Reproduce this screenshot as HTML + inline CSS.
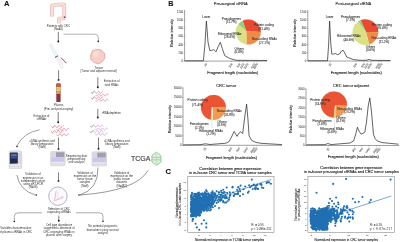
<!DOCTYPE html>
<html><head><meta charset="utf-8"><style>
html,body{margin:0;padding:0;background:#fff;width:400px;height:242px;overflow:hidden}
svg{display:block;filter:blur(0.3px)}
text{font-family:"Liberation Sans", sans-serif}
</style></head><body>
<svg width="400" height="242" viewBox="0 0 400 242">
<rect width="400" height="242" fill="#fff"/>
<text x="4.00" y="6.30" font-size="7.6" text-anchor="start" fill="#151515" stroke="#151515" stroke-width="0.1" font-weight="bold" >A</text>
<path d="M51.9,16.6 L51.9,6.2 Q51.9,5.0 53.4,5.0 L63,4.3 Q64.3,4.2 64.3,5.6 L64.3,17.2 Q64.3,18.5 62.8,18.5 L60.2,18.5 Q58.9,18.5 58.9,19.8 L58.9,23.2" fill="none" stroke="#e6b6aa" stroke-width="3.7" stroke-linejoin="round"/>
<path d="M51.9,16.6 L51.9,6.2 Q51.9,5.0 53.4,5.0 L63,4.3 Q64.3,4.2 64.3,5.6 L64.3,17.2 Q64.3,18.5 62.8,18.5 L60.2,18.5 Q58.9,18.5 58.9,19.8 L58.9,23.2" fill="none" stroke="#f8e0d9" stroke-width="2.4" stroke-linejoin="round"/>
<circle cx="64.6" cy="17.2" r="0.9" fill="#8a4858"/>
<text x="58.40" y="26.63" font-size="2.85" text-anchor="middle" fill="#3a3a3a" stroke="#3a3a3a" stroke-width="0.01" >Patients with CRC</text>
<text x="58.40" y="30.13" font-size="2.85" text-anchor="middle" fill="#3a3a3a" stroke="#3a3a3a" stroke-width="0.01" >(N=40)</text>
<line x1="58.3" y1="31.8" x2="58.3" y2="41.199999999999996" stroke="#2a2a2a" stroke-width="0.6"/>
<circle cx="58.3" cy="41.5" r="0.95" fill="#1a1a1a"/>
<path d="M63.5,34.2 L95,34.2 Q98.3,34.2 98.3,37.5 L98.3,41.2" fill="none" stroke="#555" stroke-width="0.45"/>
<circle cx="98.3" cy="41.4" r="0.8" fill="#1a1a1a"/>
<line x1="50.8" y1="45.2" x2="62.1" y2="67.0" stroke="#dfe6ee" stroke-width="3.0" stroke-linecap="round"/>
<line x1="50.8" y1="45.2" x2="62.1" y2="67.0" stroke="#f4f7fa" stroke-width="1.8" stroke-linecap="round"/>
<line x1="55.0" y1="57.4" x2="58.0" y2="55.8" stroke="#70707a" stroke-width="1.1"/>
<line x1="61.0" y1="57.6" x2="66.4" y2="63.2" stroke="#9a2c44" stroke-width="0.9"/>
<line x1="59.8" y1="59.6" x2="64.4" y2="64.6" stroke="#eec4d0" stroke-width="0.5"/>
<polygon points="104.95,57.87 102.43,61.56 98.57,63.95 94.21,62.58 90.88,59.52 90.64,54.97 92.56,50.80 96.90,49.45 101.29,50.04 104.52,53.28" fill="#f6cfc8" stroke="#d49690" stroke-width="0.7" stroke-linejoin="round"/>
<circle cx="96" cy="54" r="3" fill="#f9dcd6"/>
<text x="98.60" y="68.63" font-size="2.85" text-anchor="middle" fill="#3a3a3a" stroke="#3a3a3a" stroke-width="0.01" >Tissue</text>
<text x="98.60" y="72.03" font-size="2.85" text-anchor="middle" fill="#3a3a3a" stroke="#3a3a3a" stroke-width="0.01" >(Tumor and adjacent normal)</text>
<line x1="58.6" y1="70.2" x2="58.6" y2="79.6" stroke="#2a2a2a" stroke-width="0.6"/>
<circle cx="58.6" cy="79.89999999999999" r="0.95" fill="#1a1a1a"/>
<rect x="56.3" y="83.6" width="4.3" height="18.5" rx="0.9" fill="#8c3242"/>
<rect x="56.3" y="83.6" width="4.3" height="3.3" fill="#c25a3a"/>
<rect x="56.3" y="86.9" width="4.3" height="4.2" fill="#e2c676"/>
<rect x="56.3" y="91.1" width="4.3" height="2.8" fill="#d8a852"/>
<text x="58.60" y="106.23" font-size="2.85" text-anchor="middle" fill="#3a3a3a" stroke="#3a3a3a" stroke-width="0.01" >Plasma</text>
<text x="58.60" y="109.83" font-size="2.85" text-anchor="middle" fill="#3a3a3a" stroke="#3a3a3a" stroke-width="0.01" >(Pre- and post-surgery)</text>
<line x1="97.8" y1="77.3" x2="97.8" y2="87.0" stroke="#2a2a2a" stroke-width="0.6"/>
<circle cx="97.8" cy="87.3" r="0.95" fill="#1a1a1a"/>
<text x="111.60" y="82.23" font-size="2.85" text-anchor="middle" fill="#3a3a3a" stroke="#3a3a3a" stroke-width="0.01" >Extraction of</text>
<text x="111.60" y="85.53" font-size="2.85" text-anchor="middle" fill="#3a3a3a" stroke="#3a3a3a" stroke-width="0.01" >total RNAs</text>
<polyline points="91.20,92.30 91.37,92.57 91.53,92.83 91.70,93.05 91.87,93.22 92.03,93.34 92.20,93.40 92.37,93.38 92.53,93.30 92.70,93.16 92.87,92.96 93.03,92.73 93.20,92.46 93.37,92.19 93.53,91.92 93.70,91.68 93.87,91.48 94.03,91.32 94.20,91.23 94.37,91.20 94.53,91.24 94.70,91.35 94.87,91.51 95.03,91.73 95.20,91.98 95.37,92.25 95.53,92.52 95.70,92.78 95.87,93.01 96.03,93.19 96.20,93.32 96.37,93.39 96.53,93.39 96.70,93.32 96.87,93.19 97.03,93.01 97.20,92.78 97.37,92.52 97.53,92.25 97.70,91.98 97.87,91.73 98.03,91.51 98.20,91.35 98.37,91.24 98.53,91.20 98.70,91.23 98.87,91.32 99.03,91.48 99.20,91.68 99.37,91.92 99.53,92.19 99.70,92.46 99.87,92.73 100.03,92.96 100.20,93.16 100.37,93.30 100.53,93.38 100.70,93.40 100.87,93.34 101.03,93.22 101.20,93.05 101.37,92.83 101.53,92.57 101.70,92.30 101.87,92.03 102.03,91.77 102.20,91.55 102.37,91.38 102.53,91.26 102.70,91.20 102.87,91.22 103.03,91.30 103.20,91.44" fill="none" stroke="#d47890" stroke-width="0.65"/>
<polyline points="91.20,92.30 91.37,92.57 91.53,92.83 91.70,93.05 91.87,93.22 92.03,93.34 92.20,93.40 92.37,93.38 92.53,93.30 92.70,93.16 92.87,92.96 93.03,92.73 93.20,92.46 93.37,92.19 93.53,91.92 93.70,91.68 93.87,91.48 94.03,91.32 94.20,91.23 94.37,91.20 94.53,91.24" fill="none" stroke="#a8a0a8" stroke-width="0.65"/>
<polyline points="95.70,95.00 95.87,95.27 96.03,95.53 96.20,95.75 96.37,95.93 96.54,96.04 96.70,96.10 96.87,96.08 97.04,96.00 97.20,95.86 97.37,95.66 97.54,95.42 97.71,95.16 97.87,94.88 98.04,94.61 98.21,94.37 98.37,94.17 98.54,94.02 98.71,93.92 98.88,93.90 99.04,93.95 99.21,94.06 99.38,94.22 99.54,94.44 99.71,94.69 99.88,94.96 100.04,95.24 100.21,95.49 100.38,95.72 100.55,95.91 100.71,96.03 100.88,96.09 101.05,96.09 101.21,96.02 101.38,95.88 101.55,95.69 101.72,95.45 101.88,95.19 102.05,94.92 102.22,94.65 102.38,94.40 102.55,94.19 102.72,94.03 102.89,93.93 103.05,93.90 103.22,93.94 103.39,94.04 103.55,94.20 103.72,94.41 103.89,94.66 104.06,94.93 104.22,95.20 104.39,95.46 104.56,95.69 104.72,95.88 104.89,96.02 105.06,96.09 105.23,96.09 105.39,96.03 105.56,95.90 105.73,95.72 105.89,95.49 106.06,95.23 106.23,94.95 106.39,94.68 106.56,94.43 106.73,94.22 106.90,94.05 107.06,93.94 107.23,93.90 107.40,93.93 107.56,94.02 107.73,94.17 107.90,94.38 108.07,94.62 108.23,94.89 108.40,95.16" fill="none" stroke="#d47890" stroke-width="0.65"/>
<polyline points="91.20,97.80 91.37,98.07 91.53,98.33 91.70,98.55 91.87,98.72 92.03,98.84 92.20,98.90 92.37,98.88 92.53,98.80 92.70,98.66 92.87,98.46 93.03,98.23 93.20,97.96 93.37,97.69 93.53,97.42 93.70,97.18 93.87,96.98 94.03,96.82 94.20,96.73 94.37,96.70 94.53,96.74 94.70,96.85 94.87,97.01 95.03,97.23 95.20,97.48 95.37,97.75 95.53,98.02 95.70,98.28 95.87,98.51 96.03,98.69 96.20,98.82 96.37,98.89 96.53,98.89 96.70,98.82 96.87,98.69 97.03,98.51 97.20,98.28 97.37,98.02 97.53,97.75 97.70,97.48 97.87,97.23 98.03,97.01 98.20,96.85 98.37,96.74 98.53,96.70 98.70,96.73 98.87,96.82 99.03,96.98 99.20,97.18 99.37,97.42 99.53,97.69 99.70,97.96 99.87,98.23 100.03,98.46 100.20,98.66 100.37,98.80 100.53,98.88 100.70,98.90 100.87,98.84 101.03,98.72 101.20,98.55 101.37,98.33 101.53,98.07 101.70,97.80 101.87,97.53 102.03,97.27 102.20,97.05 102.37,96.88 102.53,96.76 102.70,96.70 102.87,96.72 103.03,96.80 103.20,96.94" fill="none" stroke="#d47890" stroke-width="0.65"/>
<polyline points="91.20,97.80 91.37,98.07 91.53,98.33 91.70,98.55 91.87,98.72 92.03,98.84 92.20,98.90 92.37,98.88 92.53,98.80 92.70,98.66 92.87,98.46 93.03,98.23 93.20,97.96 93.37,97.69 93.53,97.42 93.70,97.18 93.87,96.98 94.03,96.82 94.20,96.73 94.37,96.70 94.53,96.74" fill="none" stroke="#a8a0a8" stroke-width="0.65"/>
<polyline points="95.70,100.30 95.87,100.57 96.03,100.83 96.20,101.05 96.37,101.23 96.54,101.34 96.70,101.40 96.87,101.38 97.04,101.30 97.20,101.16 97.37,100.96 97.54,100.72 97.71,100.46 97.87,100.18 98.04,99.91 98.21,99.67 98.37,99.47 98.54,99.32 98.71,99.22 98.88,99.20 99.04,99.25 99.21,99.36 99.38,99.52 99.54,99.74 99.71,99.99 99.88,100.26 100.04,100.54 100.21,100.79 100.38,101.02 100.55,101.21 100.71,101.33 100.88,101.39 101.05,101.39 101.21,101.32 101.38,101.18 101.55,100.99 101.72,100.75 101.88,100.49 102.05,100.22 102.22,99.95 102.38,99.70 102.55,99.49 102.72,99.33 102.89,99.23 103.05,99.20 103.22,99.24 103.39,99.34 103.55,99.50 103.72,99.71 103.89,99.96 104.06,100.23 104.22,100.50 104.39,100.76 104.56,100.99 104.72,101.18 104.89,101.32 105.06,101.39 105.23,101.39 105.39,101.33 105.56,101.20 105.73,101.02 105.89,100.79 106.06,100.53 106.23,100.25 106.39,99.98 106.56,99.73 106.73,99.52 106.90,99.35 107.06,99.24 107.23,99.20 107.40,99.23 107.56,99.32 107.73,99.47 107.90,99.68 108.07,99.92 108.23,100.19 108.40,100.46" fill="none" stroke="#d47890" stroke-width="0.65"/>
<line x1="97.8" y1="108.8" x2="97.8" y2="117.2" stroke="#2a2a2a" stroke-width="0.6"/>
<circle cx="97.8" cy="117.5" r="0.95" fill="#1a1a1a"/>
<text x="111.30" y="114.43" font-size="2.85" text-anchor="middle" fill="#3a3a3a" stroke="#3a3a3a" stroke-width="0.01" >rRNA depletion</text>
<polyline points="90.50,126.00 90.67,126.27 90.83,126.53 91.00,126.75 91.17,126.93 91.34,127.04 91.50,127.10 91.67,127.08 91.84,127.00 92.00,126.86 92.17,126.66 92.34,126.42 92.51,126.16 92.67,125.88 92.84,125.61 93.01,125.37 93.17,125.17 93.34,125.02 93.51,124.92 93.67,124.90 93.84,124.95 94.01,125.06 94.18,125.22 94.34,125.44 94.51,125.69 94.68,125.96 94.84,126.24 95.01,126.49 95.18,126.72 95.35,126.91 95.51,127.03 95.68,127.09 95.85,127.09 96.01,127.02 96.18,126.88 96.35,126.69 96.52,126.45 96.68,126.19 96.85,125.92 97.02,125.65 97.18,125.40 97.35,125.19 97.52,125.03 97.69,124.93 97.85,124.90 98.02,124.94 98.19,125.04 98.35,125.20 98.52,125.41 98.69,125.66 98.86,125.93 99.02,126.20 99.19,126.46 99.36,126.69 99.52,126.88 99.69,127.02 99.86,127.09 100.03,127.09 100.19,127.03 100.36,126.90 100.53,126.72 100.69,126.49 100.86,126.23 101.03,125.95 101.19,125.68 101.36,125.43 101.53,125.22 101.70,125.05 101.86,124.94 102.03,124.90 102.20,124.93 102.36,125.02 102.53,125.17 102.70,125.38 102.87,125.62 103.03,125.89 103.20,126.16" fill="none" stroke="#c890d4" stroke-width="0.65"/>
<polyline points="90.50,126.00 90.67,126.27 90.83,126.53 91.00,126.75 91.17,126.93 91.34,127.04 91.50,127.10 91.67,127.08 91.84,127.00 92.00,126.86 92.17,126.66 92.34,126.42 92.51,126.16 92.67,125.88 92.84,125.61 93.01,125.37 93.17,125.17 93.34,125.02 93.51,124.92 93.67,124.90 93.84,124.95 94.01,125.06" fill="none" stroke="#a8a0a8" stroke-width="0.65"/>
<polyline points="95.00,129.00 95.17,129.27 95.34,129.53 95.50,129.75 95.67,129.93 95.84,130.05 96.01,130.10 96.18,130.08 96.34,130.00 96.51,129.85 96.68,129.65 96.85,129.40 97.02,129.14 97.18,128.86 97.35,128.60 97.52,128.35 97.69,128.15 97.86,128.00 98.02,127.92 98.19,127.90 98.36,127.95 98.53,128.07 98.70,128.25 98.86,128.47 99.03,128.73 99.20,129.00 99.37,129.27 99.54,129.53 99.70,129.75 99.87,129.93 100.04,130.05 100.21,130.10 100.38,130.08 100.54,130.00 100.71,129.85 100.88,129.65 101.05,129.40 101.22,129.14 101.38,128.86 101.55,128.60 101.72,128.35 101.89,128.15 102.06,128.00 102.22,127.92 102.39,127.90 102.56,127.95 102.73,128.07 102.90,128.25 103.06,128.47 103.23,128.73 103.40,129.00 103.57,129.27 103.74,129.53 103.90,129.75 104.07,129.93 104.24,130.05 104.41,130.10 104.58,130.08 104.74,130.00 104.91,129.85 105.08,129.65 105.25,129.40 105.42,129.14 105.58,128.86 105.75,128.60 105.92,128.35 106.09,128.15 106.26,128.00 106.42,127.92 106.59,127.90 106.76,127.95 106.93,128.07 107.10,128.25 107.26,128.47 107.43,128.73 107.60,129.00" fill="none" stroke="#c890d4" stroke-width="0.65"/>
<polyline points="90.00,131.60 90.17,131.87 90.33,132.13 90.50,132.35 90.67,132.53 90.84,132.64 91.00,132.70 91.17,132.68 91.34,132.60 91.50,132.46 91.67,132.26 91.84,132.02 92.01,131.76 92.17,131.48 92.34,131.21 92.51,130.97 92.67,130.77 92.84,130.62 93.01,130.52 93.17,130.50 93.34,130.54 93.51,130.65 93.68,130.82 93.84,131.04 94.01,131.29 94.18,131.56 94.34,131.84 94.51,132.09 94.68,132.32 94.85,132.50 95.01,132.63 95.18,132.69 95.35,132.69 95.51,132.62 95.68,132.48 95.85,132.29 96.02,132.05 96.18,131.79 96.35,131.52 96.52,131.25 96.68,131.00 96.85,130.79 97.02,130.63 97.18,130.53 97.35,130.50 97.52,130.53 97.69,130.64 97.85,130.80 98.02,131.01 98.19,131.26 98.35,131.53 98.52,131.80 98.69,132.06 98.86,132.29 99.02,132.48 99.19,132.62 99.36,132.69 99.52,132.69 99.69,132.63 99.86,132.50 100.03,132.32 100.19,132.09 100.36,131.83 100.53,131.56 100.69,131.29 100.86,131.03 101.03,130.82 101.19,130.65 101.36,130.54 101.53,130.50 101.70,130.53 101.86,130.62 102.03,130.77 102.20,130.98 102.36,131.22 102.53,131.49 102.70,131.76 102.87,132.03 103.03,132.26 103.20,132.46" fill="none" stroke="#c890d4" stroke-width="0.65"/>
<polyline points="90.00,131.60 90.17,131.87 90.33,132.13 90.50,132.35 90.67,132.53 90.84,132.64 91.00,132.70 91.17,132.68 91.34,132.60 91.50,132.46 91.67,132.26 91.84,132.02 92.01,131.76 92.17,131.48 92.34,131.21 92.51,130.97 92.67,130.77 92.84,130.62 93.01,130.52 93.17,130.50 93.34,130.54 93.51,130.65 93.68,130.82" fill="none" stroke="#a8a0a8" stroke-width="0.65"/>
<polyline points="95.00,134.20 95.17,134.47 95.34,134.73 95.50,134.95 95.67,135.13 95.84,135.25 96.01,135.30 96.18,135.28 96.34,135.20 96.51,135.05 96.68,134.85 96.85,134.60 97.02,134.34 97.18,134.06 97.35,133.80 97.52,133.55 97.69,133.35 97.86,133.20 98.02,133.12 98.19,133.10 98.36,133.15 98.53,133.27 98.70,133.45 98.86,133.67 99.03,133.93 99.20,134.20 99.37,134.47 99.54,134.73 99.70,134.95 99.87,135.13 100.04,135.25 100.21,135.30 100.38,135.28 100.54,135.20 100.71,135.05 100.88,134.85 101.05,134.60 101.22,134.34 101.38,134.06 101.55,133.80 101.72,133.55 101.89,133.35 102.06,133.20 102.22,133.12 102.39,133.10 102.56,133.15 102.73,133.27 102.90,133.45 103.06,133.67 103.23,133.93 103.40,134.20 103.57,134.47 103.74,134.73 103.90,134.95 104.07,135.13 104.24,135.25 104.41,135.30 104.58,135.28 104.74,135.20 104.91,135.05 105.08,134.85 105.25,134.60 105.42,134.34 105.58,134.06 105.75,133.80 105.92,133.55 106.09,133.35 106.26,133.20 106.42,133.12 106.59,133.10 106.76,133.15 106.93,133.27 107.10,133.45 107.26,133.67 107.43,133.93 107.60,134.20" fill="none" stroke="#c890d4" stroke-width="0.65"/>
<line x1="58.2" y1="112.0" x2="58.2" y2="122.0" stroke="#2a2a2a" stroke-width="0.6"/>
<circle cx="58.2" cy="122.3" r="0.95" fill="#1a1a1a"/>
<text x="41.50" y="116.63" font-size="2.85" text-anchor="middle" fill="#3a3a3a" stroke="#3a3a3a" stroke-width="0.01" >Extraction of</text>
<text x="41.50" y="119.93" font-size="2.85" text-anchor="middle" fill="#3a3a3a" stroke="#3a3a3a" stroke-width="0.01" >cfRNAs</text>
<polyline points="51.70,126.60 51.87,126.87 52.04,127.13 52.21,127.36 52.37,127.53 52.54,127.65 52.71,127.70 52.88,127.68 53.05,127.59 53.22,127.44 53.39,127.24 53.55,127.00 53.72,126.73 53.89,126.45 54.06,126.18 54.23,125.94 54.40,125.74 54.57,125.60 54.73,125.52 54.90,125.50 55.07,125.56 55.24,125.68 55.41,125.86 55.58,126.09 55.75,126.35 55.91,126.62 56.08,126.90 56.25,127.15 56.42,127.37 56.59,127.54 56.76,127.65 56.93,127.70 57.09,127.67 57.26,127.58 57.43,127.43 57.60,127.22 57.77,126.97 57.94,126.70 58.11,126.43 58.27,126.16 58.44,125.92 58.61,125.73 58.78,125.59 58.95,125.51 59.12,125.51 59.29,125.57 59.45,125.70 59.62,125.88 59.79,126.11 59.96,126.37 60.13,126.65 60.30,126.92 60.47,127.17 60.63,127.39 60.80,127.55 60.97,127.66 61.14,127.70 61.31,127.67 61.48,127.57 61.65,127.41 61.81,127.20 61.98,126.95 62.15,126.68 62.32,126.40 62.49,126.14 62.66,125.91 62.83,125.71 62.99,125.58 63.16,125.51 63.33,125.51 63.50,125.58" fill="none" stroke="#d86880" stroke-width="0.65"/>
<polyline points="51.70,126.60 51.87,126.87 52.04,127.13 52.21,127.36 52.37,127.53 52.54,127.65 52.71,127.70 52.88,127.68 53.05,127.59 53.22,127.44 53.39,127.24 53.55,127.00 53.72,126.73 53.89,126.45 54.06,126.18 54.23,125.94 54.40,125.74 54.57,125.60 54.73,125.52 54.90,125.50 55.07,125.56" fill="none" stroke="#b8a0a8" stroke-width="0.65"/>
<polyline points="56.70,129.40 56.87,129.67 57.04,129.93 57.21,130.15 57.37,130.33 57.54,130.45 57.71,130.50 57.88,130.48 58.05,130.39 58.22,130.24 58.38,130.04 58.55,129.80 58.72,129.53 58.89,129.25 59.06,128.98 59.23,128.74 59.40,128.54 59.56,128.40 59.73,128.32 59.90,128.30 60.07,128.36 60.24,128.48 60.41,128.66 60.58,128.89 60.74,129.15 60.91,129.42 61.08,129.69 61.25,129.95 61.42,130.17 61.59,130.34 61.75,130.45 61.92,130.50 62.09,130.48 62.26,130.38 62.43,130.23 62.60,130.02 62.77,129.78 62.93,129.51 63.10,129.23 63.27,128.97 63.44,128.73 63.61,128.53 63.78,128.39 63.95,128.31 64.11,128.30 64.28,128.37 64.45,128.49 64.62,128.68 64.79,128.90 64.96,129.17 65.12,129.44 65.29,129.71 65.46,129.97 65.63,130.18 65.80,130.35 65.97,130.46 66.14,130.50 66.30,130.47 66.47,130.37 66.64,130.22 66.81,130.01 66.98,129.76 67.15,129.49 67.32,129.21 67.48,128.95 67.65,128.71 67.82,128.52 67.99,128.38 68.16,128.31 68.33,128.31 68.49,128.37 68.66,128.50 68.83,128.69 69.00,128.92" fill="none" stroke="#d86880" stroke-width="0.65"/>
<polyline points="51.30,131.60 51.47,131.87 51.63,132.13 51.80,132.35 51.97,132.53 52.14,132.64 52.30,132.70 52.47,132.68 52.64,132.60 52.80,132.46 52.97,132.26 53.14,132.02 53.31,131.76 53.47,131.48 53.64,131.21 53.81,130.97 53.97,130.77 54.14,130.62 54.31,130.52 54.48,130.50 54.64,130.55 54.81,130.66 54.98,130.82 55.14,131.04 55.31,131.29 55.48,131.56 55.65,131.84 55.81,132.10 55.98,132.32 56.15,132.51 56.31,132.63 56.48,132.69 56.65,132.69 56.82,132.61 56.98,132.48 57.15,132.29 57.32,132.05 57.48,131.79 57.65,131.52 57.82,131.25 57.98,131.00 58.15,130.79 58.32,130.63 58.49,130.53 58.65,130.50 58.82,130.54 58.99,130.64 59.15,130.80 59.32,131.01 59.49,131.26 59.66,131.53 59.82,131.80 59.99,132.06 60.16,132.30 60.32,132.48 60.49,132.62 60.66,132.69 60.83,132.69 60.99,132.63 61.16,132.50 61.33,132.31 61.49,132.09 61.66,131.83 61.83,131.55 62.00,131.28 62.16,131.03 62.33,130.82 62.50,130.65 62.66,130.54 62.83,130.50 63.00,130.53 63.17,130.62 63.33,130.77 63.50,130.98" fill="none" stroke="#d86880" stroke-width="0.65"/>
<polyline points="51.30,131.60 51.47,131.87 51.63,132.13 51.80,132.35 51.97,132.53 52.14,132.64 52.30,132.70 52.47,132.68 52.64,132.60 52.80,132.46 52.97,132.26 53.14,132.02 53.31,131.76 53.47,131.48 53.64,131.21 53.81,130.97 53.97,130.77 54.14,130.62 54.31,130.52 54.48,130.50 54.64,130.55" fill="none" stroke="#b8a0a8" stroke-width="0.65"/>
<polyline points="56.70,134.80 56.87,135.07 57.04,135.33 57.21,135.55 57.37,135.73 57.54,135.85 57.71,135.90 57.88,135.88 58.05,135.79 58.22,135.64 58.38,135.44 58.55,135.20 58.72,134.93 58.89,134.65 59.06,134.38 59.23,134.14 59.40,133.94 59.56,133.80 59.73,133.72 59.90,133.70 60.07,133.76 60.24,133.88 60.41,134.06 60.58,134.29 60.74,134.55 60.91,134.82 61.08,135.09 61.25,135.35 61.42,135.57 61.59,135.74 61.75,135.85 61.92,135.90 62.09,135.88 62.26,135.78 62.43,135.63 62.60,135.42 62.77,135.18 62.93,134.91 63.10,134.63 63.27,134.37 63.44,134.13 63.61,133.93 63.78,133.79 63.95,133.71 64.11,133.70 64.28,133.77 64.45,133.89 64.62,134.08 64.79,134.30 64.96,134.57 65.12,134.84 65.29,135.11 65.46,135.37 65.63,135.58 65.80,135.75 65.97,135.86 66.14,135.90 66.30,135.87 66.47,135.77 66.64,135.62 66.81,135.41 66.98,135.16 67.15,134.89 67.32,134.61 67.48,134.35 67.65,134.11 67.82,133.92 67.99,133.78 68.16,133.71 68.33,133.71 68.49,133.77 68.66,133.90 68.83,134.09 69.00,134.32" fill="none" stroke="#d86880" stroke-width="0.65"/>
<line x1="58.5" y1="137.5" x2="58.5" y2="148.60000000000002" stroke="#2a2a2a" stroke-width="0.6"/>
<circle cx="58.5" cy="148.9" r="0.95" fill="#1a1a1a"/>
<line x1="98.5" y1="137.5" x2="98.5" y2="148.4" stroke="#2a2a2a" stroke-width="0.6"/>
<circle cx="98.5" cy="148.7" r="0.95" fill="#1a1a1a"/>
<text x="42.20" y="141.53" font-size="2.85" text-anchor="middle" fill="#3a3a3a" stroke="#3a3a3a" stroke-width="0.01" >cDNA synthesis and</text>
<text x="42.20" y="144.58" font-size="2.85" text-anchor="middle" fill="#3a3a3a" stroke="#3a3a3a" stroke-width="0.01" >library preparation</text>
<text x="42.20" y="147.63" font-size="2.85" text-anchor="middle" fill="#3a3a3a" stroke="#3a3a3a" stroke-width="0.01" >(N=8)</text>
<text x="116.90" y="141.53" font-size="2.85" text-anchor="middle" fill="#3a3a3a" stroke="#3a3a3a" stroke-width="0.01" >cDNA synthesis and</text>
<text x="116.90" y="144.58" font-size="2.85" text-anchor="middle" fill="#3a3a3a" stroke="#3a3a3a" stroke-width="0.01" >library preparation</text>
<text x="116.90" y="147.63" font-size="2.85" text-anchor="middle" fill="#3a3a3a" stroke="#3a3a3a" stroke-width="0.01" >(N=8)</text>
<path d="M39.6,129.8 Q24,132.5 17.3,145.2" fill="none" stroke="#444" stroke-width="0.5"/>
<circle cx="17" cy="146.4" r="0.8" fill="#1a1a1a"/>
<path d="M9.2,152.8 Q9.2,150.8 11.2,150.8 L20,150.9 Q21.8,151 21.8,152.8 L21.8,167.6 Q21.8,168.4 21,168.4 L10,168.4 Q9.2,168.4 9.2,167.6 Z" fill="#e6e6ec" stroke="#bcbcc6" stroke-width="0.5"/>
<path d="M9.8,153.2 Q9.8,152.6 10.6,152.6 L17.2,152.4 Q17.8,152.4 17.8,153.0 L17.8,163.4 L9.8,163.8 Z" fill="#232a48"/>
<path d="M10.6,153.6 L17.0,153.4 L17.0,158.6 L10.6,158.8 Z" fill="#34427a"/>
<path d="M11.1,154.4 L16.5,154.3 L16.5,155.7 L11.1,155.8 Z" fill="#7080c0"/>
<path d="M11.1,156.8 L16.5,156.7 L16.5,157.4 L11.1,157.5 Z" fill="#5262a6"/>
<path d="M18.2,152.4 L21.4,153.0 L21.4,163.4 L18.2,163.4 Z" fill="#d6d6de"/>
<line x1="9.4" y1="166.2" x2="21.6" y2="166.2" stroke="#d0d0d8" stroke-width="0.5"/>
<rect x="50.6" y="151.4" width="14.5" height="14.3" rx="1.2" fill="#e6e6ec" stroke="#c0c0ca" stroke-width="0.5"/>
<rect x="55.800000000000004" y="152.20000000000002" width="8.6" height="5.0" fill="#a4a4b4"/>
<path d="M57.1,152.4 L57.1,157.0 M59.1,152.4 L59.1,157.0 M61.1,152.4 L61.1,157.0 M63.1,152.4 L63.1,157.0" stroke="#8a8a9c" stroke-width="0.4"/>
<rect x="51.2" y="157.3" width="13.3" height="4.4" fill="#cbc6ea"/>
<rect x="51.2" y="152.20000000000002" width="4.4" height="5.1" fill="#d8d8e0"/>
<line x1="51.1" y1="164.0" x2="64.6" y2="164.0" stroke="#c8c8d2" stroke-width="0.5"/>
<rect x="92" y="151.8" width="14.5" height="14.3" rx="1.2" fill="#e6e6ec" stroke="#c0c0ca" stroke-width="0.5"/>
<rect x="97.2" y="152.60000000000002" width="8.6" height="5.0" fill="#a4a4b4"/>
<path d="M98.5,152.8 L98.5,157.4 M100.5,152.8 L100.5,157.4 M102.5,152.8 L102.5,157.4 M104.5,152.8 L104.5,157.4" stroke="#8a8a9c" stroke-width="0.4"/>
<rect x="92.6" y="157.70000000000002" width="13.3" height="4.4" fill="#cbc6ea"/>
<rect x="92.6" y="152.60000000000002" width="4.4" height="5.1" fill="#d8d8e0"/>
<line x1="92.5" y1="164.4" x2="106" y2="164.4" stroke="#c8c8d2" stroke-width="0.5"/>
<text x="76.50" y="156.53" font-size="2.85" text-anchor="middle" fill="#3a3a3a" stroke="#3a3a3a" stroke-width="0.01" >Sequencing data</text>
<text x="76.50" y="159.58" font-size="2.85" text-anchor="middle" fill="#3a3a3a" stroke="#3a3a3a" stroke-width="0.01" >preprocessing</text>
<text x="76.50" y="162.63" font-size="2.85" text-anchor="middle" fill="#3a3a3a" stroke="#3a3a3a" stroke-width="0.01" >and analysis</text>
<text x="131.00" y="161.00" font-size="7.6" text-anchor="start" fill="#404040" stroke="#404040" stroke-width="0.15" textLength="19.5" lengthAdjust="spacingAndGlyphs">TCGA</text>
<path d="M156.4,152.1 L160.8,155.4 L161.0,162.0 L156.4,165.4 L151.9,162.0 L152.0,155.4 Z" fill="#dcf0dc" stroke="#92c898" stroke-width="0.9" stroke-linejoin="round"/>
<path d="M151.2,157.4 L161.6,157.4 M151.2,159.8 L161.6,159.8" stroke="#8cc492" stroke-width="0.6"/>
<path d="M154.6,152.8 Q157.8,156 156.6,158.6 Q155.2,161.6 158.2,164.8" fill="none" stroke="#a6d4aa" stroke-width="0.6"/>
<line x1="58.5" y1="172.4" x2="58.5" y2="180.60000000000002" stroke="#2a2a2a" stroke-width="0.6"/>
<circle cx="58.5" cy="180.9" r="0.95" fill="#1a1a1a"/>
<text x="33.10" y="175.33" font-size="2.85" text-anchor="middle" fill="#3a3a3a" stroke="#3a3a3a" stroke-width="0.01" >Validation of</text>
<text x="33.10" y="178.58" font-size="2.85" text-anchor="middle" fill="#3a3a3a" stroke="#3a3a3a" stroke-width="0.01" >expression in an</text>
<text x="33.10" y="181.83" font-size="2.85" text-anchor="middle" fill="#3a3a3a" stroke="#3a3a3a" stroke-width="0.01" >independent cohort</text>
<text x="33.10" y="185.08" font-size="2.85" text-anchor="middle" fill="#3a3a3a" stroke="#3a3a3a" stroke-width="0.01" >using qRT-PCR</text>
<text x="33.10" y="188.33" font-size="2.85" text-anchor="middle" fill="#3a3a3a" stroke="#3a3a3a" stroke-width="0.01" >(N=36)</text>
<text x="84.90" y="173.73" font-size="2.85" text-anchor="middle" fill="#3a3a3a" stroke="#3a3a3a" stroke-width="0.01" >Validation of</text>
<text x="84.90" y="176.93" font-size="2.85" text-anchor="middle" fill="#3a3a3a" stroke="#3a3a3a" stroke-width="0.01" >expression on the</text>
<text x="84.90" y="180.13" font-size="2.85" text-anchor="middle" fill="#3a3a3a" stroke="#3a3a3a" stroke-width="0.01" >tumor tissue</text>
<text x="84.90" y="183.33" font-size="2.85" text-anchor="middle" fill="#3a3a3a" stroke="#3a3a3a" stroke-width="0.01" >samples</text>
<text x="84.90" y="186.53" font-size="2.85" text-anchor="middle" fill="#3a3a3a" stroke="#3a3a3a" stroke-width="0.01" >(N=8)</text>
<text x="121.70" y="173.73" font-size="2.85" text-anchor="middle" fill="#3a3a3a" stroke="#3a3a3a" stroke-width="0.01" >Validation of</text>
<text x="121.70" y="176.93" font-size="2.85" text-anchor="middle" fill="#3a3a3a" stroke="#3a3a3a" stroke-width="0.01" >expression on the</text>
<text x="121.70" y="180.13" font-size="2.85" text-anchor="middle" fill="#3a3a3a" stroke="#3a3a3a" stroke-width="0.01" >public tissue</text>
<text x="121.70" y="183.33" font-size="2.85" text-anchor="middle" fill="#3a3a3a" stroke="#3a3a3a" stroke-width="0.01" >datasets</text>
<text x="121.70" y="186.53" font-size="2.85" text-anchor="middle" fill="#3a3a3a" stroke="#3a3a3a" stroke-width="0.01" >(N=482)</text>
<path d="M16.9,175 Q19.5,190 35,195" fill="none" stroke="#333" stroke-width="0.5"/>
<circle cx="36.2" cy="195" r="0.8" fill="#111"/>
<path d="M98,167.5 Q98.5,189 80,195" fill="none" stroke="#333" stroke-width="0.5"/>
<path d="M148,170.5 Q136,191 80,195" fill="none" stroke="#333" stroke-width="0.5"/>
<circle cx="79" cy="195" r="0.8" fill="#111"/>
<circle cx="57.9" cy="196.2" r="9.2" fill="#fbfbfd" stroke="#aaacbc" stroke-width="0.9"/>
<path d="M56.2,190.8 Q55.2,196 54.6,200.6 Q59,199.5 63.6,197" fill="none" stroke="#dca2c0" stroke-width="0.75"/>
<path d="M58.4,191.6 Q57.6,195.5 57,198.6 Q60,197.8 63.2,195.6" fill="none" stroke="#ecc6d8" stroke-width="0.5"/>
<text x="58.90" y="209.83" font-size="2.85" text-anchor="middle" fill="#3a3a3a" stroke="#3a3a3a" stroke-width="0.01" >Selection of CRC</text>
<text x="58.90" y="213.43" font-size="2.85" text-anchor="middle" fill="#3a3a3a" stroke="#3a3a3a" stroke-width="0.01" >originating cfRNAs</text>
<path d="M42,212.8 L18,212.8 Q14.3,212.8 14.3,216.5 L14.3,221" fill="none" stroke="#555" stroke-width="0.5"/>
<circle cx="14.3" cy="221.5" r="0.8" fill="#111"/>
<line x1="58.8" y1="215.5" x2="58.8" y2="220.4" stroke="#2a2a2a" stroke-width="0.6"/>
<circle cx="58.8" cy="220.7" r="0.95" fill="#1a1a1a"/>
<path d="M76,212.8 L99.5,212.8 Q103,212.8 103,216.5 L103,220.6" fill="none" stroke="#555" stroke-width="0.5"/>
<circle cx="103" cy="221.2" r="0.8" fill="#111"/>
<text x="15.80" y="229.23" font-size="2.85" text-anchor="middle" fill="#3a3a3a" stroke="#3a3a3a" stroke-width="0.01" >Variable characterization</text>
<text x="15.80" y="232.83" font-size="2.85" text-anchor="middle" fill="#3a3a3a" stroke="#3a3a3a" stroke-width="0.01" >of plasma cfRNAs in CRC</text>
<text x="59.00" y="225.63" font-size="2.85" text-anchor="middle" fill="#3a3a3a" stroke="#3a3a3a" stroke-width="0.01" >Cell type abundance</text>
<text x="59.00" y="229.23" font-size="2.85" text-anchor="middle" fill="#3a3a3a" stroke="#3a3a3a" stroke-width="0.01" >suggested a decrease of</text>
<text x="59.00" y="232.83" font-size="2.85" text-anchor="middle" fill="#3a3a3a" stroke="#3a3a3a" stroke-width="0.01" >CRC originating RNAs in</text>
<text x="59.00" y="236.43" font-size="2.85" text-anchor="middle" fill="#3a3a3a" stroke="#3a3a3a" stroke-width="0.01" >plasma after surgery</text>
<text x="102.80" y="227.43" font-size="2.85" text-anchor="middle" fill="#3a3a3a" stroke="#3a3a3a" stroke-width="0.01" >No potential prognostic</text>
<text x="102.80" y="230.93" font-size="2.85" text-anchor="middle" fill="#3a3a3a" stroke="#3a3a3a" stroke-width="0.01" >biomarkers using survival</text>
<text x="102.80" y="234.43" font-size="2.85" text-anchor="middle" fill="#3a3a3a" stroke="#3a3a3a" stroke-width="0.01" >analysis</text>
<text x="168.20" y="6.40" font-size="7.2" text-anchor="start" fill="#151515" stroke="#151515" stroke-width="0.1" font-weight="bold" >B</text>
<line x1="184.6" y1="9.9" x2="184.6" y2="61.1" stroke="#444" stroke-width="0.5"/>
<line x1="184.6" y1="61.1" x2="267.3" y2="61.1" stroke="#444" stroke-width="0.5"/>
<line x1="183.6" y1="11.90" x2="184.6" y2="11.90" stroke="#555" stroke-width="0.4"/>
<text x="183.10" y="12.85" font-size="2.8" text-anchor="end" fill="#505050" stroke="#505050" stroke-width="0.04" >1200</text>
<line x1="183.6" y1="20.10" x2="184.6" y2="20.10" stroke="#555" stroke-width="0.4"/>
<text x="183.10" y="21.05" font-size="2.8" text-anchor="end" fill="#505050" stroke="#505050" stroke-width="0.04" >1000</text>
<line x1="183.6" y1="28.30" x2="184.6" y2="28.30" stroke="#555" stroke-width="0.4"/>
<text x="183.10" y="29.25" font-size="2.8" text-anchor="end" fill="#505050" stroke="#505050" stroke-width="0.04" >800</text>
<line x1="183.6" y1="36.50" x2="184.6" y2="36.50" stroke="#555" stroke-width="0.4"/>
<text x="183.10" y="37.45" font-size="2.8" text-anchor="end" fill="#505050" stroke="#505050" stroke-width="0.04" >600</text>
<line x1="183.6" y1="44.70" x2="184.6" y2="44.70" stroke="#555" stroke-width="0.4"/>
<text x="183.10" y="45.65" font-size="2.8" text-anchor="end" fill="#505050" stroke="#505050" stroke-width="0.04" >400</text>
<line x1="183.6" y1="52.90" x2="184.6" y2="52.90" stroke="#555" stroke-width="0.4"/>
<text x="183.10" y="53.85" font-size="2.8" text-anchor="end" fill="#505050" stroke="#505050" stroke-width="0.04" >200</text>
<line x1="183.6" y1="61.10" x2="184.6" y2="61.10" stroke="#555" stroke-width="0.4"/>
<text x="183.10" y="62.05" font-size="2.8" text-anchor="end" fill="#505050" stroke="#505050" stroke-width="0.04" >0</text>
<path d="M184.70,60.80 L203.40,60.80 L204.90,45.00 L206.40,21.00 L208.00,42.00 L209.80,50.60 L211.50,50.40 L213.50,49.60 L214.80,50.60 L216.00,51.90 L218.20,46.50 L220.30,42.30 L222.30,48.50 L224.70,55.60 L229.60,58.40 L236.00,60.30 L267.00,60.50" fill="none" stroke="#222" stroke-width="0.7" stroke-linejoin="round"/>
<text x="230.75" y="5.00" font-size="4.0" text-anchor="middle" fill="#222" stroke="#222" stroke-width="0.1" >Pre-surgical cfRNA</text>
<text x="172.80" y="33.00" font-size="3.7" text-anchor="middle" fill="#303030" stroke="#303030" stroke-width="0.1" transform="rotate(-90 172.8 33)">Relative intensity</text>
<line x1="206.1" y1="61.1" x2="206.1" y2="62.0" stroke="#555" stroke-width="0.35"/>
<text x="207.30" y="64.10" font-size="2.7" text-anchor="end" fill="#555" stroke="#555" stroke-width="0.06" transform="rotate(-55 207.29999999999998 64.1)">25</text>
<line x1="231.5" y1="61.1" x2="231.5" y2="62.0" stroke="#555" stroke-width="0.35"/>
<text x="232.70" y="64.10" font-size="2.7" text-anchor="end" fill="#555" stroke="#555" stroke-width="0.06" transform="rotate(-55 232.7 64.1)">200</text>
<line x1="239.4" y1="61.1" x2="239.4" y2="62.0" stroke="#555" stroke-width="0.35"/>
<text x="240.60" y="64.10" font-size="2.7" text-anchor="end" fill="#555" stroke="#555" stroke-width="0.06" transform="rotate(-55 240.6 64.1)">500</text>
<line x1="243.4" y1="61.1" x2="243.4" y2="62.0" stroke="#555" stroke-width="0.35"/>
<text x="244.60" y="64.10" font-size="2.7" text-anchor="end" fill="#555" stroke="#555" stroke-width="0.06" transform="rotate(-55 244.6 64.1)">1000</text>
<line x1="247.3" y1="61.1" x2="247.3" y2="62.0" stroke="#555" stroke-width="0.35"/>
<text x="248.50" y="64.10" font-size="2.7" text-anchor="end" fill="#555" stroke="#555" stroke-width="0.06" transform="rotate(-55 248.5 64.1)">2000</text>
<line x1="254.3" y1="61.1" x2="254.3" y2="62.0" stroke="#555" stroke-width="0.35"/>
<text x="255.50" y="64.10" font-size="2.7" text-anchor="end" fill="#555" stroke="#555" stroke-width="0.06" transform="rotate(-55 255.5 64.1)">4000</text>
<line x1="256.9" y1="61.1" x2="256.9" y2="62.0" stroke="#555" stroke-width="0.35"/>
<text x="258.10" y="64.10" font-size="2.7" text-anchor="end" fill="#555" stroke="#555" stroke-width="0.06" transform="rotate(-55 258.09999999999997 64.1)">6000</text>
<text x="232.80" y="74.15" font-size="3.85" text-anchor="middle" fill="#262626" stroke="#262626" stroke-width="0.12" >Fragment length (nucleotides)</text>
<text x="206.30" y="17.90" font-size="2.9" text-anchor="middle" fill="#333" stroke="#333" stroke-width="0.07" >Lower</text>
<path d="M246.3,31.0 L242.63,20.86 A12.5,12.5 0 0 1 260.80,32.00 Z" fill="#e84a32" stroke="#e84a32" stroke-width="0.15"/>
<path d="M246.3,31.0 L260.80,32.00 A12.5,12.5 0 0 1 246.56,44.38 Z" fill="#f08a48" stroke="#f08a48" stroke-width="0.15"/>
<path d="M246.3,31.0 L246.56,44.38 A12.5,12.5 0 0 1 238.45,24.30 Z" fill="#dce084" stroke="#dce084" stroke-width="0.15"/>
<path d="M246.3,31.0 L238.45,24.30 A12.5,12.5 0 0 1 242.63,20.86 Z" fill="#92d07e" stroke="#92d07e" stroke-width="0.15"/>
<text x="231.30" y="19.82" font-size="3.1" text-anchor="middle" fill="#333333" stroke="#333333" stroke-width="0.07" >Pseudogenes</text>
<text x="231.30" y="22.72" font-size="3.1" text-anchor="middle" fill="#333333" stroke="#333333" stroke-width="0.07" >(11.7%)</text>
<text x="229.50" y="35.02" font-size="3.1" text-anchor="middle" fill="#333333" stroke="#333333" stroke-width="0.07" >Ribosomal RNAs</text>
<text x="229.50" y="38.02" font-size="3.1" text-anchor="middle" fill="#333333" stroke="#333333" stroke-width="0.07" >(28.6%)</text>
<text x="239.10" y="49.92" font-size="3.1" text-anchor="middle" fill="#333333" stroke="#333333" stroke-width="0.07" >Others</text>
<text x="239.10" y="52.62" font-size="3.1" text-anchor="middle" fill="#333333" stroke="#333333" stroke-width="0.07" >(0.0%)</text>
<text x="264.00" y="26.22" font-size="3.1" text-anchor="middle" fill="#333333" stroke="#333333" stroke-width="0.07" >Protein coding</text>
<text x="264.00" y="29.62" font-size="3.1" text-anchor="middle" fill="#333333" stroke="#333333" stroke-width="0.07" >(31.4%)</text>
<text x="264.50" y="40.22" font-size="3.1" text-anchor="middle" fill="#333333" stroke="#333333" stroke-width="0.07" >Non-coding RNAs</text>
<text x="264.50" y="43.72" font-size="3.1" text-anchor="middle" fill="#333333" stroke="#333333" stroke-width="0.07" >(27.2%)</text>
<line x1="307.8" y1="9.9" x2="307.8" y2="61.0" stroke="#444" stroke-width="0.5"/>
<line x1="307.8" y1="61.0" x2="390.5" y2="61.0" stroke="#444" stroke-width="0.5"/>
<line x1="306.8" y1="12.00" x2="307.8" y2="12.00" stroke="#555" stroke-width="0.4"/>
<text x="306.30" y="12.95" font-size="2.8" text-anchor="end" fill="#505050" stroke="#505050" stroke-width="0.04" >1200</text>
<line x1="306.8" y1="20.17" x2="307.8" y2="20.17" stroke="#555" stroke-width="0.4"/>
<text x="306.30" y="21.12" font-size="2.8" text-anchor="end" fill="#505050" stroke="#505050" stroke-width="0.04" >1000</text>
<line x1="306.8" y1="28.34" x2="307.8" y2="28.34" stroke="#555" stroke-width="0.4"/>
<text x="306.30" y="29.29" font-size="2.8" text-anchor="end" fill="#505050" stroke="#505050" stroke-width="0.04" >800</text>
<line x1="306.8" y1="36.51" x2="307.8" y2="36.51" stroke="#555" stroke-width="0.4"/>
<text x="306.30" y="37.46" font-size="2.8" text-anchor="end" fill="#505050" stroke="#505050" stroke-width="0.04" >600</text>
<line x1="306.8" y1="44.68" x2="307.8" y2="44.68" stroke="#555" stroke-width="0.4"/>
<text x="306.30" y="45.63" font-size="2.8" text-anchor="end" fill="#505050" stroke="#505050" stroke-width="0.04" >400</text>
<line x1="306.8" y1="52.85" x2="307.8" y2="52.85" stroke="#555" stroke-width="0.4"/>
<text x="306.30" y="53.80" font-size="2.8" text-anchor="end" fill="#505050" stroke="#505050" stroke-width="0.04" >200</text>
<line x1="306.8" y1="61.02" x2="307.8" y2="61.02" stroke="#555" stroke-width="0.4"/>
<text x="306.30" y="61.97" font-size="2.8" text-anchor="end" fill="#505050" stroke="#505050" stroke-width="0.04" >0</text>
<path d="M307.80,60.80 L327.50,60.80 L328.60,45.00 L329.60,21.00 L330.80,44.00 L331.80,54.00 L333.50,54.20 L335.20,53.40 L337.50,54.60 L339.50,54.00 L341.50,51.00 L343.20,50.20 L345.00,53.50 L346.70,57.00 L353.60,59.60 L360.00,60.30 L366.00,60.30 L369.00,59.50 L372.00,60.30 L390.50,60.50" fill="none" stroke="#222" stroke-width="0.7" stroke-linejoin="round"/>
<text x="353.40" y="5.40" font-size="4.0" text-anchor="middle" fill="#222" stroke="#222" stroke-width="0.1" >Post-surgical cfRNA</text>
<text x="295.50" y="33.00" font-size="3.7" text-anchor="middle" fill="#303030" stroke="#303030" stroke-width="0.1" transform="rotate(-90 295.5 33)">Relative intensity</text>
<line x1="330.5" y1="61.0" x2="330.5" y2="61.9" stroke="#555" stroke-width="0.35"/>
<text x="331.70" y="64.00" font-size="2.7" text-anchor="end" fill="#555" stroke="#555" stroke-width="0.06" transform="rotate(-55 331.7 64.0)">25</text>
<line x1="355.9" y1="61.0" x2="355.9" y2="61.9" stroke="#555" stroke-width="0.35"/>
<text x="357.10" y="64.00" font-size="2.7" text-anchor="end" fill="#555" stroke="#555" stroke-width="0.06" transform="rotate(-55 357.09999999999997 64.0)">200</text>
<line x1="363.8" y1="61.0" x2="363.8" y2="61.9" stroke="#555" stroke-width="0.35"/>
<text x="365.00" y="64.00" font-size="2.7" text-anchor="end" fill="#555" stroke="#555" stroke-width="0.06" transform="rotate(-55 365.0 64.0)">500</text>
<line x1="367.3" y1="61.0" x2="367.3" y2="61.9" stroke="#555" stroke-width="0.35"/>
<text x="368.50" y="64.00" font-size="2.7" text-anchor="end" fill="#555" stroke="#555" stroke-width="0.06" transform="rotate(-55 368.5 64.0)">1000</text>
<line x1="370.8" y1="61.0" x2="370.8" y2="61.9" stroke="#555" stroke-width="0.35"/>
<text x="372.00" y="64.00" font-size="2.7" text-anchor="end" fill="#555" stroke="#555" stroke-width="0.06" transform="rotate(-55 372.0 64.0)">2000</text>
<line x1="378.7" y1="61.0" x2="378.7" y2="61.9" stroke="#555" stroke-width="0.35"/>
<text x="379.90" y="64.00" font-size="2.7" text-anchor="end" fill="#555" stroke="#555" stroke-width="0.06" transform="rotate(-55 379.9 64.0)">4000</text>
<line x1="381.3" y1="61.0" x2="381.3" y2="61.9" stroke="#555" stroke-width="0.35"/>
<text x="382.50" y="64.00" font-size="2.7" text-anchor="end" fill="#555" stroke="#555" stroke-width="0.06" transform="rotate(-55 382.5 64.0)">6000</text>
<text x="356.30" y="74.15" font-size="3.85" text-anchor="middle" fill="#262626" stroke="#262626" stroke-width="0.12" >Fragment length (nucleotides)</text>
<text x="329.60" y="18.00" font-size="2.9" text-anchor="middle" fill="#333" stroke="#333" stroke-width="0.07" >Lower</text>
<path d="M366.0,32.0 L360.67,20.20 A12.9,12.9 0 0 1 378.30,32.20 Z" fill="#e84a32" stroke="#e84a32" stroke-width="0.15"/>
<path d="M366.0,32.0 L378.30,32.20 A12.9,12.9 0 0 1 369.24,44.52 Z" fill="#f08a48" stroke="#f08a48" stroke-width="0.15"/>
<path d="M366.0,32.0 L369.24,44.52 A12.9,12.9 0 0 1 358.09,21.57 Z" fill="#dce084" stroke="#dce084" stroke-width="0.15"/>
<path d="M366.0,32.0 L358.09,21.57 A12.9,12.9 0 0 1 360.67,20.20 Z" fill="#92d07e" stroke="#92d07e" stroke-width="0.15"/>
<text x="350.50" y="17.62" font-size="3.1" text-anchor="middle" fill="#333333" stroke="#333333" stroke-width="0.07" >Pseudogenes</text>
<text x="350.50" y="20.62" font-size="3.1" text-anchor="middle" fill="#333333" stroke="#333333" stroke-width="0.07" >(7.1%)</text>
<text x="348.80" y="37.02" font-size="3.1" text-anchor="middle" fill="#333333" stroke="#333333" stroke-width="0.07" >Ribosomal RNAs</text>
<text x="348.80" y="40.62" font-size="3.1" text-anchor="middle" fill="#333333" stroke="#333333" stroke-width="0.07" >(46.6%)</text>
<text x="370.50" y="48.32" font-size="3.1" text-anchor="middle" fill="#333333" stroke="#333333" stroke-width="0.07" >Others</text>
<text x="370.50" y="51.22" font-size="3.1" text-anchor="middle" fill="#333333" stroke="#333333" stroke-width="0.07" >(0.6%)</text>
<text x="382.10" y="26.02" font-size="3.1" text-anchor="middle" fill="#333333" stroke="#333333" stroke-width="0.07" >Protein coding</text>
<text x="382.10" y="29.32" font-size="3.1" text-anchor="middle" fill="#333333" stroke="#333333" stroke-width="0.07" >(35.0%)</text>
<text x="384.00" y="39.02" font-size="3.1" text-anchor="middle" fill="#333333" stroke="#333333" stroke-width="0.07" >Non-coding RNAs</text>
<text x="384.00" y="42.62" font-size="3.1" text-anchor="middle" fill="#333333" stroke="#333333" stroke-width="0.07" >(11.2%)</text>
<line x1="183.0" y1="87.4" x2="183.0" y2="145.3" stroke="#444" stroke-width="0.5"/>
<line x1="183.0" y1="145.3" x2="282.2" y2="145.3" stroke="#444" stroke-width="0.5"/>
<line x1="182.0" y1="87.90" x2="183.0" y2="87.90" stroke="#555" stroke-width="0.4"/>
<text x="181.50" y="88.85" font-size="2.8" text-anchor="end" fill="#505050" stroke="#505050" stroke-width="0.04" >30000</text>
<line x1="182.0" y1="97.47" x2="183.0" y2="97.47" stroke="#555" stroke-width="0.4"/>
<text x="181.50" y="98.42" font-size="2.8" text-anchor="end" fill="#505050" stroke="#505050" stroke-width="0.04" >25000</text>
<line x1="182.0" y1="107.04" x2="183.0" y2="107.04" stroke="#555" stroke-width="0.4"/>
<text x="181.50" y="107.99" font-size="2.8" text-anchor="end" fill="#505050" stroke="#505050" stroke-width="0.04" >20000</text>
<line x1="182.0" y1="116.61" x2="183.0" y2="116.61" stroke="#555" stroke-width="0.4"/>
<text x="181.50" y="117.56" font-size="2.8" text-anchor="end" fill="#505050" stroke="#505050" stroke-width="0.04" >15000</text>
<line x1="182.0" y1="126.18" x2="183.0" y2="126.18" stroke="#555" stroke-width="0.4"/>
<text x="181.50" y="127.13" font-size="2.8" text-anchor="end" fill="#505050" stroke="#505050" stroke-width="0.04" >10000</text>
<line x1="182.0" y1="135.75" x2="183.0" y2="135.75" stroke="#555" stroke-width="0.4"/>
<text x="181.50" y="136.70" font-size="2.8" text-anchor="end" fill="#505050" stroke="#505050" stroke-width="0.04" >5000</text>
<line x1="182.0" y1="145.32" x2="183.0" y2="145.32" stroke="#555" stroke-width="0.4"/>
<text x="181.50" y="146.27" font-size="2.8" text-anchor="end" fill="#505050" stroke="#505050" stroke-width="0.04" >0</text>
<path d="M183.20,144.90 L200.00,144.70 L205.50,143.80 L210.00,144.50 L226.00,143.20 L229.10,141.60 L231.50,137.00 L234.10,131.40 L237.00,136.40 L239.00,133.00 L240.90,131.80 L242.70,133.60 L244.60,118.00 L246.60,104.10 L248.00,120.00 L249.10,135.90 L251.80,140.50 L256.00,142.40 L260.90,143.30 L282.00,144.60" fill="none" stroke="#222" stroke-width="0.7" stroke-linejoin="round"/>
<text x="226.25" y="86.75" font-size="4.0" text-anchor="middle" fill="#222" stroke="#222" stroke-width="0.1" >CRC tumor</text>
<text x="170.80" y="119.20" font-size="3.7" text-anchor="middle" fill="#303030" stroke="#303030" stroke-width="0.1" transform="rotate(-90 170.8 119.2)">Relative intensity</text>
<line x1="205.3" y1="145.3" x2="205.3" y2="146.20000000000002" stroke="#555" stroke-width="0.35"/>
<text x="206.50" y="148.30" font-size="2.7" text-anchor="end" fill="#555" stroke="#555" stroke-width="0.06" transform="rotate(-55 206.5 148.3)">25</text>
<line x1="231.0" y1="145.3" x2="231.0" y2="146.20000000000002" stroke="#555" stroke-width="0.35"/>
<text x="232.20" y="148.30" font-size="2.7" text-anchor="end" fill="#555" stroke="#555" stroke-width="0.06" transform="rotate(-55 232.2 148.3)">200</text>
<line x1="238.9" y1="145.3" x2="238.9" y2="146.20000000000002" stroke="#555" stroke-width="0.35"/>
<text x="240.10" y="148.30" font-size="2.7" text-anchor="end" fill="#555" stroke="#555" stroke-width="0.06" transform="rotate(-55 240.1 148.3)">500</text>
<line x1="246.8" y1="145.3" x2="246.8" y2="146.20000000000002" stroke="#555" stroke-width="0.35"/>
<text x="248.00" y="148.30" font-size="2.7" text-anchor="end" fill="#555" stroke="#555" stroke-width="0.06" transform="rotate(-55 248.0 148.3)">1000</text>
<line x1="253.8" y1="145.3" x2="253.8" y2="146.20000000000002" stroke="#555" stroke-width="0.35"/>
<text x="255.00" y="148.30" font-size="2.7" text-anchor="end" fill="#555" stroke="#555" stroke-width="0.06" transform="rotate(-55 255.0 148.3)">2000</text>
<line x1="256.4" y1="145.3" x2="256.4" y2="146.20000000000002" stroke="#555" stroke-width="0.35"/>
<text x="257.60" y="148.30" font-size="2.7" text-anchor="end" fill="#555" stroke="#555" stroke-width="0.06" transform="rotate(-55 257.59999999999997 148.3)">4000</text>
<text x="231.50" y="158.50" font-size="3.85" text-anchor="middle" fill="#262626" stroke="#262626" stroke-width="0.12" >Fragment length (nucleotides)</text>
<path d="M212.0,107.0 L210.80,119.73 A12.5,12.5 0 1 1 225.83,108.81 Z" fill="#ea5434" stroke="#ea5434" stroke-width="0.15"/>
<path d="M212.9,107.0 L225.89,107.06 A12.5,12.5 0 0 1 212.96,119.99 Z" fill="#f29a52" stroke="#f29a52" stroke-width="0.15"/>
<path d="M211.5,107.0 L212.96,119.99 A12.5,12.5 0 0 1 210.80,119.73 Z" fill="#dce084" stroke="#dce084" stroke-width="0.15"/>
<line x1="212" y1="120" x2="212" y2="128" stroke="#aaa" stroke-width="0.3"/>
<text x="197.50" y="101.42" font-size="3.1" text-anchor="middle" fill="#333333" stroke="#333333" stroke-width="0.07" >Protein coding</text>
<text x="197.50" y="105.82" font-size="3.1" text-anchor="middle" fill="#333333" stroke="#333333" stroke-width="0.07" >(71.4%)</text>
<text x="229.20" y="112.42" font-size="3.1" text-anchor="middle" fill="#333333" stroke="#333333" stroke-width="0.07" >Non-coding RNAs</text>
<text x="229.20" y="116.22" font-size="3.1" text-anchor="middle" fill="#333333" stroke="#333333" stroke-width="0.07" >(26.9%)</text>
<text x="221.80" y="122.52" font-size="3.1" text-anchor="middle" fill="#333333" stroke="#333333" stroke-width="0.07" >Others</text>
<text x="221.80" y="126.22" font-size="3.1" text-anchor="middle" fill="#333333" stroke="#333333" stroke-width="0.07" >(0.5%)</text>
<text x="199.20" y="124.82" font-size="3.1" text-anchor="middle" fill="#333333" stroke="#333333" stroke-width="0.07" >Pseudogenes</text>
<text x="199.20" y="128.72" font-size="3.1" text-anchor="middle" fill="#333333" stroke="#333333" stroke-width="0.07" >(2.1%)</text>
<text x="211.00" y="131.82" font-size="3.1" text-anchor="middle" fill="#333333" stroke="#333333" stroke-width="0.07" >Ribosomal RNAs</text>
<text x="211.00" y="135.22" font-size="3.1" text-anchor="middle" fill="#333333" stroke="#333333" stroke-width="0.07" >(1.2%)</text>
<line x1="306.0" y1="88.6" x2="306.0" y2="145.5" stroke="#444" stroke-width="0.5"/>
<line x1="306.0" y1="145.5" x2="399.2" y2="145.5" stroke="#444" stroke-width="0.5"/>
<line x1="305.0" y1="89.00" x2="306.0" y2="89.00" stroke="#555" stroke-width="0.4"/>
<text x="304.50" y="89.95" font-size="2.8" text-anchor="end" fill="#505050" stroke="#505050" stroke-width="0.04" >3000</text>
<line x1="305.0" y1="98.42" x2="306.0" y2="98.42" stroke="#555" stroke-width="0.4"/>
<text x="304.50" y="99.37" font-size="2.8" text-anchor="end" fill="#505050" stroke="#505050" stroke-width="0.04" >2500</text>
<line x1="305.0" y1="107.84" x2="306.0" y2="107.84" stroke="#555" stroke-width="0.4"/>
<text x="304.50" y="108.79" font-size="2.8" text-anchor="end" fill="#505050" stroke="#505050" stroke-width="0.04" >2000</text>
<line x1="305.0" y1="117.26" x2="306.0" y2="117.26" stroke="#555" stroke-width="0.4"/>
<text x="304.50" y="118.21" font-size="2.8" text-anchor="end" fill="#505050" stroke="#505050" stroke-width="0.04" >1500</text>
<line x1="305.0" y1="126.68" x2="306.0" y2="126.68" stroke="#555" stroke-width="0.4"/>
<text x="304.50" y="127.63" font-size="2.8" text-anchor="end" fill="#505050" stroke="#505050" stroke-width="0.04" >1000</text>
<line x1="305.0" y1="136.10" x2="306.0" y2="136.10" stroke="#555" stroke-width="0.4"/>
<text x="304.50" y="137.05" font-size="2.8" text-anchor="end" fill="#505050" stroke="#505050" stroke-width="0.04" >500</text>
<line x1="305.0" y1="145.52" x2="306.0" y2="145.52" stroke="#555" stroke-width="0.4"/>
<text x="304.50" y="146.47" font-size="2.8" text-anchor="end" fill="#505050" stroke="#505050" stroke-width="0.04" >0</text>
<path d="M306.20,144.80 L325.00,144.60 L328.00,143.50 L331.00,144.60 L350.00,143.00 L353.60,140.90 L355.50,135.00 L357.40,127.20 L359.00,131.00 L361.10,134.20 L363.00,133.20 L364.80,132.20 L366.50,122.00 L368.20,106.00 L369.80,97.90 L371.50,112.00 L373.50,134.70 L375.30,138.80 L377.20,140.90 L382.00,142.60 L389.60,143.30 L398.50,144.20" fill="none" stroke="#222" stroke-width="0.7" stroke-linejoin="round"/>
<text x="351.10" y="86.75" font-size="4.0" text-anchor="middle" fill="#222" stroke="#222" stroke-width="0.1" >CRC tumor adjacent</text>
<text x="292.40" y="119.00" font-size="3.7" text-anchor="middle" fill="#303030" stroke="#303030" stroke-width="0.1" transform="rotate(-90 292.4 119)">Relative intensity</text>
<line x1="328.5" y1="145.5" x2="328.5" y2="146.4" stroke="#555" stroke-width="0.35"/>
<text x="329.70" y="148.50" font-size="2.7" text-anchor="end" fill="#555" stroke="#555" stroke-width="0.06" transform="rotate(-55 329.7 148.5)">25</text>
<line x1="354.6" y1="145.5" x2="354.6" y2="146.4" stroke="#555" stroke-width="0.35"/>
<text x="355.80" y="148.50" font-size="2.7" text-anchor="end" fill="#555" stroke="#555" stroke-width="0.06" transform="rotate(-55 355.8 148.5)">200</text>
<line x1="361.8" y1="145.5" x2="361.8" y2="146.4" stroke="#555" stroke-width="0.35"/>
<text x="363.00" y="148.50" font-size="2.7" text-anchor="end" fill="#555" stroke="#555" stroke-width="0.06" transform="rotate(-55 363.0 148.5)">500</text>
<line x1="368.8" y1="145.5" x2="368.8" y2="146.4" stroke="#555" stroke-width="0.35"/>
<text x="370.00" y="148.50" font-size="2.7" text-anchor="end" fill="#555" stroke="#555" stroke-width="0.06" transform="rotate(-55 370.0 148.5)">1000</text>
<line x1="376.6" y1="145.5" x2="376.6" y2="146.4" stroke="#555" stroke-width="0.35"/>
<text x="377.80" y="148.50" font-size="2.7" text-anchor="end" fill="#555" stroke="#555" stroke-width="0.06" transform="rotate(-55 377.8 148.5)">2000</text>
<line x1="379.4" y1="145.5" x2="379.4" y2="146.4" stroke="#555" stroke-width="0.35"/>
<text x="380.60" y="148.50" font-size="2.7" text-anchor="end" fill="#555" stroke="#555" stroke-width="0.06" transform="rotate(-55 380.59999999999997 148.5)">4000</text>
<text x="353.30" y="158.15" font-size="3.85" text-anchor="middle" fill="#262626" stroke="#262626" stroke-width="0.12" >Fragment length (nucleotides)</text>
<path d="M335.0,105.4 L333.90,117.40 A13.0,13.0 0 1 1 346.83,105.76 Z" fill="#ea5434" stroke="#ea5434" stroke-width="0.15"/>
<path d="M336.2,105.6 L346.83,105.76 A13.0,13.0 0 0 1 333.67,117.40 Z" fill="#f29a52" stroke="#f29a52" stroke-width="0.15"/>
<path d="M335.1,105.6 L335.71,117.27 A13.0,13.0 0 0 1 333.90,117.40 Z" fill="#dce084" stroke="#dce084" stroke-width="0.15"/>
<line x1="334.6" y1="117" x2="334.6" y2="127.2" stroke="#aaa" stroke-width="0.3"/>
<line x1="337" y1="117" x2="337" y2="119.5" stroke="#aaa" stroke-width="0.3"/>
<text x="320.20" y="100.92" font-size="3.1" text-anchor="middle" fill="#333333" stroke="#333333" stroke-width="0.07" >Protein coding</text>
<text x="320.20" y="104.62" font-size="3.1" text-anchor="middle" fill="#333333" stroke="#333333" stroke-width="0.07" >(74.9%)</text>
<text x="349.60" y="109.82" font-size="3.1" text-anchor="middle" fill="#333333" stroke="#333333" stroke-width="0.07" >Non-coding RNAs</text>
<text x="349.60" y="113.32" font-size="3.1" text-anchor="middle" fill="#333333" stroke="#333333" stroke-width="0.07" >(23.2%)</text>
<text x="340.80" y="119.12" font-size="3.1" text-anchor="middle" fill="#333333" stroke="#333333" stroke-width="0.07" >Others</text>
<text x="340.80" y="122.22" font-size="3.1" text-anchor="middle" fill="#333333" stroke="#333333" stroke-width="0.07" >(0.1%)</text>
<text x="322.00" y="121.72" font-size="3.1" text-anchor="middle" fill="#333333" stroke="#333333" stroke-width="0.07" >Pseudogenes</text>
<text x="322.00" y="125.32" font-size="3.1" text-anchor="middle" fill="#333333" stroke="#333333" stroke-width="0.07" >(1.6%)</text>
<text x="332.00" y="129.82" font-size="3.1" text-anchor="middle" fill="#333333" stroke="#333333" stroke-width="0.07" >Ribosomal RNAs</text>
<text x="332.00" y="132.92" font-size="3.1" text-anchor="middle" fill="#333333" stroke="#333333" stroke-width="0.07" >(0.6%)</text>
<text x="165.40" y="173.60" font-size="7.6" text-anchor="start" fill="#111" stroke="#111" stroke-width="0.08" font-weight="bold" >C</text>
<rect x="187.8" y="176.6" width="86.19999999999999" height="55.80000000000001" fill="none" stroke="#808080" stroke-width="0.55"/>
<line x1="186.8" y1="230.00" x2="187.8" y2="230.00" stroke="#666" stroke-width="0.3"/>
<text x="186.00" y="230.90" font-size="2.5" text-anchor="end" fill="#505050" stroke="#505050" stroke-width="0.03" >0</text>
<line x1="186.8" y1="221.98" x2="187.8" y2="221.98" stroke="#666" stroke-width="0.3"/>
<text x="186.00" y="222.88" font-size="2.5" text-anchor="end" fill="#505050" stroke="#505050" stroke-width="0.03" >2</text>
<line x1="186.8" y1="213.96" x2="187.8" y2="213.96" stroke="#666" stroke-width="0.3"/>
<text x="186.00" y="214.86" font-size="2.5" text-anchor="end" fill="#505050" stroke="#505050" stroke-width="0.03" >4</text>
<line x1="186.8" y1="205.94" x2="187.8" y2="205.94" stroke="#666" stroke-width="0.3"/>
<text x="186.00" y="206.84" font-size="2.5" text-anchor="end" fill="#505050" stroke="#505050" stroke-width="0.03" >6</text>
<line x1="186.8" y1="197.92" x2="187.8" y2="197.92" stroke="#666" stroke-width="0.3"/>
<text x="186.00" y="198.82" font-size="2.5" text-anchor="end" fill="#505050" stroke="#505050" stroke-width="0.03" >8</text>
<line x1="186.8" y1="189.90" x2="187.8" y2="189.90" stroke="#666" stroke-width="0.3"/>
<text x="186.00" y="190.80" font-size="2.5" text-anchor="end" fill="#505050" stroke="#505050" stroke-width="0.03" >10</text>
<line x1="186.8" y1="181.88" x2="187.8" y2="181.88" stroke="#666" stroke-width="0.3"/>
<text x="186.00" y="182.78" font-size="2.5" text-anchor="end" fill="#505050" stroke="#505050" stroke-width="0.03" >12</text>
<line x1="198.90" y1="232.2" x2="198.90" y2="233.2" stroke="#666" stroke-width="0.3"/>
<text x="198.90" y="235.90" font-size="2.5" text-anchor="middle" fill="#505050" stroke="#505050" stroke-width="0.03" >0</text>
<line x1="209.90" y1="232.2" x2="209.90" y2="233.2" stroke="#666" stroke-width="0.3"/>
<text x="209.90" y="235.90" font-size="2.5" text-anchor="middle" fill="#505050" stroke="#505050" stroke-width="0.03" >2</text>
<line x1="220.90" y1="232.2" x2="220.90" y2="233.2" stroke="#666" stroke-width="0.3"/>
<text x="220.90" y="235.90" font-size="2.5" text-anchor="middle" fill="#505050" stroke="#505050" stroke-width="0.03" >4</text>
<line x1="231.90" y1="232.2" x2="231.90" y2="233.2" stroke="#666" stroke-width="0.3"/>
<text x="231.90" y="235.90" font-size="2.5" text-anchor="middle" fill="#505050" stroke="#505050" stroke-width="0.03" >6</text>
<line x1="242.90" y1="232.2" x2="242.90" y2="233.2" stroke="#666" stroke-width="0.3"/>
<text x="242.90" y="235.90" font-size="2.5" text-anchor="middle" fill="#505050" stroke="#505050" stroke-width="0.03" >8</text>
<line x1="253.90" y1="232.2" x2="253.90" y2="233.2" stroke="#666" stroke-width="0.3"/>
<text x="253.90" y="235.90" font-size="2.5" text-anchor="middle" fill="#505050" stroke="#505050" stroke-width="0.03" >10</text>
<line x1="264.90" y1="232.2" x2="264.90" y2="233.2" stroke="#666" stroke-width="0.3"/>
<text x="264.90" y="235.90" font-size="2.5" text-anchor="middle" fill="#505050" stroke="#505050" stroke-width="0.03" >12</text>
<circle cx="215.6" cy="199.4" r="1.05" fill="#2270b2"/>
<circle cx="204.8" cy="197.0" r="1.05" fill="#2270b2"/>
<circle cx="198.6" cy="206.8" r="1.05" fill="#2270b2"/>
<circle cx="192.7" cy="207.7" r="1.05" fill="#2270b2"/>
<circle cx="196.3" cy="196.9" r="1.05" fill="#2270b2"/>
<circle cx="197.0" cy="203.9" r="1.05" fill="#2270b2"/>
<circle cx="194.5" cy="212.7" r="1.05" fill="#2270b2"/>
<circle cx="191.8" cy="206.3" r="1.05" fill="#2270b2"/>
<circle cx="198.4" cy="203.9" r="1.05" fill="#2270b2"/>
<circle cx="200.9" cy="207.9" r="1.05" fill="#2270b2"/>
<circle cx="206.6" cy="206.0" r="1.05" fill="#2270b2"/>
<circle cx="195.7" cy="202.5" r="1.05" fill="#2270b2"/>
<circle cx="195.9" cy="209.1" r="1.05" fill="#2270b2"/>
<circle cx="191.1" cy="204.2" r="1.05" fill="#2270b2"/>
<circle cx="207.3" cy="205.5" r="1.05" fill="#2270b2"/>
<circle cx="192.9" cy="202.1" r="1.05" fill="#2270b2"/>
<circle cx="221.8" cy="195.0" r="1.05" fill="#2270b2"/>
<circle cx="218.6" cy="192.2" r="1.05" fill="#2270b2"/>
<circle cx="199.3" cy="201.1" r="1.05" fill="#2270b2"/>
<circle cx="236.1" cy="194.1" r="1.05" fill="#2270b2"/>
<circle cx="207.3" cy="197.1" r="1.05" fill="#2270b2"/>
<circle cx="198.6" cy="202.3" r="1.05" fill="#2270b2"/>
<circle cx="199.9" cy="211.6" r="1.05" fill="#2270b2"/>
<circle cx="207.0" cy="207.9" r="1.05" fill="#2270b2"/>
<circle cx="197.6" cy="205.5" r="1.05" fill="#2270b2"/>
<circle cx="196.6" cy="209.2" r="1.05" fill="#2270b2"/>
<circle cx="192.7" cy="201.9" r="1.05" fill="#2270b2"/>
<circle cx="201.4" cy="206.2" r="1.05" fill="#2270b2"/>
<circle cx="229.4" cy="197.3" r="1.05" fill="#2270b2"/>
<circle cx="214.9" cy="193.2" r="1.05" fill="#2270b2"/>
<circle cx="211.1" cy="197.8" r="1.05" fill="#2270b2"/>
<circle cx="211.3" cy="192.7" r="1.05" fill="#2270b2"/>
<circle cx="202.0" cy="203.1" r="1.05" fill="#2270b2"/>
<circle cx="206.3" cy="204.0" r="1.05" fill="#2270b2"/>
<circle cx="191.9" cy="198.3" r="1.05" fill="#2270b2"/>
<circle cx="212.7" cy="207.3" r="1.05" fill="#2270b2"/>
<circle cx="196.5" cy="201.5" r="1.05" fill="#2270b2"/>
<circle cx="196.6" cy="208.6" r="1.05" fill="#2270b2"/>
<circle cx="195.7" cy="203.8" r="1.05" fill="#2270b2"/>
<circle cx="191.7" cy="209.3" r="1.05" fill="#2270b2"/>
<circle cx="193.0" cy="214.9" r="1.05" fill="#2270b2"/>
<circle cx="212.4" cy="200.6" r="1.05" fill="#2270b2"/>
<circle cx="247.9" cy="192.7" r="1.05" fill="#2270b2"/>
<circle cx="191.7" cy="203.8" r="1.05" fill="#2270b2"/>
<circle cx="193.4" cy="208.4" r="1.05" fill="#2270b2"/>
<circle cx="199.0" cy="200.5" r="1.05" fill="#2270b2"/>
<circle cx="194.0" cy="208.2" r="1.05" fill="#2270b2"/>
<circle cx="205.1" cy="195.9" r="1.05" fill="#2270b2"/>
<circle cx="193.2" cy="208.0" r="1.05" fill="#2270b2"/>
<circle cx="201.4" cy="198.7" r="1.05" fill="#2270b2"/>
<circle cx="194.3" cy="208.1" r="1.05" fill="#2270b2"/>
<circle cx="191.6" cy="195.1" r="1.05" fill="#2270b2"/>
<circle cx="195.1" cy="195.2" r="1.05" fill="#2270b2"/>
<circle cx="191.6" cy="205.9" r="1.05" fill="#2270b2"/>
<circle cx="196.1" cy="202.6" r="1.05" fill="#2270b2"/>
<circle cx="206.9" cy="200.9" r="1.05" fill="#2270b2"/>
<circle cx="192.9" cy="201.3" r="1.05" fill="#2270b2"/>
<circle cx="199.9" cy="202.8" r="1.05" fill="#2270b2"/>
<circle cx="194.3" cy="199.0" r="1.05" fill="#2270b2"/>
<circle cx="209.4" cy="204.7" r="1.05" fill="#2270b2"/>
<circle cx="193.3" cy="205.5" r="1.05" fill="#2270b2"/>
<circle cx="205.2" cy="207.6" r="1.05" fill="#2270b2"/>
<circle cx="200.4" cy="205.0" r="1.05" fill="#2270b2"/>
<circle cx="197.5" cy="203.9" r="1.05" fill="#2270b2"/>
<circle cx="201.5" cy="207.3" r="1.05" fill="#2270b2"/>
<circle cx="192.1" cy="213.1" r="1.05" fill="#2270b2"/>
<circle cx="204.5" cy="197.7" r="1.05" fill="#2270b2"/>
<circle cx="198.2" cy="197.7" r="1.05" fill="#2270b2"/>
<circle cx="230.0" cy="195.4" r="1.05" fill="#2270b2"/>
<circle cx="238.2" cy="187.3" r="1.05" fill="#2270b2"/>
<circle cx="202.4" cy="208.0" r="1.05" fill="#2270b2"/>
<circle cx="195.4" cy="202.1" r="1.05" fill="#2270b2"/>
<circle cx="203.3" cy="198.0" r="1.05" fill="#2270b2"/>
<circle cx="191.7" cy="203.7" r="1.05" fill="#2270b2"/>
<circle cx="193.8" cy="209.0" r="1.05" fill="#2270b2"/>
<circle cx="219.5" cy="197.0" r="1.05" fill="#2270b2"/>
<circle cx="192.0" cy="207.4" r="1.05" fill="#2270b2"/>
<circle cx="197.1" cy="204.6" r="1.05" fill="#2270b2"/>
<circle cx="195.8" cy="205.7" r="1.05" fill="#2270b2"/>
<circle cx="198.2" cy="199.2" r="1.05" fill="#2270b2"/>
<circle cx="193.1" cy="215.1" r="1.05" fill="#2270b2"/>
<circle cx="214.0" cy="194.7" r="1.05" fill="#2270b2"/>
<circle cx="220.1" cy="200.7" r="1.05" fill="#2270b2"/>
<circle cx="195.4" cy="210.6" r="1.05" fill="#2270b2"/>
<circle cx="202.8" cy="200.8" r="1.05" fill="#2270b2"/>
<circle cx="191.6" cy="208.0" r="1.05" fill="#2270b2"/>
<circle cx="194.7" cy="212.6" r="1.05" fill="#2270b2"/>
<circle cx="192.4" cy="201.9" r="1.05" fill="#2270b2"/>
<circle cx="193.8" cy="199.0" r="1.05" fill="#2270b2"/>
<circle cx="209.9" cy="199.7" r="1.05" fill="#2270b2"/>
<circle cx="199.7" cy="210.6" r="1.05" fill="#2270b2"/>
<circle cx="225.3" cy="198.3" r="1.05" fill="#2270b2"/>
<circle cx="201.0" cy="203.1" r="1.05" fill="#2270b2"/>
<circle cx="191.8" cy="202.1" r="1.05" fill="#2270b2"/>
<circle cx="204.3" cy="210.4" r="1.05" fill="#2270b2"/>
<circle cx="199.2" cy="206.9" r="1.05" fill="#2270b2"/>
<circle cx="199.3" cy="201.6" r="1.05" fill="#2270b2"/>
<circle cx="195.0" cy="199.3" r="1.05" fill="#2270b2"/>
<circle cx="198.7" cy="198.7" r="1.05" fill="#2270b2"/>
<circle cx="198.8" cy="212.5" r="1.05" fill="#2270b2"/>
<circle cx="243.6" cy="189.2" r="1.05" fill="#2270b2"/>
<circle cx="219.8" cy="200.3" r="1.05" fill="#2270b2"/>
<circle cx="194.6" cy="215.4" r="1.05" fill="#2270b2"/>
<circle cx="212.8" cy="202.1" r="1.05" fill="#2270b2"/>
<circle cx="213.0" cy="199.1" r="1.05" fill="#2270b2"/>
<circle cx="196.9" cy="204.4" r="1.05" fill="#2270b2"/>
<circle cx="198.8" cy="200.7" r="1.05" fill="#2270b2"/>
<circle cx="205.8" cy="203.0" r="1.05" fill="#2270b2"/>
<circle cx="196.9" cy="209.0" r="1.05" fill="#2270b2"/>
<circle cx="208.1" cy="197.5" r="1.05" fill="#2270b2"/>
<circle cx="196.8" cy="203.1" r="1.05" fill="#2270b2"/>
<circle cx="198.3" cy="212.2" r="1.05" fill="#2270b2"/>
<circle cx="195.1" cy="206.5" r="1.05" fill="#2270b2"/>
<circle cx="227.5" cy="201.3" r="1.05" fill="#2270b2"/>
<circle cx="192.2" cy="203.9" r="1.05" fill="#2270b2"/>
<circle cx="207.0" cy="202.3" r="1.05" fill="#2270b2"/>
<circle cx="198.3" cy="196.3" r="1.05" fill="#2270b2"/>
<circle cx="197.1" cy="196.4" r="1.05" fill="#2270b2"/>
<circle cx="200.2" cy="207.7" r="1.05" fill="#2270b2"/>
<circle cx="207.5" cy="199.6" r="1.05" fill="#2270b2"/>
<circle cx="197.1" cy="199.9" r="1.05" fill="#2270b2"/>
<circle cx="206.9" cy="203.3" r="1.05" fill="#2270b2"/>
<circle cx="218.3" cy="202.0" r="1.05" fill="#2270b2"/>
<circle cx="210.2" cy="199.3" r="1.05" fill="#2270b2"/>
<circle cx="210.3" cy="200.6" r="1.05" fill="#2270b2"/>
<circle cx="194.4" cy="202.0" r="1.05" fill="#2270b2"/>
<circle cx="192.3" cy="203.8" r="1.05" fill="#2270b2"/>
<circle cx="193.5" cy="208.6" r="1.05" fill="#2270b2"/>
<circle cx="197.4" cy="205.4" r="1.05" fill="#2270b2"/>
<circle cx="261.9" cy="187.5" r="1.05" fill="#2270b2"/>
<circle cx="196.4" cy="199.1" r="1.05" fill="#2270b2"/>
<circle cx="202.4" cy="199.9" r="1.05" fill="#2270b2"/>
<circle cx="245.2" cy="186.5" r="1.05" fill="#2270b2"/>
<circle cx="204.1" cy="198.7" r="1.05" fill="#2270b2"/>
<circle cx="196.9" cy="201.5" r="1.05" fill="#2270b2"/>
<circle cx="193.4" cy="205.5" r="1.05" fill="#2270b2"/>
<circle cx="206.3" cy="205.9" r="1.05" fill="#2270b2"/>
<circle cx="196.0" cy="204.3" r="1.05" fill="#2270b2"/>
<circle cx="215.4" cy="195.5" r="1.05" fill="#2270b2"/>
<circle cx="205.7" cy="204.2" r="1.05" fill="#2270b2"/>
<circle cx="197.3" cy="209.9" r="1.05" fill="#2270b2"/>
<circle cx="202.3" cy="205.9" r="1.05" fill="#2270b2"/>
<circle cx="213.2" cy="197.1" r="1.05" fill="#2270b2"/>
<circle cx="191.7" cy="212.2" r="1.05" fill="#2270b2"/>
<circle cx="199.0" cy="197.1" r="1.05" fill="#2270b2"/>
<circle cx="213.5" cy="197.8" r="1.05" fill="#2270b2"/>
<circle cx="194.5" cy="199.0" r="1.05" fill="#2270b2"/>
<circle cx="197.4" cy="200.8" r="1.05" fill="#2270b2"/>
<circle cx="200.7" cy="203.5" r="1.05" fill="#2270b2"/>
<circle cx="212.0" cy="195.6" r="1.05" fill="#2270b2"/>
<circle cx="200.7" cy="210.3" r="1.05" fill="#2270b2"/>
<circle cx="199.2" cy="194.7" r="1.05" fill="#2270b2"/>
<circle cx="218.9" cy="197.4" r="1.05" fill="#2270b2"/>
<circle cx="203.2" cy="200.7" r="1.05" fill="#2270b2"/>
<circle cx="214.5" cy="197.2" r="1.05" fill="#2270b2"/>
<circle cx="199.7" cy="215.6" r="1.05" fill="#2270b2"/>
<circle cx="212.3" cy="201.4" r="1.05" fill="#2270b2"/>
<circle cx="195.4" cy="202.7" r="1.05" fill="#2270b2"/>
<circle cx="195.0" cy="206.7" r="1.05" fill="#2270b2"/>
<circle cx="202.9" cy="208.8" r="1.05" fill="#2270b2"/>
<circle cx="198.9" cy="211.8" r="1.05" fill="#2270b2"/>
<circle cx="223.1" cy="201.0" r="1.05" fill="#2270b2"/>
<circle cx="196.6" cy="204.4" r="1.05" fill="#2270b2"/>
<circle cx="193.2" cy="204.9" r="1.05" fill="#2270b2"/>
<circle cx="200.4" cy="200.8" r="1.05" fill="#2270b2"/>
<circle cx="209.0" cy="196.4" r="1.05" fill="#2270b2"/>
<circle cx="196.5" cy="214.7" r="1.05" fill="#2270b2"/>
<circle cx="195.7" cy="210.1" r="1.05" fill="#2270b2"/>
<circle cx="211.7" cy="202.2" r="1.05" fill="#2270b2"/>
<circle cx="266.6" cy="183.1" r="1.05" fill="#2270b2"/>
<circle cx="200.1" cy="196.6" r="1.05" fill="#2270b2"/>
<circle cx="191.2" cy="209.0" r="1.05" fill="#2270b2"/>
<circle cx="201.5" cy="194.8" r="1.05" fill="#2270b2"/>
<circle cx="257.3" cy="184.6" r="1.05" fill="#2270b2"/>
<circle cx="195.0" cy="202.1" r="1.05" fill="#2270b2"/>
<circle cx="206.6" cy="209.7" r="1.05" fill="#2270b2"/>
<circle cx="201.0" cy="197.8" r="1.05" fill="#2270b2"/>
<circle cx="224.9" cy="197.7" r="1.05" fill="#2270b2"/>
<circle cx="204.1" cy="193.9" r="1.05" fill="#2270b2"/>
<circle cx="191.6" cy="214.5" r="1.05" fill="#2270b2"/>
<circle cx="194.6" cy="208.5" r="1.05" fill="#2270b2"/>
<circle cx="198.9" cy="205.7" r="1.05" fill="#2270b2"/>
<circle cx="197.4" cy="206.0" r="1.05" fill="#2270b2"/>
<circle cx="204.0" cy="199.8" r="1.05" fill="#2270b2"/>
<circle cx="268.3" cy="182.2" r="1.05" fill="#2270b2"/>
<circle cx="208.7" cy="197.7" r="1.05" fill="#2270b2"/>
<circle cx="199.5" cy="198.3" r="1.05" fill="#2270b2"/>
<circle cx="199.3" cy="201.9" r="1.05" fill="#2270b2"/>
<circle cx="210.9" cy="209.6" r="1.05" fill="#2270b2"/>
<circle cx="204.9" cy="199.4" r="1.05" fill="#2270b2"/>
<circle cx="200.7" cy="209.0" r="1.05" fill="#2270b2"/>
<circle cx="205.4" cy="205.1" r="1.05" fill="#2270b2"/>
<circle cx="207.5" cy="201.6" r="1.05" fill="#2270b2"/>
<circle cx="203.7" cy="194.6" r="1.05" fill="#2270b2"/>
<circle cx="197.3" cy="198.8" r="1.05" fill="#2270b2"/>
<circle cx="206.1" cy="190.3" r="1.05" fill="#2270b2"/>
<circle cx="205.1" cy="200.4" r="1.05" fill="#2270b2"/>
<circle cx="198.9" cy="192.6" r="1.05" fill="#2270b2"/>
<circle cx="267.1" cy="182.3" r="1.05" fill="#2270b2"/>
<circle cx="192.0" cy="202.6" r="1.05" fill="#2270b2"/>
<circle cx="204.3" cy="196.1" r="1.05" fill="#2270b2"/>
<circle cx="200.5" cy="207.0" r="1.05" fill="#2270b2"/>
<circle cx="207.0" cy="210.7" r="1.05" fill="#2270b2"/>
<circle cx="196.5" cy="206.1" r="1.05" fill="#2270b2"/>
<circle cx="209.9" cy="199.3" r="1.05" fill="#2270b2"/>
<circle cx="208.3" cy="197.0" r="1.05" fill="#2270b2"/>
<circle cx="207.1" cy="200.7" r="1.05" fill="#2270b2"/>
<circle cx="207.0" cy="204.8" r="1.05" fill="#2270b2"/>
<circle cx="191.9" cy="210.8" r="1.05" fill="#2270b2"/>
<circle cx="201.4" cy="209.3" r="1.05" fill="#2270b2"/>
<circle cx="199.3" cy="210.6" r="1.05" fill="#2270b2"/>
<circle cx="195.8" cy="208.0" r="1.05" fill="#2270b2"/>
<circle cx="195.3" cy="203.2" r="1.05" fill="#2270b2"/>
<circle cx="196.6" cy="206.8" r="1.05" fill="#2270b2"/>
<circle cx="204.5" cy="206.6" r="1.05" fill="#2270b2"/>
<circle cx="191.6" cy="204.4" r="1.05" fill="#2270b2"/>
<circle cx="207.0" cy="204.6" r="1.05" fill="#2270b2"/>
<circle cx="195.6" cy="195.8" r="1.05" fill="#2270b2"/>
<circle cx="192.3" cy="210.2" r="1.05" fill="#2270b2"/>
<circle cx="192.3" cy="206.9" r="1.05" fill="#2270b2"/>
<circle cx="199.6" cy="196.5" r="1.05" fill="#2270b2"/>
<circle cx="203.0" cy="201.3" r="1.05" fill="#2270b2"/>
<circle cx="237.9" cy="193.2" r="1.05" fill="#2270b2"/>
<circle cx="191.1" cy="197.4" r="1.05" fill="#2270b2"/>
<circle cx="191.3" cy="196.3" r="1.05" fill="#2270b2"/>
<circle cx="198.3" cy="202.6" r="1.05" fill="#2270b2"/>
<circle cx="200.7" cy="212.5" r="1.05" fill="#2270b2"/>
<circle cx="205.5" cy="200.9" r="1.05" fill="#2270b2"/>
<circle cx="193.5" cy="212.0" r="1.05" fill="#2270b2"/>
<circle cx="193.5" cy="211.7" r="1.05" fill="#2270b2"/>
<circle cx="211.0" cy="199.5" r="1.05" fill="#2270b2"/>
<circle cx="209.5" cy="202.2" r="1.05" fill="#2270b2"/>
<circle cx="202.4" cy="203.1" r="1.05" fill="#2270b2"/>
<circle cx="196.8" cy="212.8" r="1.05" fill="#2270b2"/>
<circle cx="191.1" cy="208.8" r="1.05" fill="#2270b2"/>
<circle cx="193.1" cy="215.2" r="1.05" fill="#2270b2"/>
<circle cx="193.8" cy="211.8" r="1.05" fill="#2270b2"/>
<circle cx="197.3" cy="200.5" r="1.05" fill="#2270b2"/>
<circle cx="200.3" cy="208.0" r="1.05" fill="#2270b2"/>
<circle cx="194.6" cy="210.4" r="1.05" fill="#2270b2"/>
<circle cx="206.1" cy="194.6" r="1.05" fill="#2270b2"/>
<circle cx="201.1" cy="199.7" r="1.05" fill="#2270b2"/>
<circle cx="233.8" cy="195.6" r="1.05" fill="#2270b2"/>
<circle cx="192.1" cy="212.5" r="1.05" fill="#2270b2"/>
<circle cx="198.1" cy="215.4" r="1.05" fill="#2270b2"/>
<circle cx="192.0" cy="192.9" r="1.05" fill="#2270b2"/>
<circle cx="261.6" cy="185.0" r="1.05" fill="#2270b2"/>
<circle cx="204.7" cy="192.3" r="1.05" fill="#2270b2"/>
<circle cx="203.2" cy="207.1" r="1.05" fill="#2270b2"/>
<circle cx="192.6" cy="202.8" r="1.05" fill="#2270b2"/>
<circle cx="196.3" cy="194.7" r="1.05" fill="#2270b2"/>
<circle cx="192.5" cy="203.4" r="1.05" fill="#2270b2"/>
<circle cx="198.8" cy="196.6" r="1.05" fill="#2270b2"/>
<circle cx="201.5" cy="207.8" r="1.05" fill="#2270b2"/>
<circle cx="208.5" cy="206.6" r="1.05" fill="#2270b2"/>
<circle cx="201.9" cy="197.7" r="1.05" fill="#2270b2"/>
<circle cx="210.8" cy="200.1" r="1.05" fill="#2270b2"/>
<circle cx="197.3" cy="197.5" r="1.05" fill="#2270b2"/>
<circle cx="204.0" cy="208.5" r="1.05" fill="#2270b2"/>
<circle cx="201.8" cy="207.1" r="1.05" fill="#2270b2"/>
<circle cx="217.6" cy="200.2" r="1.05" fill="#2270b2"/>
<circle cx="201.6" cy="199.4" r="1.05" fill="#2270b2"/>
<circle cx="202.2" cy="205.6" r="1.05" fill="#2270b2"/>
<circle cx="196.5" cy="204.8" r="1.05" fill="#2270b2"/>
<circle cx="223.2" cy="189.8" r="1.05" fill="#2270b2"/>
<circle cx="194.4" cy="199.9" r="1.05" fill="#2270b2"/>
<circle cx="202.0" cy="199.6" r="1.05" fill="#2270b2"/>
<circle cx="207.2" cy="197.5" r="1.05" fill="#2270b2"/>
<circle cx="203.4" cy="207.9" r="1.05" fill="#2270b2"/>
<circle cx="225.2" cy="195.0" r="1.05" fill="#2270b2"/>
<circle cx="216.6" cy="197.7" r="1.05" fill="#2270b2"/>
<circle cx="205.6" cy="197.2" r="1.05" fill="#2270b2"/>
<circle cx="213.2" cy="198.8" r="1.05" fill="#2270b2"/>
<circle cx="211.0" cy="194.7" r="1.05" fill="#2270b2"/>
<circle cx="226.4" cy="196.5" r="1.05" fill="#2270b2"/>
<circle cx="196.8" cy="211.3" r="1.05" fill="#2270b2"/>
<circle cx="192.7" cy="200.1" r="1.05" fill="#2270b2"/>
<circle cx="208.1" cy="205.2" r="1.05" fill="#2270b2"/>
<circle cx="199.6" cy="210.9" r="1.05" fill="#2270b2"/>
<circle cx="208.4" cy="204.7" r="1.05" fill="#2270b2"/>
<circle cx="212.9" cy="204.1" r="1.05" fill="#2270b2"/>
<circle cx="203.1" cy="202.9" r="1.05" fill="#2270b2"/>
<circle cx="192.0" cy="198.5" r="1.05" fill="#2270b2"/>
<circle cx="208.3" cy="205.1" r="1.05" fill="#2270b2"/>
<circle cx="200.8" cy="207.8" r="1.05" fill="#2270b2"/>
<circle cx="208.8" cy="200.3" r="1.05" fill="#2270b2"/>
<circle cx="224.6" cy="202.5" r="1.05" fill="#2270b2"/>
<circle cx="197.7" cy="199.3" r="1.05" fill="#2270b2"/>
<circle cx="200.6" cy="193.8" r="1.05" fill="#2270b2"/>
<circle cx="192.7" cy="202.6" r="1.05" fill="#2270b2"/>
<circle cx="199.4" cy="209.2" r="1.05" fill="#2270b2"/>
<circle cx="199.7" cy="204.9" r="1.05" fill="#2270b2"/>
<circle cx="206.2" cy="196.4" r="1.05" fill="#2270b2"/>
<circle cx="199.1" cy="208.5" r="1.05" fill="#2270b2"/>
<circle cx="202.1" cy="203.8" r="1.05" fill="#2270b2"/>
<circle cx="203.7" cy="210.8" r="1.05" fill="#2270b2"/>
<circle cx="213.0" cy="203.5" r="1.05" fill="#2270b2"/>
<circle cx="199.0" cy="194.1" r="1.05" fill="#2270b2"/>
<circle cx="222.8" cy="197.4" r="1.05" fill="#2270b2"/>
<circle cx="191.3" cy="210.8" r="1.05" fill="#2270b2"/>
<circle cx="199.4" cy="201.5" r="1.05" fill="#2270b2"/>
<circle cx="199.8" cy="210.4" r="1.05" fill="#2270b2"/>
<circle cx="203.8" cy="206.5" r="1.05" fill="#2270b2"/>
<circle cx="196.7" cy="205.3" r="1.05" fill="#2270b2"/>
<circle cx="208.3" cy="193.6" r="1.05" fill="#2270b2"/>
<circle cx="248.7" cy="191.5" r="1.05" fill="#2270b2"/>
<circle cx="194.5" cy="210.1" r="1.05" fill="#2270b2"/>
<circle cx="205.1" cy="204.9" r="1.05" fill="#2270b2"/>
<circle cx="196.4" cy="195.6" r="1.05" fill="#2270b2"/>
<circle cx="203.4" cy="200.6" r="1.05" fill="#2270b2"/>
<circle cx="196.3" cy="210.1" r="1.05" fill="#2270b2"/>
<circle cx="199.0" cy="205.4" r="1.05" fill="#2270b2"/>
<circle cx="233.1" cy="192.5" r="1.05" fill="#2270b2"/>
<circle cx="196.2" cy="208.2" r="1.05" fill="#2270b2"/>
<circle cx="212.2" cy="193.0" r="1.05" fill="#2270b2"/>
<circle cx="192.7" cy="219.2" r="1.05" fill="#2270b2"/>
<circle cx="223.0" cy="195.7" r="1.05" fill="#2270b2"/>
<circle cx="193.0" cy="213.4" r="1.05" fill="#2270b2"/>
<circle cx="198.9" cy="214.9" r="1.05" fill="#2270b2"/>
<circle cx="194.7" cy="200.1" r="1.05" fill="#2270b2"/>
<circle cx="195.0" cy="203.5" r="1.05" fill="#2270b2"/>
<circle cx="199.4" cy="208.2" r="1.05" fill="#2270b2"/>
<circle cx="212.6" cy="203.5" r="1.05" fill="#2270b2"/>
<circle cx="207.0" cy="205.7" r="1.05" fill="#2270b2"/>
<circle cx="210.5" cy="199.1" r="1.05" fill="#2270b2"/>
<circle cx="256.0" cy="188.0" r="1.05" fill="#2270b2"/>
<circle cx="196.6" cy="214.2" r="1.05" fill="#2270b2"/>
<circle cx="227.1" cy="192.9" r="1.05" fill="#2270b2"/>
<circle cx="193.1" cy="208.6" r="1.05" fill="#2270b2"/>
<circle cx="192.0" cy="194.6" r="1.05" fill="#2270b2"/>
<circle cx="192.5" cy="208.0" r="1.05" fill="#2270b2"/>
<circle cx="206.2" cy="200.6" r="1.05" fill="#2270b2"/>
<circle cx="258.0" cy="188.9" r="1.05" fill="#2270b2"/>
<circle cx="221.0" cy="198.8" r="1.05" fill="#2270b2"/>
<circle cx="195.5" cy="211.9" r="1.05" fill="#2270b2"/>
<circle cx="200.9" cy="203.4" r="1.05" fill="#2270b2"/>
<circle cx="224.7" cy="192.6" r="1.05" fill="#2270b2"/>
<circle cx="198.3" cy="213.5" r="1.05" fill="#2270b2"/>
<circle cx="199.3" cy="198.6" r="1.05" fill="#2270b2"/>
<circle cx="195.3" cy="209.3" r="1.05" fill="#2270b2"/>
<circle cx="194.0" cy="212.3" r="1.05" fill="#2270b2"/>
<circle cx="195.3" cy="196.3" r="1.05" fill="#2270b2"/>
<circle cx="240.2" cy="191.2" r="1.05" fill="#2270b2"/>
<circle cx="217.2" cy="195.7" r="1.05" fill="#2270b2"/>
<circle cx="238.4" cy="187.2" r="1.05" fill="#2270b2"/>
<circle cx="212.6" cy="195.1" r="1.05" fill="#2270b2"/>
<circle cx="197.2" cy="208.3" r="1.05" fill="#2270b2"/>
<circle cx="208.2" cy="199.5" r="1.05" fill="#2270b2"/>
<circle cx="193.0" cy="210.0" r="1.05" fill="#2270b2"/>
<circle cx="193.0" cy="202.7" r="1.05" fill="#2270b2"/>
<circle cx="260.2" cy="184.3" r="1.05" fill="#2270b2"/>
<circle cx="197.5" cy="199.2" r="1.05" fill="#2270b2"/>
<circle cx="191.8" cy="211.6" r="1.05" fill="#2270b2"/>
<circle cx="192.7" cy="204.6" r="1.05" fill="#2270b2"/>
<circle cx="195.9" cy="209.5" r="1.05" fill="#2270b2"/>
<circle cx="196.5" cy="205.9" r="1.05" fill="#2270b2"/>
<circle cx="201.3" cy="207.9" r="1.05" fill="#2270b2"/>
<circle cx="197.8" cy="196.2" r="1.05" fill="#2270b2"/>
<circle cx="207.5" cy="199.9" r="1.05" fill="#2270b2"/>
<circle cx="193.1" cy="211.7" r="1.05" fill="#2270b2"/>
<circle cx="202.0" cy="198.4" r="1.05" fill="#2270b2"/>
<circle cx="196.7" cy="208.3" r="1.05" fill="#2270b2"/>
<circle cx="193.5" cy="196.9" r="1.05" fill="#2270b2"/>
<circle cx="243.0" cy="194.2" r="1.05" fill="#2270b2"/>
<circle cx="203.8" cy="200.2" r="1.05" fill="#2270b2"/>
<circle cx="213.4" cy="203.7" r="1.05" fill="#2270b2"/>
<circle cx="200.7" cy="205.8" r="1.05" fill="#2270b2"/>
<circle cx="191.4" cy="205.2" r="1.05" fill="#2270b2"/>
<circle cx="199.2" cy="201.3" r="1.05" fill="#2270b2"/>
<circle cx="200.0" cy="215.0" r="1.05" fill="#2270b2"/>
<circle cx="193.5" cy="213.8" r="1.05" fill="#2270b2"/>
<circle cx="198.1" cy="195.2" r="1.05" fill="#2270b2"/>
<circle cx="192.2" cy="207.3" r="1.05" fill="#2270b2"/>
<circle cx="208.6" cy="205.9" r="1.05" fill="#2270b2"/>
<circle cx="206.2" cy="199.0" r="1.05" fill="#2270b2"/>
<circle cx="200.6" cy="212.8" r="1.05" fill="#2270b2"/>
<circle cx="193.8" cy="205.5" r="1.05" fill="#2270b2"/>
<circle cx="207.2" cy="204.6" r="1.05" fill="#2270b2"/>
<circle cx="220.9" cy="195.1" r="1.05" fill="#2270b2"/>
<circle cx="239.6" cy="189.1" r="1.05" fill="#2270b2"/>
<circle cx="196.5" cy="198.3" r="1.05" fill="#2270b2"/>
<circle cx="198.1" cy="209.9" r="1.05" fill="#2270b2"/>
<circle cx="203.0" cy="202.9" r="1.05" fill="#2270b2"/>
<circle cx="191.7" cy="209.6" r="1.05" fill="#2270b2"/>
<circle cx="204.1" cy="199.0" r="1.05" fill="#2270b2"/>
<circle cx="209.4" cy="202.2" r="1.05" fill="#2270b2"/>
<circle cx="223.2" cy="193.2" r="1.05" fill="#2270b2"/>
<circle cx="204.2" cy="196.9" r="1.05" fill="#2270b2"/>
<circle cx="192.4" cy="216.2" r="1.05" fill="#2270b2"/>
<circle cx="202.3" cy="193.2" r="1.05" fill="#2270b2"/>
<circle cx="208.2" cy="196.2" r="1.05" fill="#2270b2"/>
<circle cx="208.1" cy="197.7" r="1.05" fill="#2270b2"/>
<circle cx="193.4" cy="201.5" r="1.05" fill="#2270b2"/>
<circle cx="210.5" cy="196.4" r="1.05" fill="#2270b2"/>
<circle cx="202.2" cy="208.5" r="1.05" fill="#2270b2"/>
<circle cx="223.1" cy="202.1" r="1.05" fill="#2270b2"/>
<circle cx="192.9" cy="215.3" r="1.05" fill="#2270b2"/>
<circle cx="225.7" cy="196.9" r="1.05" fill="#2270b2"/>
<circle cx="203.4" cy="199.2" r="1.05" fill="#2270b2"/>
<circle cx="191.6" cy="215.5" r="1.05" fill="#2270b2"/>
<circle cx="219.6" cy="192.5" r="1.05" fill="#2270b2"/>
<circle cx="192.7" cy="204.7" r="1.05" fill="#2270b2"/>
<circle cx="209.1" cy="194.6" r="1.05" fill="#2270b2"/>
<circle cx="203.9" cy="199.9" r="1.05" fill="#2270b2"/>
<circle cx="191.1" cy="195.6" r="1.05" fill="#2270b2"/>
<circle cx="195.5" cy="199.1" r="1.05" fill="#2270b2"/>
<circle cx="197.1" cy="199.9" r="1.05" fill="#2270b2"/>
<circle cx="253.3" cy="185.1" r="1.05" fill="#2270b2"/>
<circle cx="211.9" cy="205.1" r="1.05" fill="#2270b2"/>
<circle cx="210.5" cy="203.5" r="1.05" fill="#2270b2"/>
<circle cx="191.2" cy="202.7" r="1.05" fill="#2270b2"/>
<circle cx="209.7" cy="199.9" r="1.05" fill="#2270b2"/>
<circle cx="206.8" cy="205.2" r="1.05" fill="#2270b2"/>
<circle cx="199.2" cy="209.1" r="1.05" fill="#2270b2"/>
<circle cx="203.8" cy="203.2" r="1.05" fill="#2270b2"/>
<circle cx="196.5" cy="205.9" r="1.05" fill="#2270b2"/>
<circle cx="196.6" cy="198.3" r="1.05" fill="#2270b2"/>
<circle cx="193.3" cy="200.3" r="1.05" fill="#2270b2"/>
<circle cx="211.3" cy="197.1" r="1.05" fill="#2270b2"/>
<circle cx="228.9" cy="199.6" r="1.05" fill="#2270b2"/>
<circle cx="191.2" cy="204.5" r="1.05" fill="#2270b2"/>
<circle cx="194.5" cy="208.3" r="1.05" fill="#2270b2"/>
<circle cx="205.3" cy="200.6" r="1.05" fill="#2270b2"/>
<circle cx="211.1" cy="197.1" r="1.05" fill="#2270b2"/>
<circle cx="191.5" cy="201.5" r="1.05" fill="#2270b2"/>
<circle cx="204.6" cy="200.3" r="1.05" fill="#2270b2"/>
<circle cx="205.4" cy="192.7" r="1.05" fill="#2270b2"/>
<circle cx="199.6" cy="199.6" r="1.05" fill="#2270b2"/>
<circle cx="201.3" cy="211.6" r="1.05" fill="#2270b2"/>
<circle cx="194.3" cy="203.6" r="1.05" fill="#2270b2"/>
<circle cx="198.1" cy="199.8" r="1.05" fill="#2270b2"/>
<circle cx="219.8" cy="197.2" r="1.05" fill="#2270b2"/>
<circle cx="198.3" cy="209.7" r="1.05" fill="#2270b2"/>
<circle cx="195.4" cy="201.4" r="1.05" fill="#2270b2"/>
<circle cx="191.5" cy="211.2" r="1.05" fill="#2270b2"/>
<circle cx="214.7" cy="196.7" r="1.05" fill="#2270b2"/>
<circle cx="204.0" cy="204.7" r="1.05" fill="#2270b2"/>
<circle cx="192.7" cy="208.7" r="1.05" fill="#2270b2"/>
<circle cx="201.9" cy="205.1" r="1.05" fill="#2270b2"/>
<circle cx="196.5" cy="212.0" r="1.05" fill="#2270b2"/>
<circle cx="218.9" cy="194.5" r="1.05" fill="#2270b2"/>
<circle cx="211.8" cy="196.5" r="1.05" fill="#2270b2"/>
<circle cx="205.8" cy="205.9" r="1.05" fill="#2270b2"/>
<circle cx="198.7" cy="211.6" r="1.05" fill="#2270b2"/>
<circle cx="254.9" cy="188.2" r="1.05" fill="#2270b2"/>
<circle cx="232.5" cy="187.5" r="1.05" fill="#2270b2"/>
<circle cx="192.1" cy="203.5" r="1.05" fill="#2270b2"/>
<circle cx="193.8" cy="201.0" r="1.05" fill="#2270b2"/>
<circle cx="208.9" cy="195.8" r="1.05" fill="#2270b2"/>
<circle cx="201.0" cy="206.8" r="1.05" fill="#2270b2"/>
<circle cx="202.3" cy="201.9" r="1.05" fill="#2270b2"/>
<circle cx="220.9" cy="195.1" r="1.05" fill="#2270b2"/>
<circle cx="192.0" cy="202.3" r="1.05" fill="#2270b2"/>
<circle cx="193.5" cy="203.2" r="1.05" fill="#2270b2"/>
<circle cx="192.0" cy="212.9" r="1.05" fill="#2270b2"/>
<circle cx="199.0" cy="209.1" r="1.05" fill="#2270b2"/>
<circle cx="191.2" cy="211.9" r="1.05" fill="#2270b2"/>
<circle cx="195.2" cy="209.9" r="1.05" fill="#2270b2"/>
<circle cx="193.9" cy="200.3" r="1.05" fill="#2270b2"/>
<circle cx="207.3" cy="203.6" r="1.05" fill="#2270b2"/>
<circle cx="203.8" cy="206.0" r="1.05" fill="#2270b2"/>
<circle cx="192.2" cy="204.5" r="1.05" fill="#2270b2"/>
<circle cx="203.7" cy="204.2" r="1.05" fill="#2270b2"/>
<circle cx="196.0" cy="212.6" r="1.05" fill="#2270b2"/>
<circle cx="191.8" cy="207.6" r="1.05" fill="#2270b2"/>
<circle cx="224.1" cy="192.1" r="1.05" fill="#2270b2"/>
<circle cx="254.0" cy="184.6" r="1.05" fill="#2270b2"/>
<circle cx="203.2" cy="197.1" r="1.05" fill="#2270b2"/>
<circle cx="204.0" cy="197.8" r="1.05" fill="#2270b2"/>
<circle cx="249.1" cy="185.2" r="1.05" fill="#2270b2"/>
<circle cx="201.6" cy="202.9" r="1.05" fill="#2270b2"/>
<circle cx="250.1" cy="187.3" r="1.05" fill="#2270b2"/>
<circle cx="196.1" cy="205.1" r="1.05" fill="#2270b2"/>
<circle cx="192.9" cy="210.1" r="1.05" fill="#2270b2"/>
<circle cx="202.7" cy="205.4" r="1.05" fill="#2270b2"/>
<circle cx="194.2" cy="211.2" r="1.05" fill="#2270b2"/>
<circle cx="229.2" cy="199.5" r="1.05" fill="#2270b2"/>
<circle cx="201.5" cy="204.3" r="1.05" fill="#2270b2"/>
<circle cx="193.3" cy="207.1" r="1.05" fill="#2270b2"/>
<circle cx="200.1" cy="210.3" r="1.05" fill="#2270b2"/>
<circle cx="194.6" cy="205.9" r="1.05" fill="#2270b2"/>
<circle cx="261.0" cy="183.7" r="1.05" fill="#2270b2"/>
<circle cx="193.5" cy="202.8" r="1.05" fill="#2270b2"/>
<circle cx="194.0" cy="202.5" r="1.05" fill="#2270b2"/>
<circle cx="192.3" cy="204.3" r="1.05" fill="#2270b2"/>
<circle cx="207.2" cy="200.6" r="1.05" fill="#2270b2"/>
<circle cx="197.8" cy="206.7" r="1.05" fill="#2270b2"/>
<circle cx="212.5" cy="191.2" r="1.05" fill="#2270b2"/>
<circle cx="208.9" cy="194.6" r="1.05" fill="#2270b2"/>
<circle cx="207.0" cy="200.1" r="1.05" fill="#2270b2"/>
<circle cx="206.8" cy="191.2" r="1.05" fill="#2270b2"/>
<circle cx="199.6" cy="205.6" r="1.05" fill="#2270b2"/>
<circle cx="194.2" cy="203.6" r="1.05" fill="#2270b2"/>
<circle cx="203.0" cy="199.3" r="1.05" fill="#2270b2"/>
<circle cx="200.7" cy="212.4" r="1.05" fill="#2270b2"/>
<circle cx="199.8" cy="200.1" r="1.05" fill="#2270b2"/>
<circle cx="221.2" cy="190.9" r="1.05" fill="#2270b2"/>
<circle cx="207.7" cy="198.5" r="1.05" fill="#2270b2"/>
<circle cx="194.4" cy="207.5" r="1.05" fill="#2270b2"/>
<circle cx="195.8" cy="194.1" r="1.05" fill="#2270b2"/>
<circle cx="199.4" cy="195.1" r="1.05" fill="#2270b2"/>
<circle cx="195.2" cy="194.4" r="1.05" fill="#2270b2"/>
<circle cx="208.8" cy="200.1" r="1.05" fill="#2270b2"/>
<circle cx="192.1" cy="197.4" r="1.05" fill="#2270b2"/>
<circle cx="208.7" cy="203.9" r="1.05" fill="#2270b2"/>
<circle cx="213.3" cy="193.5" r="1.05" fill="#2270b2"/>
<circle cx="204.2" cy="201.8" r="1.05" fill="#2270b2"/>
<circle cx="206.8" cy="198.6" r="1.05" fill="#2270b2"/>
<circle cx="192.3" cy="205.4" r="1.05" fill="#2270b2"/>
<circle cx="201.4" cy="207.6" r="1.05" fill="#2270b2"/>
<circle cx="191.2" cy="208.1" r="1.05" fill="#2270b2"/>
<circle cx="211.8" cy="197.7" r="1.05" fill="#2270b2"/>
<circle cx="202.8" cy="205.4" r="1.05" fill="#2270b2"/>
<circle cx="191.6" cy="211.1" r="1.05" fill="#2270b2"/>
<circle cx="194.8" cy="195.7" r="1.05" fill="#2270b2"/>
<circle cx="212.3" cy="207.2" r="1.05" fill="#2270b2"/>
<circle cx="212.3" cy="199.0" r="1.05" fill="#2270b2"/>
<circle cx="196.6" cy="198.4" r="1.05" fill="#2270b2"/>
<circle cx="220.8" cy="197.2" r="1.05" fill="#2270b2"/>
<circle cx="196.2" cy="211.9" r="1.05" fill="#2270b2"/>
<circle cx="191.6" cy="199.1" r="1.05" fill="#2270b2"/>
<circle cx="207.3" cy="201.1" r="1.05" fill="#2270b2"/>
<circle cx="198.6" cy="204.2" r="1.05" fill="#2270b2"/>
<circle cx="193.5" cy="202.8" r="1.05" fill="#2270b2"/>
<circle cx="194.3" cy="195.2" r="1.05" fill="#2270b2"/>
<circle cx="216.6" cy="202.9" r="1.05" fill="#2270b2"/>
<circle cx="203.3" cy="204.2" r="1.05" fill="#2270b2"/>
<circle cx="193.7" cy="214.0" r="1.05" fill="#2270b2"/>
<circle cx="216.5" cy="196.4" r="1.05" fill="#2270b2"/>
<circle cx="201.9" cy="204.3" r="1.05" fill="#2270b2"/>
<circle cx="208.5" cy="201.8" r="1.05" fill="#2270b2"/>
<circle cx="194.4" cy="203.2" r="1.05" fill="#2270b2"/>
<circle cx="198.0" cy="211.5" r="1.05" fill="#2270b2"/>
<circle cx="210.1" cy="200.3" r="1.05" fill="#2270b2"/>
<circle cx="206.4" cy="199.3" r="1.05" fill="#2270b2"/>
<circle cx="202.9" cy="207.0" r="1.05" fill="#2270b2"/>
<circle cx="191.3" cy="210.0" r="1.05" fill="#2270b2"/>
<circle cx="198.0" cy="204.7" r="1.05" fill="#2270b2"/>
<circle cx="195.9" cy="197.3" r="1.05" fill="#2270b2"/>
<circle cx="198.7" cy="200.3" r="1.05" fill="#2270b2"/>
<circle cx="205.2" cy="200.0" r="1.05" fill="#2270b2"/>
<circle cx="192.0" cy="201.3" r="1.05" fill="#2270b2"/>
<circle cx="196.8" cy="196.4" r="1.05" fill="#2270b2"/>
<circle cx="196.9" cy="208.8" r="1.05" fill="#2270b2"/>
<circle cx="202.3" cy="197.7" r="1.05" fill="#2270b2"/>
<circle cx="193.3" cy="209.1" r="1.05" fill="#2270b2"/>
<circle cx="214.1" cy="201.9" r="1.05" fill="#2270b2"/>
<circle cx="199.6" cy="211.3" r="1.05" fill="#2270b2"/>
<circle cx="191.8" cy="199.5" r="1.05" fill="#2270b2"/>
<circle cx="202.7" cy="209.4" r="1.05" fill="#2270b2"/>
<circle cx="192.2" cy="201.6" r="1.05" fill="#2270b2"/>
<circle cx="194.4" cy="209.0" r="1.05" fill="#2270b2"/>
<circle cx="196.4" cy="206.1" r="1.05" fill="#2270b2"/>
<circle cx="192.6" cy="206.0" r="1.05" fill="#2270b2"/>
<circle cx="197.9" cy="207.7" r="1.05" fill="#2270b2"/>
<circle cx="193.1" cy="206.3" r="1.05" fill="#2270b2"/>
<circle cx="198.5" cy="207.7" r="1.05" fill="#2270b2"/>
<circle cx="195.8" cy="207.2" r="1.05" fill="#2270b2"/>
<circle cx="211.1" cy="196.5" r="1.05" fill="#2270b2"/>
<circle cx="205.6" cy="194.9" r="1.05" fill="#2270b2"/>
<circle cx="202.7" cy="208.0" r="1.05" fill="#2270b2"/>
<circle cx="201.6" cy="206.0" r="1.05" fill="#2270b2"/>
<circle cx="199.0" cy="198.9" r="1.05" fill="#2270b2"/>
<circle cx="202.7" cy="197.1" r="1.05" fill="#2270b2"/>
<circle cx="208.9" cy="208.2" r="1.05" fill="#2270b2"/>
<circle cx="194.0" cy="202.9" r="1.05" fill="#2270b2"/>
<circle cx="216.7" cy="191.2" r="1.05" fill="#2270b2"/>
<circle cx="196.9" cy="207.1" r="1.05" fill="#2270b2"/>
<circle cx="198.5" cy="202.7" r="1.05" fill="#2270b2"/>
<circle cx="202.3" cy="205.6" r="1.05" fill="#2270b2"/>
<circle cx="220.6" cy="200.3" r="1.05" fill="#2270b2"/>
<circle cx="191.9" cy="215.2" r="1.05" fill="#2270b2"/>
<circle cx="200.8" cy="207.1" r="1.05" fill="#2270b2"/>
<circle cx="193.9" cy="207.5" r="1.05" fill="#2270b2"/>
<circle cx="192.2" cy="200.5" r="1.05" fill="#2270b2"/>
<circle cx="206.0" cy="203.6" r="1.05" fill="#2270b2"/>
<circle cx="192.5" cy="212.8" r="1.05" fill="#2270b2"/>
<circle cx="198.4" cy="193.6" r="1.05" fill="#2270b2"/>
<circle cx="194.1" cy="204.4" r="1.05" fill="#2270b2"/>
<circle cx="234.8" cy="194.1" r="1.05" fill="#2270b2"/>
<circle cx="202.6" cy="205.8" r="1.05" fill="#2270b2"/>
<circle cx="195.2" cy="207.3" r="1.05" fill="#2270b2"/>
<circle cx="238.2" cy="191.7" r="1.05" fill="#2270b2"/>
<circle cx="199.5" cy="199.7" r="1.05" fill="#2270b2"/>
<circle cx="193.0" cy="213.0" r="1.05" fill="#2270b2"/>
<circle cx="229.8" cy="192.3" r="1.05" fill="#2270b2"/>
<circle cx="192.5" cy="208.8" r="1.05" fill="#2270b2"/>
<circle cx="214.6" cy="194.8" r="1.05" fill="#2270b2"/>
<circle cx="198.9" cy="207.8" r="1.05" fill="#2270b2"/>
<circle cx="195.4" cy="203.1" r="1.05" fill="#2270b2"/>
<circle cx="213.8" cy="193.4" r="1.05" fill="#2270b2"/>
<circle cx="199.0" cy="205.5" r="1.05" fill="#2270b2"/>
<circle cx="227.2" cy="198.3" r="1.05" fill="#2270b2"/>
<circle cx="199.4" cy="198.0" r="1.05" fill="#2270b2"/>
<circle cx="210.5" cy="197.6" r="1.05" fill="#2270b2"/>
<circle cx="191.5" cy="209.2" r="1.05" fill="#2270b2"/>
<circle cx="196.0" cy="208.3" r="1.05" fill="#2270b2"/>
<circle cx="196.8" cy="200.7" r="1.05" fill="#2270b2"/>
<circle cx="240.6" cy="185.6" r="1.05" fill="#2270b2"/>
<circle cx="199.4" cy="201.5" r="1.05" fill="#2270b2"/>
<circle cx="195.4" cy="206.5" r="1.05" fill="#2270b2"/>
<circle cx="195.5" cy="213.8" r="1.05" fill="#2270b2"/>
<circle cx="200.4" cy="201.1" r="1.05" fill="#2270b2"/>
<circle cx="203.5" cy="210.1" r="1.05" fill="#2270b2"/>
<circle cx="200.5" cy="201.4" r="1.05" fill="#2270b2"/>
<circle cx="191.1" cy="215.0" r="1.05" fill="#2270b2"/>
<circle cx="203.9" cy="199.6" r="1.05" fill="#2270b2"/>
<circle cx="198.7" cy="205.5" r="1.05" fill="#2270b2"/>
<circle cx="195.8" cy="205.6" r="1.05" fill="#2270b2"/>
<circle cx="195.5" cy="208.9" r="1.05" fill="#2270b2"/>
<circle cx="192.5" cy="204.8" r="1.05" fill="#2270b2"/>
<circle cx="194.7" cy="206.1" r="1.05" fill="#2270b2"/>
<circle cx="205.6" cy="197.7" r="1.05" fill="#2270b2"/>
<circle cx="205.8" cy="197.2" r="1.05" fill="#2270b2"/>
<circle cx="196.6" cy="207.4" r="1.05" fill="#2270b2"/>
<circle cx="206.2" cy="205.7" r="1.05" fill="#2270b2"/>
<circle cx="194.9" cy="204.1" r="1.05" fill="#2270b2"/>
<circle cx="206.1" cy="194.1" r="1.05" fill="#2270b2"/>
<circle cx="191.8" cy="204.8" r="1.05" fill="#2270b2"/>
<circle cx="192.2" cy="204.2" r="1.05" fill="#2270b2"/>
<circle cx="207.3" cy="204.7" r="1.05" fill="#2270b2"/>
<circle cx="202.5" cy="205.3" r="1.05" fill="#2270b2"/>
<circle cx="197.7" cy="210.4" r="1.05" fill="#2270b2"/>
<circle cx="192.6" cy="202.8" r="1.05" fill="#2270b2"/>
<circle cx="226.7" cy="187.5" r="1.05" fill="#2270b2"/>
<circle cx="196.0" cy="211.6" r="1.05" fill="#2270b2"/>
<circle cx="194.8" cy="205.3" r="1.05" fill="#2270b2"/>
<circle cx="192.2" cy="198.4" r="1.05" fill="#2270b2"/>
<circle cx="211.7" cy="203.8" r="1.05" fill="#2270b2"/>
<circle cx="194.6" cy="205.1" r="1.05" fill="#2270b2"/>
<circle cx="208.4" cy="199.2" r="1.05" fill="#2270b2"/>
<circle cx="202.7" cy="195.3" r="1.05" fill="#2270b2"/>
<circle cx="203.3" cy="199.1" r="1.05" fill="#2270b2"/>
<circle cx="209.1" cy="205.5" r="1.05" fill="#2270b2"/>
<circle cx="233.8" cy="196.0" r="1.05" fill="#2270b2"/>
<circle cx="208.1" cy="199.2" r="1.05" fill="#2270b2"/>
<circle cx="191.4" cy="206.2" r="1.05" fill="#2270b2"/>
<circle cx="209.9" cy="210.5" r="1.05" fill="#2270b2"/>
<circle cx="206.3" cy="208.0" r="1.05" fill="#2270b2"/>
<circle cx="263.3" cy="188.0" r="1.05" fill="#2270b2"/>
<circle cx="198.5" cy="203.9" r="1.05" fill="#2270b2"/>
<circle cx="211.5" cy="205.3" r="1.05" fill="#2270b2"/>
<circle cx="207.9" cy="200.6" r="1.05" fill="#2270b2"/>
<circle cx="219.0" cy="199.3" r="1.05" fill="#2270b2"/>
<circle cx="194.2" cy="193.8" r="1.05" fill="#2270b2"/>
<circle cx="211.0" cy="205.6" r="1.05" fill="#2270b2"/>
<circle cx="192.6" cy="199.1" r="1.05" fill="#2270b2"/>
<circle cx="193.4" cy="207.4" r="1.05" fill="#2270b2"/>
<circle cx="212.0" cy="196.5" r="1.05" fill="#2270b2"/>
<circle cx="211.0" cy="204.3" r="1.05" fill="#2270b2"/>
<circle cx="211.4" cy="202.7" r="1.05" fill="#2270b2"/>
<circle cx="196.6" cy="214.6" r="1.05" fill="#2270b2"/>
<circle cx="197.2" cy="197.6" r="1.05" fill="#2270b2"/>
<circle cx="194.8" cy="209.5" r="1.05" fill="#2270b2"/>
<circle cx="194.2" cy="202.3" r="1.05" fill="#2270b2"/>
<circle cx="208.5" cy="203.5" r="1.05" fill="#2270b2"/>
<circle cx="204.7" cy="208.8" r="1.05" fill="#2270b2"/>
<circle cx="195.6" cy="199.0" r="1.05" fill="#2270b2"/>
<circle cx="206.1" cy="199.2" r="1.05" fill="#2270b2"/>
<circle cx="201.7" cy="199.6" r="1.05" fill="#2270b2"/>
<circle cx="192.3" cy="211.9" r="1.05" fill="#2270b2"/>
<circle cx="202.7" cy="207.9" r="1.05" fill="#2270b2"/>
<circle cx="195.8" cy="210.4" r="1.05" fill="#2270b2"/>
<circle cx="202.7" cy="202.6" r="1.05" fill="#2270b2"/>
<circle cx="205.1" cy="194.2" r="1.05" fill="#2270b2"/>
<circle cx="193.1" cy="211.1" r="1.05" fill="#2270b2"/>
<circle cx="193.0" cy="201.2" r="1.05" fill="#2270b2"/>
<circle cx="199.8" cy="200.8" r="1.05" fill="#2270b2"/>
<circle cx="194.1" cy="213.6" r="1.05" fill="#2270b2"/>
<circle cx="201.3" cy="203.9" r="1.05" fill="#2270b2"/>
<circle cx="206.9" cy="193.9" r="1.05" fill="#2270b2"/>
<circle cx="202.0" cy="194.8" r="1.05" fill="#2270b2"/>
<circle cx="194.5" cy="202.5" r="1.05" fill="#2270b2"/>
<circle cx="257.4" cy="188.8" r="1.05" fill="#2270b2"/>
<circle cx="201.5" cy="204.1" r="1.05" fill="#2270b2"/>
<circle cx="194.0" cy="199.7" r="1.05" fill="#2270b2"/>
<circle cx="191.1" cy="216.4" r="1.05" fill="#2270b2"/>
<circle cx="193.1" cy="201.0" r="1.05" fill="#2270b2"/>
<circle cx="207.2" cy="200.8" r="1.05" fill="#2270b2"/>
<circle cx="208.3" cy="210.0" r="1.05" fill="#2270b2"/>
<circle cx="193.9" cy="216.3" r="1.05" fill="#2270b2"/>
<circle cx="194.8" cy="209.1" r="1.05" fill="#2270b2"/>
<circle cx="195.0" cy="194.5" r="1.05" fill="#2270b2"/>
<circle cx="207.2" cy="201.6" r="1.05" fill="#2270b2"/>
<circle cx="251.5" cy="186.1" r="1.05" fill="#2270b2"/>
<circle cx="220.2" cy="200.2" r="1.05" fill="#2270b2"/>
<circle cx="215.5" cy="200.5" r="1.05" fill="#2270b2"/>
<circle cx="198.6" cy="197.9" r="1.05" fill="#2270b2"/>
<circle cx="199.4" cy="209.5" r="1.05" fill="#2270b2"/>
<circle cx="206.5" cy="205.8" r="1.05" fill="#2270b2"/>
<circle cx="206.6" cy="208.4" r="1.05" fill="#2270b2"/>
<circle cx="237.1" cy="189.8" r="1.05" fill="#2270b2"/>
<circle cx="199.2" cy="197.8" r="1.05" fill="#2270b2"/>
<circle cx="195.6" cy="204.0" r="1.05" fill="#2270b2"/>
<circle cx="195.8" cy="212.0" r="1.05" fill="#2270b2"/>
<circle cx="197.8" cy="198.5" r="1.05" fill="#2270b2"/>
<circle cx="194.8" cy="198.9" r="1.05" fill="#2270b2"/>
<circle cx="197.7" cy="203.2" r="1.05" fill="#2270b2"/>
<circle cx="221.9" cy="192.7" r="1.05" fill="#2270b2"/>
<circle cx="194.7" cy="203.0" r="1.05" fill="#2270b2"/>
<circle cx="237.9" cy="194.2" r="1.05" fill="#2270b2"/>
<circle cx="215.4" cy="194.4" r="1.05" fill="#2270b2"/>
<circle cx="197.5" cy="193.3" r="1.05" fill="#2270b2"/>
<circle cx="203.0" cy="198.3" r="1.05" fill="#2270b2"/>
<circle cx="195.1" cy="205.2" r="1.05" fill="#2270b2"/>
<circle cx="196.6" cy="199.3" r="1.05" fill="#2270b2"/>
<circle cx="194.0" cy="206.6" r="1.05" fill="#2270b2"/>
<circle cx="269.2" cy="182.5" r="1.05" fill="#2270b2"/>
<circle cx="207.8" cy="201.5" r="1.05" fill="#2270b2"/>
<circle cx="221.6" cy="199.9" r="1.05" fill="#2270b2"/>
<circle cx="195.7" cy="200.7" r="1.05" fill="#2270b2"/>
<circle cx="193.1" cy="209.4" r="1.05" fill="#2270b2"/>
<circle cx="191.3" cy="201.8" r="1.05" fill="#2270b2"/>
<circle cx="230.4" cy="194.5" r="1.05" fill="#2270b2"/>
<circle cx="192.1" cy="205.6" r="1.05" fill="#2270b2"/>
<circle cx="197.4" cy="200.7" r="1.05" fill="#2270b2"/>
<circle cx="207.4" cy="201.7" r="1.05" fill="#2270b2"/>
<circle cx="226.1" cy="196.8" r="1.05" fill="#2270b2"/>
<circle cx="199.8" cy="209.3" r="1.05" fill="#2270b2"/>
<circle cx="192.0" cy="200.3" r="1.05" fill="#2270b2"/>
<circle cx="194.3" cy="212.6" r="1.05" fill="#2270b2"/>
<circle cx="201.5" cy="203.1" r="1.05" fill="#2270b2"/>
<circle cx="207.5" cy="199.9" r="1.05" fill="#2270b2"/>
<circle cx="192.4" cy="207.7" r="1.05" fill="#2270b2"/>
<circle cx="198.2" cy="198.9" r="1.05" fill="#2270b2"/>
<circle cx="195.3" cy="199.4" r="1.05" fill="#2270b2"/>
<circle cx="206.2" cy="201.6" r="1.05" fill="#2270b2"/>
<circle cx="198.2" cy="196.4" r="1.05" fill="#2270b2"/>
<circle cx="201.3" cy="210.3" r="1.05" fill="#2270b2"/>
<circle cx="206.6" cy="195.4" r="1.05" fill="#2270b2"/>
<circle cx="191.2" cy="202.3" r="1.05" fill="#2270b2"/>
<circle cx="198.5" cy="209.5" r="1.05" fill="#2270b2"/>
<circle cx="198.7" cy="207.1" r="1.05" fill="#2270b2"/>
<circle cx="207.7" cy="203.2" r="1.05" fill="#2270b2"/>
<circle cx="195.2" cy="213.1" r="1.05" fill="#2270b2"/>
<circle cx="270.9" cy="183.8" r="1.05" fill="#2270b2"/>
<circle cx="195.2" cy="214.2" r="1.05" fill="#2270b2"/>
<circle cx="223.0" cy="197.2" r="1.05" fill="#2270b2"/>
<circle cx="252.8" cy="189.0" r="1.05" fill="#2270b2"/>
<circle cx="194.7" cy="201.2" r="1.05" fill="#2270b2"/>
<circle cx="209.6" cy="197.8" r="1.05" fill="#2270b2"/>
<circle cx="200.1" cy="201.4" r="1.05" fill="#2270b2"/>
<circle cx="225.3" cy="196.4" r="1.05" fill="#2270b2"/>
<circle cx="198.3" cy="213.7" r="1.05" fill="#2270b2"/>
<circle cx="198.9" cy="214.1" r="1.05" fill="#2270b2"/>
<circle cx="195.7" cy="200.4" r="1.05" fill="#2270b2"/>
<circle cx="200.3" cy="208.7" r="1.05" fill="#2270b2"/>
<circle cx="196.1" cy="206.5" r="1.05" fill="#2270b2"/>
<circle cx="202.3" cy="204.9" r="1.05" fill="#2270b2"/>
<circle cx="200.8" cy="205.4" r="1.05" fill="#2270b2"/>
<circle cx="193.2" cy="206.4" r="1.05" fill="#2270b2"/>
<circle cx="209.7" cy="199.7" r="1.05" fill="#2270b2"/>
<circle cx="202.9" cy="207.2" r="1.05" fill="#2270b2"/>
<circle cx="202.5" cy="207.4" r="1.05" fill="#2270b2"/>
<circle cx="192.0" cy="206.0" r="1.05" fill="#2270b2"/>
<circle cx="197.5" cy="212.1" r="1.05" fill="#2270b2"/>
<circle cx="196.0" cy="216.7" r="1.05" fill="#2270b2"/>
<circle cx="209.8" cy="203.3" r="1.05" fill="#2270b2"/>
<circle cx="194.8" cy="209.7" r="1.05" fill="#2270b2"/>
<circle cx="193.7" cy="206.4" r="1.05" fill="#2270b2"/>
<circle cx="194.5" cy="196.5" r="1.05" fill="#2270b2"/>
<circle cx="196.1" cy="215.2" r="1.05" fill="#2270b2"/>
<circle cx="199.3" cy="212.5" r="1.05" fill="#2270b2"/>
<circle cx="193.9" cy="202.7" r="1.05" fill="#2270b2"/>
<circle cx="207.9" cy="193.6" r="1.05" fill="#2270b2"/>
<circle cx="203.7" cy="209.0" r="1.05" fill="#2270b2"/>
<circle cx="199.2" cy="209.0" r="1.05" fill="#2270b2"/>
<circle cx="203.6" cy="203.2" r="1.05" fill="#2270b2"/>
<circle cx="255.5" cy="186.0" r="1.05" fill="#2270b2"/>
<circle cx="197.8" cy="205.1" r="1.05" fill="#2270b2"/>
<circle cx="197.1" cy="201.9" r="1.05" fill="#2270b2"/>
<circle cx="214.2" cy="200.9" r="1.05" fill="#2270b2"/>
<circle cx="196.1" cy="198.8" r="1.05" fill="#2270b2"/>
<circle cx="209.8" cy="195.0" r="1.05" fill="#2270b2"/>
<circle cx="208.6" cy="200.9" r="1.05" fill="#2270b2"/>
<circle cx="199.0" cy="214.5" r="1.05" fill="#2270b2"/>
<circle cx="256.6" cy="185.5" r="1.05" fill="#2270b2"/>
<circle cx="196.5" cy="212.3" r="1.05" fill="#2270b2"/>
<circle cx="200.0" cy="196.7" r="1.05" fill="#2270b2"/>
<circle cx="210.3" cy="206.5" r="1.05" fill="#2270b2"/>
<circle cx="210.4" cy="207.7" r="1.05" fill="#2270b2"/>
<circle cx="196.9" cy="194.0" r="1.05" fill="#2270b2"/>
<circle cx="193.4" cy="201.5" r="1.05" fill="#2270b2"/>
<circle cx="191.4" cy="199.6" r="1.05" fill="#2270b2"/>
<circle cx="210.2" cy="198.3" r="1.05" fill="#2270b2"/>
<circle cx="206.9" cy="202.0" r="1.05" fill="#2270b2"/>
<circle cx="200.2" cy="199.0" r="1.05" fill="#2270b2"/>
<circle cx="204.9" cy="209.9" r="1.05" fill="#2270b2"/>
<circle cx="193.2" cy="219.0" r="1.05" fill="#2270b2"/>
<circle cx="195.6" cy="223.8" r="1.05" fill="#2270b2"/>
<circle cx="196.8" cy="227.4" r="1.05" fill="#2270b2"/>
<circle cx="201.6" cy="223.8" r="1.05" fill="#2270b2"/>
<circle cx="204.0" cy="220.3" r="1.05" fill="#2270b2"/>
<circle cx="206.3" cy="223.4" r="1.05" fill="#2270b2"/>
<circle cx="206.3" cy="227.4" r="1.05" fill="#2270b2"/>
<circle cx="199.2" cy="229.8" r="1.05" fill="#2270b2"/>
<circle cx="192.5" cy="221.0" r="1.05" fill="#2270b2"/>
<circle cx="232.6" cy="186.8" r="1.05" fill="#2270b2"/>
<circle cx="255.4" cy="189.2" r="1.05" fill="#2270b2"/>
<circle cx="251.8" cy="179.6" r="1.05" fill="#2270b2"/>
<circle cx="240.0" cy="196.0" r="1.05" fill="#2270b2"/>
<circle cx="226.0" cy="202.5" r="1.05" fill="#2270b2"/>
<circle cx="215.0" cy="206.0" r="1.05" fill="#2270b2"/>
<circle cx="219.0" cy="208.0" r="1.05" fill="#2270b2"/>
<line x1="190.4" y1="207.2" x2="271.2" y2="179.4" stroke="#2270b2" stroke-width="0.6"/>
<text x="230.40" y="169.55" font-size="3.75" text-anchor="middle" fill="#1e1e1e" stroke="#1e1e1e" stroke-width="0.12" >Correlation between gene expression</text>
<text x="230.40" y="173.85" font-size="3.75" text-anchor="middle" fill="#1e1e1e" stroke="#1e1e1e" stroke-width="0.12" >in in-house CRC tumor and TCGA tumor samples</text>
<text x="177.60" y="202.20" font-size="3.0" text-anchor="middle" fill="#2a2a2a" stroke="#2a2a2a" stroke-width="0.09" transform="rotate(-90 177.6 202.2)">Normalized expression</text>
<text x="180.60" y="204.30" font-size="3.0" text-anchor="middle" fill="#2a2a2a" stroke="#2a2a2a" stroke-width="0.09" transform="rotate(-90 180.6 204.3)">in in-house CRC tumor samples</text>
<text x="229.60" y="240.80" font-size="3.3" text-anchor="middle" fill="#2a2a2a" stroke="#2a2a2a" stroke-width="0.1" >Normalized expression in TCGA tumor samples</text>
<text x="251.20" y="225.70" font-size="3.0" text-anchor="start" fill="#444" stroke="#444" stroke-width="0.03" >R² = 0.55</text>
<text x="251.20" y="229.80" font-size="3.0" text-anchor="start" fill="#444" stroke="#444" stroke-width="0.03" >p &lt; 1.096e-132</text>
<rect x="307.9" y="176.6" width="86.5" height="55.80000000000001" fill="none" stroke="#808080" stroke-width="0.55"/>
<line x1="306.5" y1="230.30" x2="307.5" y2="230.30" stroke="#666" stroke-width="0.3"/>
<text x="306.20" y="231.15" font-size="2.3" text-anchor="end" fill="#505050" stroke="#505050" stroke-width="0.03" >0</text>
<line x1="306.5" y1="224.66" x2="307.5" y2="224.66" stroke="#666" stroke-width="0.3"/>
<text x="306.20" y="225.51" font-size="2.3" text-anchor="end" fill="#505050" stroke="#505050" stroke-width="0.03" >2</text>
<line x1="306.5" y1="219.02" x2="307.5" y2="219.02" stroke="#666" stroke-width="0.3"/>
<text x="306.20" y="219.87" font-size="2.3" text-anchor="end" fill="#505050" stroke="#505050" stroke-width="0.03" >4</text>
<line x1="306.5" y1="213.38" x2="307.5" y2="213.38" stroke="#666" stroke-width="0.3"/>
<text x="306.20" y="214.23" font-size="2.3" text-anchor="end" fill="#505050" stroke="#505050" stroke-width="0.03" >6</text>
<line x1="306.5" y1="207.74" x2="307.5" y2="207.74" stroke="#666" stroke-width="0.3"/>
<text x="306.20" y="208.59" font-size="2.3" text-anchor="end" fill="#505050" stroke="#505050" stroke-width="0.03" >8</text>
<line x1="306.5" y1="202.10" x2="307.5" y2="202.10" stroke="#666" stroke-width="0.3"/>
<text x="306.20" y="202.95" font-size="2.3" text-anchor="end" fill="#505050" stroke="#505050" stroke-width="0.03" >10</text>
<line x1="306.5" y1="196.46" x2="307.5" y2="196.46" stroke="#666" stroke-width="0.3"/>
<text x="306.20" y="197.31" font-size="2.3" text-anchor="end" fill="#505050" stroke="#505050" stroke-width="0.03" >12</text>
<line x1="306.5" y1="190.82" x2="307.5" y2="190.82" stroke="#666" stroke-width="0.3"/>
<text x="306.20" y="191.67" font-size="2.3" text-anchor="end" fill="#505050" stroke="#505050" stroke-width="0.03" >14</text>
<line x1="306.5" y1="185.18" x2="307.5" y2="185.18" stroke="#666" stroke-width="0.3"/>
<text x="306.20" y="186.03" font-size="2.3" text-anchor="end" fill="#505050" stroke="#505050" stroke-width="0.03" >16</text>
<line x1="306.5" y1="179.54" x2="307.5" y2="179.54" stroke="#666" stroke-width="0.3"/>
<text x="306.20" y="180.39" font-size="2.3" text-anchor="end" fill="#505050" stroke="#505050" stroke-width="0.03" >18</text>
<line x1="311.40" y1="232.4" x2="311.40" y2="233.4" stroke="#666" stroke-width="0.3"/>
<text x="311.40" y="236.10" font-size="2.5" text-anchor="middle" fill="#505050" stroke="#505050" stroke-width="0.03" >0</text>
<line x1="329.95" y1="232.4" x2="329.95" y2="233.4" stroke="#666" stroke-width="0.3"/>
<text x="329.95" y="236.10" font-size="2.5" text-anchor="middle" fill="#505050" stroke="#505050" stroke-width="0.03" >5</text>
<line x1="348.50" y1="232.4" x2="348.50" y2="233.4" stroke="#666" stroke-width="0.3"/>
<text x="348.50" y="236.10" font-size="2.5" text-anchor="middle" fill="#505050" stroke="#505050" stroke-width="0.03" >10</text>
<line x1="367.05" y1="232.4" x2="367.05" y2="233.4" stroke="#666" stroke-width="0.3"/>
<text x="367.05" y="236.10" font-size="2.5" text-anchor="middle" fill="#505050" stroke="#505050" stroke-width="0.03" >15</text>
<line x1="385.60" y1="232.4" x2="385.60" y2="233.4" stroke="#666" stroke-width="0.3"/>
<text x="385.60" y="236.10" font-size="2.5" text-anchor="middle" fill="#505050" stroke="#505050" stroke-width="0.03" >20</text>
<circle cx="324.2" cy="213.8" r="1.05" fill="#2270b2"/>
<circle cx="321.8" cy="211.8" r="1.05" fill="#2270b2"/>
<circle cx="316.5" cy="220.7" r="1.05" fill="#2270b2"/>
<circle cx="311.7" cy="227.4" r="1.05" fill="#2270b2"/>
<circle cx="326.8" cy="216.4" r="1.05" fill="#2270b2"/>
<circle cx="318.4" cy="214.5" r="1.05" fill="#2270b2"/>
<circle cx="317.3" cy="226.5" r="1.05" fill="#2270b2"/>
<circle cx="314.3" cy="225.5" r="1.05" fill="#2270b2"/>
<circle cx="325.5" cy="219.9" r="1.05" fill="#2270b2"/>
<circle cx="325.0" cy="221.8" r="1.05" fill="#2270b2"/>
<circle cx="325.1" cy="214.7" r="1.05" fill="#2270b2"/>
<circle cx="321.9" cy="213.2" r="1.05" fill="#2270b2"/>
<circle cx="322.8" cy="212.7" r="1.05" fill="#2270b2"/>
<circle cx="318.5" cy="218.3" r="1.05" fill="#2270b2"/>
<circle cx="312.6" cy="224.4" r="1.05" fill="#2270b2"/>
<circle cx="313.6" cy="218.3" r="1.05" fill="#2270b2"/>
<circle cx="313.2" cy="220.2" r="1.05" fill="#2270b2"/>
<circle cx="326.7" cy="223.8" r="1.05" fill="#2270b2"/>
<circle cx="311.2" cy="208.7" r="1.05" fill="#2270b2"/>
<circle cx="318.6" cy="225.2" r="1.05" fill="#2270b2"/>
<circle cx="313.0" cy="221.9" r="1.05" fill="#2270b2"/>
<circle cx="326.1" cy="214.5" r="1.05" fill="#2270b2"/>
<circle cx="326.0" cy="218.8" r="1.05" fill="#2270b2"/>
<circle cx="322.0" cy="212.0" r="1.05" fill="#2270b2"/>
<circle cx="321.7" cy="223.2" r="1.05" fill="#2270b2"/>
<circle cx="313.1" cy="220.1" r="1.05" fill="#2270b2"/>
<circle cx="312.4" cy="218.9" r="1.05" fill="#2270b2"/>
<circle cx="317.0" cy="213.3" r="1.05" fill="#2270b2"/>
<circle cx="325.1" cy="222.3" r="1.05" fill="#2270b2"/>
<circle cx="313.2" cy="222.7" r="1.05" fill="#2270b2"/>
<circle cx="326.1" cy="223.4" r="1.05" fill="#2270b2"/>
<circle cx="310.9" cy="211.7" r="1.05" fill="#2270b2"/>
<circle cx="321.2" cy="218.2" r="1.05" fill="#2270b2"/>
<circle cx="313.7" cy="217.5" r="1.05" fill="#2270b2"/>
<circle cx="319.6" cy="224.7" r="1.05" fill="#2270b2"/>
<circle cx="316.4" cy="224.2" r="1.05" fill="#2270b2"/>
<circle cx="313.9" cy="222.5" r="1.05" fill="#2270b2"/>
<circle cx="314.1" cy="224.8" r="1.05" fill="#2270b2"/>
<circle cx="315.5" cy="220.3" r="1.05" fill="#2270b2"/>
<circle cx="325.5" cy="228.3" r="1.05" fill="#2270b2"/>
<circle cx="325.7" cy="218.0" r="1.05" fill="#2270b2"/>
<circle cx="310.6" cy="221.3" r="1.05" fill="#2270b2"/>
<circle cx="314.5" cy="209.1" r="1.05" fill="#2270b2"/>
<circle cx="313.3" cy="211.2" r="1.05" fill="#2270b2"/>
<circle cx="310.9" cy="220.8" r="1.05" fill="#2270b2"/>
<circle cx="313.8" cy="229.2" r="1.05" fill="#2270b2"/>
<circle cx="320.7" cy="217.0" r="1.05" fill="#2270b2"/>
<circle cx="311.9" cy="215.6" r="1.05" fill="#2270b2"/>
<circle cx="325.7" cy="208.6" r="1.05" fill="#2270b2"/>
<circle cx="323.4" cy="219.9" r="1.05" fill="#2270b2"/>
<circle cx="314.0" cy="218.2" r="1.05" fill="#2270b2"/>
<circle cx="315.0" cy="216.0" r="1.05" fill="#2270b2"/>
<circle cx="321.5" cy="210.2" r="1.05" fill="#2270b2"/>
<circle cx="323.5" cy="228.5" r="1.05" fill="#2270b2"/>
<circle cx="317.0" cy="222.0" r="1.05" fill="#2270b2"/>
<circle cx="318.8" cy="227.9" r="1.05" fill="#2270b2"/>
<circle cx="311.9" cy="224.4" r="1.05" fill="#2270b2"/>
<circle cx="310.6" cy="214.7" r="1.05" fill="#2270b2"/>
<circle cx="316.7" cy="220.1" r="1.05" fill="#2270b2"/>
<circle cx="319.3" cy="222.5" r="1.05" fill="#2270b2"/>
<circle cx="323.4" cy="217.9" r="1.05" fill="#2270b2"/>
<circle cx="321.8" cy="217.8" r="1.05" fill="#2270b2"/>
<circle cx="314.8" cy="216.3" r="1.05" fill="#2270b2"/>
<circle cx="320.4" cy="216.3" r="1.05" fill="#2270b2"/>
<circle cx="322.1" cy="220.1" r="1.05" fill="#2270b2"/>
<circle cx="320.2" cy="210.7" r="1.05" fill="#2270b2"/>
<circle cx="323.5" cy="210.4" r="1.05" fill="#2270b2"/>
<circle cx="311.6" cy="211.9" r="1.05" fill="#2270b2"/>
<circle cx="317.3" cy="220.4" r="1.05" fill="#2270b2"/>
<circle cx="312.7" cy="215.6" r="1.05" fill="#2270b2"/>
<circle cx="320.8" cy="219.1" r="1.05" fill="#2270b2"/>
<circle cx="327.0" cy="229.2" r="1.05" fill="#2270b2"/>
<circle cx="315.8" cy="218.0" r="1.05" fill="#2270b2"/>
<circle cx="316.2" cy="220.9" r="1.05" fill="#2270b2"/>
<circle cx="326.9" cy="221.3" r="1.05" fill="#2270b2"/>
<circle cx="322.0" cy="225.3" r="1.05" fill="#2270b2"/>
<circle cx="310.7" cy="214.4" r="1.05" fill="#2270b2"/>
<circle cx="319.7" cy="225.3" r="1.05" fill="#2270b2"/>
<circle cx="313.1" cy="220.3" r="1.05" fill="#2270b2"/>
<circle cx="322.0" cy="220.7" r="1.05" fill="#2270b2"/>
<circle cx="312.5" cy="223.5" r="1.05" fill="#2270b2"/>
<circle cx="318.5" cy="224.8" r="1.05" fill="#2270b2"/>
<circle cx="322.7" cy="222.0" r="1.05" fill="#2270b2"/>
<circle cx="327.4" cy="228.7" r="1.05" fill="#2270b2"/>
<circle cx="323.6" cy="229.6" r="1.05" fill="#2270b2"/>
<circle cx="314.7" cy="224.3" r="1.05" fill="#2270b2"/>
<circle cx="312.6" cy="210.9" r="1.05" fill="#2270b2"/>
<circle cx="322.3" cy="215.2" r="1.05" fill="#2270b2"/>
<circle cx="314.6" cy="221.8" r="1.05" fill="#2270b2"/>
<circle cx="323.6" cy="220.9" r="1.05" fill="#2270b2"/>
<circle cx="316.4" cy="223.0" r="1.05" fill="#2270b2"/>
<circle cx="319.8" cy="222.7" r="1.05" fill="#2270b2"/>
<circle cx="320.9" cy="216.0" r="1.05" fill="#2270b2"/>
<circle cx="317.3" cy="217.9" r="1.05" fill="#2270b2"/>
<circle cx="321.6" cy="221.9" r="1.05" fill="#2270b2"/>
<circle cx="315.8" cy="229.3" r="1.05" fill="#2270b2"/>
<circle cx="313.7" cy="226.3" r="1.05" fill="#2270b2"/>
<circle cx="313.9" cy="217.9" r="1.05" fill="#2270b2"/>
<circle cx="318.0" cy="221.8" r="1.05" fill="#2270b2"/>
<circle cx="323.5" cy="217.5" r="1.05" fill="#2270b2"/>
<circle cx="319.7" cy="218.5" r="1.05" fill="#2270b2"/>
<circle cx="318.5" cy="222.9" r="1.05" fill="#2270b2"/>
<circle cx="319.1" cy="220.6" r="1.05" fill="#2270b2"/>
<circle cx="326.7" cy="224.0" r="1.05" fill="#2270b2"/>
<circle cx="311.6" cy="219.4" r="1.05" fill="#2270b2"/>
<circle cx="312.0" cy="211.4" r="1.05" fill="#2270b2"/>
<circle cx="322.4" cy="210.0" r="1.05" fill="#2270b2"/>
<circle cx="317.7" cy="228.1" r="1.05" fill="#2270b2"/>
<circle cx="321.7" cy="229.0" r="1.05" fill="#2270b2"/>
<circle cx="323.0" cy="225.2" r="1.05" fill="#2270b2"/>
<circle cx="320.7" cy="223.4" r="1.05" fill="#2270b2"/>
<circle cx="326.3" cy="222.9" r="1.05" fill="#2270b2"/>
<circle cx="311.0" cy="212.9" r="1.05" fill="#2270b2"/>
<circle cx="322.7" cy="229.7" r="1.05" fill="#2270b2"/>
<circle cx="310.5" cy="216.4" r="1.05" fill="#2270b2"/>
<circle cx="310.7" cy="218.7" r="1.05" fill="#2270b2"/>
<circle cx="324.1" cy="213.4" r="1.05" fill="#2270b2"/>
<circle cx="322.5" cy="216.0" r="1.05" fill="#2270b2"/>
<circle cx="317.1" cy="229.1" r="1.05" fill="#2270b2"/>
<circle cx="325.2" cy="222.7" r="1.05" fill="#2270b2"/>
<circle cx="317.1" cy="212.8" r="1.05" fill="#2270b2"/>
<circle cx="319.1" cy="208.3" r="1.05" fill="#2270b2"/>
<circle cx="325.7" cy="229.0" r="1.05" fill="#2270b2"/>
<circle cx="316.6" cy="226.3" r="1.05" fill="#2270b2"/>
<circle cx="317.4" cy="212.5" r="1.05" fill="#2270b2"/>
<circle cx="313.7" cy="217.9" r="1.05" fill="#2270b2"/>
<circle cx="322.8" cy="228.5" r="1.05" fill="#2270b2"/>
<circle cx="322.0" cy="219.3" r="1.05" fill="#2270b2"/>
<circle cx="314.2" cy="213.3" r="1.05" fill="#2270b2"/>
<circle cx="314.9" cy="222.1" r="1.05" fill="#2270b2"/>
<circle cx="317.3" cy="213.5" r="1.05" fill="#2270b2"/>
<circle cx="310.7" cy="210.6" r="1.05" fill="#2270b2"/>
<circle cx="326.8" cy="214.5" r="1.05" fill="#2270b2"/>
<circle cx="315.1" cy="217.7" r="1.05" fill="#2270b2"/>
<circle cx="326.0" cy="214.3" r="1.05" fill="#2270b2"/>
<circle cx="322.3" cy="229.7" r="1.05" fill="#2270b2"/>
<circle cx="327.2" cy="221.6" r="1.05" fill="#2270b2"/>
<circle cx="312.3" cy="219.6" r="1.05" fill="#2270b2"/>
<circle cx="326.2" cy="220.3" r="1.05" fill="#2270b2"/>
<circle cx="311.4" cy="222.9" r="1.05" fill="#2270b2"/>
<circle cx="311.7" cy="218.8" r="1.05" fill="#2270b2"/>
<circle cx="323.6" cy="226.6" r="1.05" fill="#2270b2"/>
<circle cx="322.9" cy="219.5" r="1.05" fill="#2270b2"/>
<circle cx="323.9" cy="218.5" r="1.05" fill="#2270b2"/>
<circle cx="316.6" cy="224.2" r="1.05" fill="#2270b2"/>
<circle cx="322.1" cy="218.9" r="1.05" fill="#2270b2"/>
<circle cx="320.1" cy="211.0" r="1.05" fill="#2270b2"/>
<circle cx="315.3" cy="210.0" r="1.05" fill="#2270b2"/>
<circle cx="324.8" cy="218.4" r="1.05" fill="#2270b2"/>
<circle cx="323.3" cy="220.5" r="1.05" fill="#2270b2"/>
<circle cx="319.2" cy="229.5" r="1.05" fill="#2270b2"/>
<circle cx="314.2" cy="216.8" r="1.05" fill="#2270b2"/>
<circle cx="319.6" cy="219.2" r="1.05" fill="#2270b2"/>
<circle cx="322.5" cy="215.5" r="1.05" fill="#2270b2"/>
<circle cx="316.2" cy="220.4" r="1.05" fill="#2270b2"/>
<circle cx="321.6" cy="218.8" r="1.05" fill="#2270b2"/>
<circle cx="315.1" cy="227.8" r="1.05" fill="#2270b2"/>
<circle cx="326.6" cy="226.4" r="1.05" fill="#2270b2"/>
<circle cx="327.3" cy="222.0" r="1.05" fill="#2270b2"/>
<circle cx="314.2" cy="228.0" r="1.05" fill="#2270b2"/>
<circle cx="313.3" cy="210.7" r="1.05" fill="#2270b2"/>
<circle cx="320.5" cy="216.9" r="1.05" fill="#2270b2"/>
<circle cx="326.6" cy="216.8" r="1.05" fill="#2270b2"/>
<circle cx="326.5" cy="226.8" r="1.05" fill="#2270b2"/>
<circle cx="318.0" cy="214.4" r="1.05" fill="#2270b2"/>
<circle cx="314.7" cy="213.8" r="1.05" fill="#2270b2"/>
<circle cx="323.3" cy="212.3" r="1.05" fill="#2270b2"/>
<circle cx="318.7" cy="222.7" r="1.05" fill="#2270b2"/>
<circle cx="313.8" cy="220.7" r="1.05" fill="#2270b2"/>
<circle cx="314.8" cy="221.2" r="1.05" fill="#2270b2"/>
<circle cx="320.2" cy="225.7" r="1.05" fill="#2270b2"/>
<circle cx="326.4" cy="218.1" r="1.05" fill="#2270b2"/>
<circle cx="319.0" cy="221.9" r="1.05" fill="#2270b2"/>
<circle cx="314.6" cy="222.6" r="1.05" fill="#2270b2"/>
<circle cx="323.4" cy="217.4" r="1.05" fill="#2270b2"/>
<circle cx="324.7" cy="217.0" r="1.05" fill="#2270b2"/>
<circle cx="325.8" cy="218.8" r="1.05" fill="#2270b2"/>
<circle cx="321.2" cy="224.3" r="1.05" fill="#2270b2"/>
<circle cx="321.6" cy="221.8" r="1.05" fill="#2270b2"/>
<circle cx="326.3" cy="221.3" r="1.05" fill="#2270b2"/>
<circle cx="323.3" cy="222.8" r="1.05" fill="#2270b2"/>
<circle cx="318.8" cy="227.1" r="1.05" fill="#2270b2"/>
<circle cx="327.1" cy="224.9" r="1.05" fill="#2270b2"/>
<circle cx="323.4" cy="226.4" r="1.05" fill="#2270b2"/>
<circle cx="325.5" cy="215.1" r="1.05" fill="#2270b2"/>
<circle cx="314.6" cy="221.3" r="1.05" fill="#2270b2"/>
<circle cx="323.4" cy="220.7" r="1.05" fill="#2270b2"/>
<circle cx="322.9" cy="224.8" r="1.05" fill="#2270b2"/>
<circle cx="321.7" cy="211.7" r="1.05" fill="#2270b2"/>
<circle cx="319.5" cy="220.9" r="1.05" fill="#2270b2"/>
<circle cx="314.3" cy="222.4" r="1.05" fill="#2270b2"/>
<circle cx="321.2" cy="226.9" r="1.05" fill="#2270b2"/>
<circle cx="314.9" cy="220.1" r="1.05" fill="#2270b2"/>
<circle cx="321.6" cy="212.1" r="1.05" fill="#2270b2"/>
<circle cx="324.0" cy="222.6" r="1.05" fill="#2270b2"/>
<circle cx="323.6" cy="214.0" r="1.05" fill="#2270b2"/>
<circle cx="325.8" cy="228.0" r="1.05" fill="#2270b2"/>
<circle cx="313.2" cy="214.5" r="1.05" fill="#2270b2"/>
<circle cx="323.7" cy="211.5" r="1.05" fill="#2270b2"/>
<circle cx="318.5" cy="217.9" r="1.05" fill="#2270b2"/>
<circle cx="315.5" cy="218.8" r="1.05" fill="#2270b2"/>
<circle cx="320.1" cy="222.1" r="1.05" fill="#2270b2"/>
<circle cx="313.0" cy="217.0" r="1.05" fill="#2270b2"/>
<circle cx="312.6" cy="228.2" r="1.05" fill="#2270b2"/>
<circle cx="324.9" cy="223.8" r="1.05" fill="#2270b2"/>
<circle cx="325.1" cy="225.3" r="1.05" fill="#2270b2"/>
<circle cx="320.1" cy="209.2" r="1.05" fill="#2270b2"/>
<circle cx="325.7" cy="221.5" r="1.05" fill="#2270b2"/>
<circle cx="325.2" cy="228.1" r="1.05" fill="#2270b2"/>
<circle cx="322.0" cy="216.9" r="1.05" fill="#2270b2"/>
<circle cx="319.5" cy="218.4" r="1.05" fill="#2270b2"/>
<circle cx="324.1" cy="223.1" r="1.05" fill="#2270b2"/>
<circle cx="315.7" cy="212.6" r="1.05" fill="#2270b2"/>
<circle cx="322.7" cy="219.7" r="1.05" fill="#2270b2"/>
<circle cx="325.2" cy="227.3" r="1.05" fill="#2270b2"/>
<circle cx="326.8" cy="229.4" r="1.05" fill="#2270b2"/>
<circle cx="324.7" cy="221.1" r="1.05" fill="#2270b2"/>
<circle cx="314.7" cy="219.3" r="1.05" fill="#2270b2"/>
<circle cx="314.2" cy="221.0" r="1.05" fill="#2270b2"/>
<circle cx="323.0" cy="212.2" r="1.05" fill="#2270b2"/>
<circle cx="326.1" cy="220.4" r="1.05" fill="#2270b2"/>
<circle cx="319.3" cy="218.2" r="1.05" fill="#2270b2"/>
<circle cx="317.4" cy="226.1" r="1.05" fill="#2270b2"/>
<circle cx="324.5" cy="214.9" r="1.05" fill="#2270b2"/>
<circle cx="314.4" cy="213.2" r="1.05" fill="#2270b2"/>
<circle cx="326.2" cy="221.4" r="1.05" fill="#2270b2"/>
<circle cx="312.3" cy="222.3" r="1.05" fill="#2270b2"/>
<circle cx="318.4" cy="220.2" r="1.05" fill="#2270b2"/>
<circle cx="326.8" cy="222.3" r="1.05" fill="#2270b2"/>
<circle cx="312.2" cy="216.6" r="1.05" fill="#2270b2"/>
<circle cx="315.8" cy="222.9" r="1.05" fill="#2270b2"/>
<circle cx="315.2" cy="217.3" r="1.05" fill="#2270b2"/>
<circle cx="322.2" cy="212.3" r="1.05" fill="#2270b2"/>
<circle cx="322.4" cy="224.3" r="1.05" fill="#2270b2"/>
<circle cx="320.2" cy="228.3" r="1.05" fill="#2270b2"/>
<circle cx="312.9" cy="221.8" r="1.05" fill="#2270b2"/>
<circle cx="322.0" cy="222.7" r="1.05" fill="#2270b2"/>
<circle cx="312.8" cy="218.4" r="1.05" fill="#2270b2"/>
<circle cx="325.4" cy="226.2" r="1.05" fill="#2270b2"/>
<circle cx="312.1" cy="227.4" r="1.05" fill="#2270b2"/>
<circle cx="311.5" cy="219.3" r="1.05" fill="#2270b2"/>
<circle cx="319.9" cy="224.0" r="1.05" fill="#2270b2"/>
<circle cx="312.1" cy="218.2" r="1.05" fill="#2270b2"/>
<circle cx="326.5" cy="227.5" r="1.05" fill="#2270b2"/>
<circle cx="323.5" cy="226.2" r="1.05" fill="#2270b2"/>
<circle cx="327.1" cy="210.9" r="1.05" fill="#2270b2"/>
<circle cx="322.7" cy="218.2" r="1.05" fill="#2270b2"/>
<circle cx="314.0" cy="215.7" r="1.05" fill="#2270b2"/>
<circle cx="321.5" cy="215.1" r="1.05" fill="#2270b2"/>
<circle cx="316.9" cy="220.8" r="1.05" fill="#2270b2"/>
<circle cx="317.9" cy="224.8" r="1.05" fill="#2270b2"/>
<circle cx="317.0" cy="221.7" r="1.05" fill="#2270b2"/>
<circle cx="324.2" cy="221.0" r="1.05" fill="#2270b2"/>
<circle cx="312.5" cy="208.5" r="1.05" fill="#2270b2"/>
<circle cx="320.9" cy="226.6" r="1.05" fill="#2270b2"/>
<circle cx="320.1" cy="222.3" r="1.05" fill="#2270b2"/>
<circle cx="314.0" cy="218.0" r="1.05" fill="#2270b2"/>
<circle cx="326.7" cy="218.4" r="1.05" fill="#2270b2"/>
<circle cx="322.3" cy="224.0" r="1.05" fill="#2270b2"/>
<circle cx="316.0" cy="229.8" r="1.05" fill="#2270b2"/>
<circle cx="317.5" cy="217.6" r="1.05" fill="#2270b2"/>
<circle cx="314.0" cy="222.6" r="1.05" fill="#2270b2"/>
<circle cx="322.7" cy="219.2" r="1.05" fill="#2270b2"/>
<circle cx="325.1" cy="215.2" r="1.05" fill="#2270b2"/>
<circle cx="326.9" cy="228.6" r="1.05" fill="#2270b2"/>
<circle cx="326.6" cy="226.9" r="1.05" fill="#2270b2"/>
<circle cx="318.8" cy="212.5" r="1.05" fill="#2270b2"/>
<circle cx="321.0" cy="225.8" r="1.05" fill="#2270b2"/>
<circle cx="311.6" cy="219.5" r="1.05" fill="#2270b2"/>
<circle cx="326.2" cy="221.1" r="1.05" fill="#2270b2"/>
<circle cx="313.6" cy="218.7" r="1.05" fill="#2270b2"/>
<circle cx="318.2" cy="216.1" r="1.05" fill="#2270b2"/>
<circle cx="318.8" cy="218.6" r="1.05" fill="#2270b2"/>
<circle cx="313.2" cy="224.0" r="1.05" fill="#2270b2"/>
<circle cx="326.7" cy="209.5" r="1.05" fill="#2270b2"/>
<circle cx="316.4" cy="213.0" r="1.05" fill="#2270b2"/>
<circle cx="314.0" cy="224.7" r="1.05" fill="#2270b2"/>
<circle cx="326.6" cy="222.4" r="1.05" fill="#2270b2"/>
<circle cx="313.2" cy="229.3" r="1.05" fill="#2270b2"/>
<circle cx="322.4" cy="214.3" r="1.05" fill="#2270b2"/>
<circle cx="313.5" cy="221.1" r="1.05" fill="#2270b2"/>
<circle cx="312.7" cy="225.7" r="1.05" fill="#2270b2"/>
<circle cx="315.3" cy="221.1" r="1.05" fill="#2270b2"/>
<circle cx="315.2" cy="219.7" r="1.05" fill="#2270b2"/>
<circle cx="315.7" cy="224.7" r="1.05" fill="#2270b2"/>
<circle cx="322.6" cy="217.4" r="1.05" fill="#2270b2"/>
<circle cx="322.2" cy="215.9" r="1.05" fill="#2270b2"/>
<circle cx="312.1" cy="211.6" r="1.05" fill="#2270b2"/>
<circle cx="311.2" cy="217.2" r="1.05" fill="#2270b2"/>
<circle cx="325.2" cy="229.4" r="1.05" fill="#2270b2"/>
<circle cx="315.1" cy="227.6" r="1.05" fill="#2270b2"/>
<circle cx="312.5" cy="214.1" r="1.05" fill="#2270b2"/>
<circle cx="312.5" cy="215.2" r="1.05" fill="#2270b2"/>
<circle cx="323.6" cy="214.3" r="1.05" fill="#2270b2"/>
<circle cx="319.1" cy="213.1" r="1.05" fill="#2270b2"/>
<circle cx="314.8" cy="226.3" r="1.05" fill="#2270b2"/>
<circle cx="317.4" cy="218.9" r="1.05" fill="#2270b2"/>
<circle cx="320.4" cy="215.4" r="1.05" fill="#2270b2"/>
<circle cx="314.6" cy="218.6" r="1.05" fill="#2270b2"/>
<circle cx="325.8" cy="220.5" r="1.05" fill="#2270b2"/>
<circle cx="321.4" cy="220.0" r="1.05" fill="#2270b2"/>
<circle cx="323.8" cy="217.2" r="1.05" fill="#2270b2"/>
<circle cx="322.4" cy="219.7" r="1.05" fill="#2270b2"/>
<circle cx="324.7" cy="216.4" r="1.05" fill="#2270b2"/>
<circle cx="325.1" cy="220.0" r="1.05" fill="#2270b2"/>
<circle cx="323.7" cy="220.7" r="1.05" fill="#2270b2"/>
<circle cx="310.9" cy="220.3" r="1.05" fill="#2270b2"/>
<circle cx="320.4" cy="211.5" r="1.05" fill="#2270b2"/>
<circle cx="320.5" cy="215.0" r="1.05" fill="#2270b2"/>
<circle cx="326.6" cy="223.7" r="1.05" fill="#2270b2"/>
<circle cx="313.5" cy="221.7" r="1.05" fill="#2270b2"/>
<circle cx="313.2" cy="213.4" r="1.05" fill="#2270b2"/>
<circle cx="314.1" cy="222.7" r="1.05" fill="#2270b2"/>
<circle cx="317.4" cy="224.4" r="1.05" fill="#2270b2"/>
<circle cx="320.8" cy="221.6" r="1.05" fill="#2270b2"/>
<circle cx="319.3" cy="219.5" r="1.05" fill="#2270b2"/>
<circle cx="312.8" cy="218.2" r="1.05" fill="#2270b2"/>
<circle cx="324.5" cy="229.3" r="1.05" fill="#2270b2"/>
<circle cx="317.2" cy="222.5" r="1.05" fill="#2270b2"/>
<circle cx="319.3" cy="214.8" r="1.05" fill="#2270b2"/>
<circle cx="323.6" cy="217.5" r="1.05" fill="#2270b2"/>
<circle cx="322.5" cy="219.8" r="1.05" fill="#2270b2"/>
<circle cx="312.2" cy="217.0" r="1.05" fill="#2270b2"/>
<circle cx="320.6" cy="214.2" r="1.05" fill="#2270b2"/>
<circle cx="315.6" cy="216.7" r="1.05" fill="#2270b2"/>
<circle cx="326.4" cy="220.4" r="1.05" fill="#2270b2"/>
<circle cx="325.7" cy="214.6" r="1.05" fill="#2270b2"/>
<circle cx="316.3" cy="215.3" r="1.05" fill="#2270b2"/>
<circle cx="317.1" cy="224.1" r="1.05" fill="#2270b2"/>
<circle cx="314.0" cy="217.2" r="1.05" fill="#2270b2"/>
<circle cx="321.3" cy="211.1" r="1.05" fill="#2270b2"/>
<circle cx="318.9" cy="215.2" r="1.05" fill="#2270b2"/>
<circle cx="324.7" cy="211.4" r="1.05" fill="#2270b2"/>
<circle cx="321.0" cy="222.9" r="1.05" fill="#2270b2"/>
<circle cx="314.6" cy="210.7" r="1.05" fill="#2270b2"/>
<circle cx="318.8" cy="220.9" r="1.05" fill="#2270b2"/>
<circle cx="315.1" cy="223.6" r="1.05" fill="#2270b2"/>
<circle cx="322.8" cy="228.6" r="1.05" fill="#2270b2"/>
<circle cx="325.2" cy="212.7" r="1.05" fill="#2270b2"/>
<circle cx="310.8" cy="215.7" r="1.05" fill="#2270b2"/>
<circle cx="320.2" cy="211.1" r="1.05" fill="#2270b2"/>
<circle cx="320.7" cy="221.2" r="1.05" fill="#2270b2"/>
<circle cx="315.4" cy="225.4" r="1.05" fill="#2270b2"/>
<circle cx="321.5" cy="228.5" r="1.05" fill="#2270b2"/>
<circle cx="324.3" cy="224.5" r="1.05" fill="#2270b2"/>
<circle cx="311.0" cy="218.2" r="1.05" fill="#2270b2"/>
<circle cx="313.4" cy="216.3" r="1.05" fill="#2270b2"/>
<circle cx="314.6" cy="216.8" r="1.05" fill="#2270b2"/>
<circle cx="322.2" cy="221.9" r="1.05" fill="#2270b2"/>
<circle cx="324.5" cy="229.3" r="1.05" fill="#2270b2"/>
<circle cx="326.4" cy="218.6" r="1.05" fill="#2270b2"/>
<circle cx="320.1" cy="226.5" r="1.05" fill="#2270b2"/>
<circle cx="319.2" cy="222.8" r="1.05" fill="#2270b2"/>
<circle cx="312.6" cy="223.5" r="1.05" fill="#2270b2"/>
<circle cx="322.3" cy="225.6" r="1.05" fill="#2270b2"/>
<circle cx="322.1" cy="220.3" r="1.05" fill="#2270b2"/>
<circle cx="314.7" cy="216.2" r="1.05" fill="#2270b2"/>
<circle cx="321.6" cy="217.3" r="1.05" fill="#2270b2"/>
<circle cx="314.2" cy="224.1" r="1.05" fill="#2270b2"/>
<circle cx="323.4" cy="226.5" r="1.05" fill="#2270b2"/>
<circle cx="314.7" cy="222.8" r="1.05" fill="#2270b2"/>
<circle cx="311.2" cy="211.3" r="1.05" fill="#2270b2"/>
<circle cx="317.9" cy="224.5" r="1.05" fill="#2270b2"/>
<circle cx="320.1" cy="216.2" r="1.05" fill="#2270b2"/>
<circle cx="326.7" cy="217.9" r="1.05" fill="#2270b2"/>
<circle cx="317.5" cy="215.0" r="1.05" fill="#2270b2"/>
<circle cx="312.8" cy="225.6" r="1.05" fill="#2270b2"/>
<circle cx="322.8" cy="211.7" r="1.05" fill="#2270b2"/>
<circle cx="316.9" cy="214.7" r="1.05" fill="#2270b2"/>
<circle cx="324.6" cy="210.2" r="1.05" fill="#2270b2"/>
<circle cx="316.6" cy="216.2" r="1.05" fill="#2270b2"/>
<circle cx="322.4" cy="219.5" r="1.05" fill="#2270b2"/>
<circle cx="318.2" cy="220.2" r="1.05" fill="#2270b2"/>
<circle cx="317.4" cy="222.7" r="1.05" fill="#2270b2"/>
<circle cx="324.1" cy="214.8" r="1.05" fill="#2270b2"/>
<circle cx="321.5" cy="223.7" r="1.05" fill="#2270b2"/>
<circle cx="319.4" cy="214.6" r="1.05" fill="#2270b2"/>
<circle cx="318.3" cy="223.8" r="1.05" fill="#2270b2"/>
<circle cx="318.3" cy="215.2" r="1.05" fill="#2270b2"/>
<circle cx="312.4" cy="226.5" r="1.05" fill="#2270b2"/>
<circle cx="323.2" cy="220.6" r="1.05" fill="#2270b2"/>
<circle cx="322.7" cy="210.1" r="1.05" fill="#2270b2"/>
<circle cx="319.1" cy="218.7" r="1.05" fill="#2270b2"/>
<circle cx="323.0" cy="228.5" r="1.05" fill="#2270b2"/>
<circle cx="314.2" cy="225.4" r="1.05" fill="#2270b2"/>
<circle cx="321.9" cy="214.9" r="1.05" fill="#2270b2"/>
<circle cx="311.8" cy="217.7" r="1.05" fill="#2270b2"/>
<circle cx="317.0" cy="218.1" r="1.05" fill="#2270b2"/>
<circle cx="315.0" cy="216.4" r="1.05" fill="#2270b2"/>
<circle cx="317.9" cy="226.6" r="1.05" fill="#2270b2"/>
<circle cx="315.2" cy="212.1" r="1.05" fill="#2270b2"/>
<circle cx="321.1" cy="211.5" r="1.05" fill="#2270b2"/>
<circle cx="327.1" cy="226.4" r="1.05" fill="#2270b2"/>
<circle cx="327.0" cy="221.7" r="1.05" fill="#2270b2"/>
<circle cx="322.6" cy="224.0" r="1.05" fill="#2270b2"/>
<circle cx="311.9" cy="215.9" r="1.05" fill="#2270b2"/>
<circle cx="318.5" cy="223.8" r="1.05" fill="#2270b2"/>
<circle cx="318.4" cy="210.6" r="1.05" fill="#2270b2"/>
<circle cx="322.1" cy="219.4" r="1.05" fill="#2270b2"/>
<circle cx="315.4" cy="221.9" r="1.05" fill="#2270b2"/>
<circle cx="322.1" cy="209.2" r="1.05" fill="#2270b2"/>
<circle cx="326.2" cy="216.1" r="1.05" fill="#2270b2"/>
<circle cx="314.2" cy="212.4" r="1.05" fill="#2270b2"/>
<circle cx="319.3" cy="215.3" r="1.05" fill="#2270b2"/>
<circle cx="315.2" cy="218.2" r="1.05" fill="#2270b2"/>
<circle cx="320.0" cy="217.6" r="1.05" fill="#2270b2"/>
<circle cx="322.7" cy="208.9" r="1.05" fill="#2270b2"/>
<circle cx="322.3" cy="223.6" r="1.05" fill="#2270b2"/>
<circle cx="321.0" cy="212.8" r="1.05" fill="#2270b2"/>
<circle cx="320.1" cy="221.5" r="1.05" fill="#2270b2"/>
<circle cx="322.6" cy="216.0" r="1.05" fill="#2270b2"/>
<circle cx="319.0" cy="210.9" r="1.05" fill="#2270b2"/>
<circle cx="312.9" cy="224.6" r="1.05" fill="#2270b2"/>
<circle cx="327.0" cy="218.8" r="1.05" fill="#2270b2"/>
<circle cx="324.3" cy="222.2" r="1.05" fill="#2270b2"/>
<circle cx="326.4" cy="222.4" r="1.05" fill="#2270b2"/>
<circle cx="314.2" cy="221.6" r="1.05" fill="#2270b2"/>
<circle cx="325.0" cy="215.8" r="1.05" fill="#2270b2"/>
<circle cx="324.7" cy="222.5" r="1.05" fill="#2270b2"/>
<circle cx="327.0" cy="225.0" r="1.05" fill="#2270b2"/>
<circle cx="319.0" cy="216.2" r="1.05" fill="#2270b2"/>
<circle cx="313.6" cy="214.1" r="1.05" fill="#2270b2"/>
<circle cx="313.4" cy="216.6" r="1.05" fill="#2270b2"/>
<circle cx="326.1" cy="225.8" r="1.05" fill="#2270b2"/>
<circle cx="311.9" cy="219.5" r="1.05" fill="#2270b2"/>
<circle cx="320.0" cy="227.9" r="1.05" fill="#2270b2"/>
<circle cx="325.7" cy="217.7" r="1.05" fill="#2270b2"/>
<circle cx="311.2" cy="220.1" r="1.05" fill="#2270b2"/>
<circle cx="322.1" cy="228.1" r="1.05" fill="#2270b2"/>
<circle cx="313.9" cy="229.2" r="1.05" fill="#2270b2"/>
<circle cx="312.0" cy="224.0" r="1.05" fill="#2270b2"/>
<circle cx="310.7" cy="213.8" r="1.05" fill="#2270b2"/>
<circle cx="320.1" cy="220.1" r="1.05" fill="#2270b2"/>
<circle cx="321.9" cy="219.7" r="1.05" fill="#2270b2"/>
<circle cx="317.9" cy="214.2" r="1.05" fill="#2270b2"/>
<circle cx="315.4" cy="226.8" r="1.05" fill="#2270b2"/>
<circle cx="315.1" cy="222.2" r="1.05" fill="#2270b2"/>
<circle cx="319.9" cy="215.2" r="1.05" fill="#2270b2"/>
<circle cx="319.5" cy="213.6" r="1.05" fill="#2270b2"/>
<circle cx="325.0" cy="221.2" r="1.05" fill="#2270b2"/>
<circle cx="320.0" cy="210.7" r="1.05" fill="#2270b2"/>
<circle cx="315.0" cy="225.2" r="1.05" fill="#2270b2"/>
<circle cx="321.5" cy="217.5" r="1.05" fill="#2270b2"/>
<circle cx="320.0" cy="213.0" r="1.05" fill="#2270b2"/>
<circle cx="316.9" cy="223.0" r="1.05" fill="#2270b2"/>
<circle cx="320.1" cy="215.3" r="1.05" fill="#2270b2"/>
<circle cx="321.4" cy="219.2" r="1.05" fill="#2270b2"/>
<circle cx="326.1" cy="220.9" r="1.05" fill="#2270b2"/>
<circle cx="319.4" cy="214.7" r="1.05" fill="#2270b2"/>
<circle cx="317.7" cy="222.2" r="1.05" fill="#2270b2"/>
<circle cx="321.0" cy="227.2" r="1.05" fill="#2270b2"/>
<circle cx="320.6" cy="225.8" r="1.05" fill="#2270b2"/>
<circle cx="311.1" cy="219.6" r="1.05" fill="#2270b2"/>
<circle cx="315.5" cy="224.3" r="1.05" fill="#2270b2"/>
<circle cx="326.6" cy="214.0" r="1.05" fill="#2270b2"/>
<circle cx="319.9" cy="219.0" r="1.05" fill="#2270b2"/>
<circle cx="317.3" cy="226.1" r="1.05" fill="#2270b2"/>
<circle cx="322.0" cy="214.3" r="1.05" fill="#2270b2"/>
<circle cx="324.3" cy="221.1" r="1.05" fill="#2270b2"/>
<circle cx="327.5" cy="224.5" r="1.05" fill="#2270b2"/>
<circle cx="323.4" cy="220.7" r="1.05" fill="#2270b2"/>
<circle cx="319.7" cy="229.7" r="1.05" fill="#2270b2"/>
<circle cx="325.4" cy="217.9" r="1.05" fill="#2270b2"/>
<circle cx="322.7" cy="217.1" r="1.05" fill="#2270b2"/>
<circle cx="311.6" cy="212.3" r="1.05" fill="#2270b2"/>
<circle cx="311.9" cy="221.3" r="1.05" fill="#2270b2"/>
<circle cx="325.1" cy="220.7" r="1.05" fill="#2270b2"/>
<circle cx="325.5" cy="215.6" r="1.05" fill="#2270b2"/>
<circle cx="315.7" cy="222.2" r="1.05" fill="#2270b2"/>
<circle cx="317.0" cy="228.7" r="1.05" fill="#2270b2"/>
<circle cx="316.1" cy="217.2" r="1.05" fill="#2270b2"/>
<circle cx="327.2" cy="227.3" r="1.05" fill="#2270b2"/>
<circle cx="318.9" cy="224.0" r="1.05" fill="#2270b2"/>
<circle cx="324.8" cy="219.1" r="1.05" fill="#2270b2"/>
<circle cx="324.0" cy="208.3" r="1.05" fill="#2270b2"/>
<circle cx="317.4" cy="210.8" r="1.05" fill="#2270b2"/>
<circle cx="326.8" cy="219.3" r="1.05" fill="#2270b2"/>
<circle cx="316.9" cy="215.7" r="1.05" fill="#2270b2"/>
<circle cx="318.5" cy="221.8" r="1.05" fill="#2270b2"/>
<circle cx="315.4" cy="217.1" r="1.05" fill="#2270b2"/>
<circle cx="316.8" cy="218.8" r="1.05" fill="#2270b2"/>
<circle cx="318.9" cy="216.0" r="1.05" fill="#2270b2"/>
<circle cx="319.8" cy="216.9" r="1.05" fill="#2270b2"/>
<circle cx="318.0" cy="222.3" r="1.05" fill="#2270b2"/>
<circle cx="315.0" cy="210.2" r="1.05" fill="#2270b2"/>
<circle cx="321.8" cy="226.4" r="1.05" fill="#2270b2"/>
<circle cx="319.7" cy="223.3" r="1.05" fill="#2270b2"/>
<circle cx="313.9" cy="209.7" r="1.05" fill="#2270b2"/>
<circle cx="324.7" cy="221.6" r="1.05" fill="#2270b2"/>
<circle cx="311.0" cy="217.8" r="1.05" fill="#2270b2"/>
<circle cx="318.4" cy="216.6" r="1.05" fill="#2270b2"/>
<circle cx="321.8" cy="218.8" r="1.05" fill="#2270b2"/>
<circle cx="316.8" cy="219.1" r="1.05" fill="#2270b2"/>
<circle cx="324.6" cy="215.3" r="1.05" fill="#2270b2"/>
<circle cx="321.7" cy="217.2" r="1.05" fill="#2270b2"/>
<circle cx="321.6" cy="225.8" r="1.05" fill="#2270b2"/>
<circle cx="314.9" cy="211.5" r="1.05" fill="#2270b2"/>
<circle cx="319.6" cy="224.8" r="1.05" fill="#2270b2"/>
<circle cx="323.8" cy="215.5" r="1.05" fill="#2270b2"/>
<circle cx="321.5" cy="222.6" r="1.05" fill="#2270b2"/>
<circle cx="322.9" cy="212.4" r="1.05" fill="#2270b2"/>
<circle cx="311.4" cy="215.4" r="1.05" fill="#2270b2"/>
<circle cx="321.6" cy="218.5" r="1.05" fill="#2270b2"/>
<circle cx="312.7" cy="208.5" r="1.05" fill="#2270b2"/>
<circle cx="313.5" cy="212.6" r="1.05" fill="#2270b2"/>
<circle cx="314.3" cy="228.3" r="1.05" fill="#2270b2"/>
<circle cx="322.7" cy="224.3" r="1.05" fill="#2270b2"/>
<circle cx="321.9" cy="225.1" r="1.05" fill="#2270b2"/>
<circle cx="315.3" cy="223.2" r="1.05" fill="#2270b2"/>
<circle cx="311.6" cy="216.7" r="1.05" fill="#2270b2"/>
<circle cx="326.5" cy="229.5" r="1.05" fill="#2270b2"/>
<circle cx="323.3" cy="228.6" r="1.05" fill="#2270b2"/>
<circle cx="322.7" cy="212.9" r="1.05" fill="#2270b2"/>
<circle cx="316.9" cy="214.7" r="1.05" fill="#2270b2"/>
<circle cx="310.7" cy="217.0" r="1.05" fill="#2270b2"/>
<circle cx="314.9" cy="225.2" r="1.05" fill="#2270b2"/>
<circle cx="319.9" cy="221.3" r="1.05" fill="#2270b2"/>
<circle cx="325.4" cy="220.6" r="1.05" fill="#2270b2"/>
<circle cx="323.4" cy="223.0" r="1.05" fill="#2270b2"/>
<circle cx="319.0" cy="222.6" r="1.05" fill="#2270b2"/>
<circle cx="324.4" cy="224.2" r="1.05" fill="#2270b2"/>
<circle cx="320.6" cy="220.9" r="1.05" fill="#2270b2"/>
<circle cx="312.4" cy="227.3" r="1.05" fill="#2270b2"/>
<circle cx="321.9" cy="209.6" r="1.05" fill="#2270b2"/>
<circle cx="319.5" cy="222.0" r="1.05" fill="#2270b2"/>
<circle cx="320.4" cy="223.3" r="1.05" fill="#2270b2"/>
<circle cx="321.3" cy="209.2" r="1.05" fill="#2270b2"/>
<circle cx="324.1" cy="220.9" r="1.05" fill="#2270b2"/>
<circle cx="321.7" cy="214.3" r="1.05" fill="#2270b2"/>
<circle cx="313.2" cy="222.5" r="1.05" fill="#2270b2"/>
<circle cx="314.3" cy="209.3" r="1.05" fill="#2270b2"/>
<circle cx="325.5" cy="221.3" r="1.05" fill="#2270b2"/>
<circle cx="322.0" cy="210.5" r="1.05" fill="#2270b2"/>
<circle cx="324.4" cy="223.5" r="1.05" fill="#2270b2"/>
<circle cx="323.7" cy="221.4" r="1.05" fill="#2270b2"/>
<circle cx="319.7" cy="217.1" r="1.05" fill="#2270b2"/>
<circle cx="312.5" cy="226.7" r="1.05" fill="#2270b2"/>
<circle cx="311.4" cy="227.2" r="1.05" fill="#2270b2"/>
<circle cx="313.7" cy="224.9" r="1.05" fill="#2270b2"/>
<circle cx="318.1" cy="214.6" r="1.05" fill="#2270b2"/>
<circle cx="323.4" cy="217.0" r="1.05" fill="#2270b2"/>
<circle cx="324.5" cy="220.4" r="1.05" fill="#2270b2"/>
<circle cx="320.4" cy="218.2" r="1.05" fill="#2270b2"/>
<circle cx="317.0" cy="211.9" r="1.05" fill="#2270b2"/>
<circle cx="317.1" cy="226.2" r="1.05" fill="#2270b2"/>
<circle cx="320.0" cy="222.5" r="1.05" fill="#2270b2"/>
<circle cx="326.2" cy="214.6" r="1.05" fill="#2270b2"/>
<circle cx="317.2" cy="212.7" r="1.05" fill="#2270b2"/>
<circle cx="320.0" cy="225.1" r="1.05" fill="#2270b2"/>
<circle cx="324.7" cy="229.7" r="1.05" fill="#2270b2"/>
<circle cx="327.0" cy="222.3" r="1.05" fill="#2270b2"/>
<circle cx="327.1" cy="220.9" r="1.05" fill="#2270b2"/>
<circle cx="314.2" cy="220.2" r="1.05" fill="#2270b2"/>
<circle cx="323.6" cy="217.5" r="1.05" fill="#2270b2"/>
<circle cx="313.4" cy="228.2" r="1.05" fill="#2270b2"/>
<circle cx="323.8" cy="224.8" r="1.05" fill="#2270b2"/>
<circle cx="310.7" cy="219.8" r="1.05" fill="#2270b2"/>
<circle cx="327.0" cy="208.1" r="1.05" fill="#2270b2"/>
<circle cx="324.1" cy="210.1" r="1.05" fill="#2270b2"/>
<circle cx="319.9" cy="218.7" r="1.05" fill="#2270b2"/>
<circle cx="323.2" cy="214.1" r="1.05" fill="#2270b2"/>
<circle cx="314.0" cy="221.8" r="1.05" fill="#2270b2"/>
<circle cx="320.8" cy="227.0" r="1.05" fill="#2270b2"/>
<circle cx="317.5" cy="222.5" r="1.05" fill="#2270b2"/>
<circle cx="312.6" cy="220.9" r="1.05" fill="#2270b2"/>
<circle cx="312.9" cy="222.7" r="1.05" fill="#2270b2"/>
<circle cx="326.9" cy="215.5" r="1.05" fill="#2270b2"/>
<circle cx="313.2" cy="222.9" r="1.05" fill="#2270b2"/>
<circle cx="315.6" cy="218.2" r="1.05" fill="#2270b2"/>
<circle cx="325.6" cy="219.1" r="1.05" fill="#2270b2"/>
<circle cx="317.9" cy="220.5" r="1.05" fill="#2270b2"/>
<circle cx="323.8" cy="212.2" r="1.05" fill="#2270b2"/>
<circle cx="320.6" cy="221.7" r="1.05" fill="#2270b2"/>
<circle cx="311.9" cy="221.4" r="1.05" fill="#2270b2"/>
<circle cx="319.6" cy="215.5" r="1.05" fill="#2270b2"/>
<circle cx="316.5" cy="216.2" r="1.05" fill="#2270b2"/>
<circle cx="316.5" cy="216.2" r="1.05" fill="#2270b2"/>
<circle cx="323.3" cy="228.1" r="1.05" fill="#2270b2"/>
<circle cx="319.0" cy="218.6" r="1.05" fill="#2270b2"/>
<circle cx="326.2" cy="217.9" r="1.05" fill="#2270b2"/>
<circle cx="324.8" cy="227.1" r="1.05" fill="#2270b2"/>
<circle cx="327.0" cy="219.6" r="1.05" fill="#2270b2"/>
<circle cx="316.9" cy="219.9" r="1.05" fill="#2270b2"/>
<circle cx="312.2" cy="217.2" r="1.05" fill="#2270b2"/>
<circle cx="313.8" cy="224.5" r="1.05" fill="#2270b2"/>
<circle cx="319.5" cy="222.6" r="1.05" fill="#2270b2"/>
<circle cx="311.3" cy="220.5" r="1.05" fill="#2270b2"/>
<circle cx="310.8" cy="223.3" r="1.05" fill="#2270b2"/>
<circle cx="315.6" cy="219.1" r="1.05" fill="#2270b2"/>
<circle cx="313.1" cy="220.4" r="1.05" fill="#2270b2"/>
<circle cx="327.3" cy="229.3" r="1.05" fill="#2270b2"/>
<circle cx="311.3" cy="224.0" r="1.05" fill="#2270b2"/>
<circle cx="319.2" cy="226.5" r="1.05" fill="#2270b2"/>
<circle cx="327.2" cy="228.0" r="1.05" fill="#2270b2"/>
<circle cx="312.2" cy="220.6" r="1.05" fill="#2270b2"/>
<circle cx="318.6" cy="222.6" r="1.05" fill="#2270b2"/>
<circle cx="320.1" cy="217.3" r="1.05" fill="#2270b2"/>
<circle cx="327.0" cy="212.2" r="1.05" fill="#2270b2"/>
<circle cx="315.6" cy="218.2" r="1.05" fill="#2270b2"/>
<circle cx="314.3" cy="218.2" r="1.05" fill="#2270b2"/>
<circle cx="326.0" cy="212.7" r="1.05" fill="#2270b2"/>
<circle cx="331.1" cy="219.6" r="1.05" fill="#2270b2"/>
<circle cx="326.5" cy="208.0" r="1.05" fill="#2270b2"/>
<circle cx="325.3" cy="218.7" r="1.05" fill="#2270b2"/>
<circle cx="335.8" cy="215.6" r="1.05" fill="#2270b2"/>
<circle cx="326.2" cy="213.5" r="1.05" fill="#2270b2"/>
<circle cx="334.1" cy="211.8" r="1.05" fill="#2270b2"/>
<circle cx="332.3" cy="209.0" r="1.05" fill="#2270b2"/>
<circle cx="327.8" cy="212.8" r="1.05" fill="#2270b2"/>
<circle cx="328.1" cy="215.8" r="1.05" fill="#2270b2"/>
<circle cx="340.8" cy="209.3" r="1.05" fill="#2270b2"/>
<circle cx="335.4" cy="223.3" r="1.05" fill="#2270b2"/>
<circle cx="333.7" cy="208.7" r="1.05" fill="#2270b2"/>
<circle cx="337.9" cy="215.3" r="1.05" fill="#2270b2"/>
<circle cx="331.7" cy="212.4" r="1.05" fill="#2270b2"/>
<circle cx="327.7" cy="221.7" r="1.05" fill="#2270b2"/>
<circle cx="328.8" cy="213.5" r="1.05" fill="#2270b2"/>
<circle cx="341.5" cy="212.0" r="1.05" fill="#2270b2"/>
<circle cx="326.4" cy="224.0" r="1.05" fill="#2270b2"/>
<circle cx="342.2" cy="211.7" r="1.05" fill="#2270b2"/>
<circle cx="341.1" cy="213.9" r="1.05" fill="#2270b2"/>
<circle cx="335.0" cy="211.3" r="1.05" fill="#2270b2"/>
<circle cx="337.7" cy="216.8" r="1.05" fill="#2270b2"/>
<circle cx="334.8" cy="215.8" r="1.05" fill="#2270b2"/>
<circle cx="331.9" cy="210.4" r="1.05" fill="#2270b2"/>
<circle cx="334.2" cy="216.2" r="1.05" fill="#2270b2"/>
<circle cx="340.8" cy="211.7" r="1.05" fill="#2270b2"/>
<circle cx="334.6" cy="216.7" r="1.05" fill="#2270b2"/>
<circle cx="329.0" cy="210.4" r="1.05" fill="#2270b2"/>
<circle cx="327.7" cy="219.6" r="1.05" fill="#2270b2"/>
<circle cx="328.8" cy="220.1" r="1.05" fill="#2270b2"/>
<circle cx="342.4" cy="209.9" r="1.05" fill="#2270b2"/>
<circle cx="329.4" cy="215.1" r="1.05" fill="#2270b2"/>
<circle cx="325.6" cy="218.7" r="1.05" fill="#2270b2"/>
<circle cx="334.2" cy="208.7" r="1.05" fill="#2270b2"/>
<circle cx="326.8" cy="216.1" r="1.05" fill="#2270b2"/>
<circle cx="325.9" cy="222.6" r="1.05" fill="#2270b2"/>
<circle cx="336.5" cy="219.3" r="1.05" fill="#2270b2"/>
<circle cx="327.0" cy="218.8" r="1.05" fill="#2270b2"/>
<circle cx="346.4" cy="207.1" r="1.05" fill="#2270b2"/>
<circle cx="326.3" cy="214.5" r="1.05" fill="#2270b2"/>
<circle cx="330.3" cy="215.4" r="1.05" fill="#2270b2"/>
<circle cx="333.5" cy="210.5" r="1.05" fill="#2270b2"/>
<circle cx="349.7" cy="209.5" r="1.05" fill="#2270b2"/>
<circle cx="335.2" cy="218.4" r="1.05" fill="#2270b2"/>
<circle cx="338.1" cy="207.8" r="1.05" fill="#2270b2"/>
<circle cx="352.6" cy="217.4" r="1.05" fill="#2270b2"/>
<circle cx="331.3" cy="210.5" r="1.05" fill="#2270b2"/>
<circle cx="335.8" cy="215.6" r="1.05" fill="#2270b2"/>
<circle cx="336.2" cy="221.6" r="1.05" fill="#2270b2"/>
<circle cx="336.9" cy="216.2" r="1.05" fill="#2270b2"/>
<circle cx="336.1" cy="210.5" r="1.05" fill="#2270b2"/>
<circle cx="329.3" cy="216.6" r="1.05" fill="#2270b2"/>
<circle cx="341.4" cy="212.6" r="1.05" fill="#2270b2"/>
<circle cx="327.2" cy="216.6" r="1.05" fill="#2270b2"/>
<circle cx="328.3" cy="214.6" r="1.05" fill="#2270b2"/>
<circle cx="330.6" cy="215.1" r="1.05" fill="#2270b2"/>
<circle cx="333.3" cy="212.4" r="1.05" fill="#2270b2"/>
<circle cx="329.8" cy="213.7" r="1.05" fill="#2270b2"/>
<circle cx="326.9" cy="216.8" r="1.05" fill="#2270b2"/>
<circle cx="328.1" cy="214.5" r="1.05" fill="#2270b2"/>
<circle cx="328.0" cy="220.3" r="1.05" fill="#2270b2"/>
<circle cx="327.6" cy="219.4" r="1.05" fill="#2270b2"/>
<circle cx="328.2" cy="213.8" r="1.05" fill="#2270b2"/>
<circle cx="347.0" cy="208.0" r="1.05" fill="#2270b2"/>
<circle cx="326.4" cy="221.8" r="1.05" fill="#2270b2"/>
<circle cx="332.0" cy="213.3" r="1.05" fill="#2270b2"/>
<circle cx="327.4" cy="210.2" r="1.05" fill="#2270b2"/>
<circle cx="328.3" cy="212.2" r="1.05" fill="#2270b2"/>
<circle cx="330.7" cy="214.0" r="1.05" fill="#2270b2"/>
<circle cx="336.4" cy="220.8" r="1.05" fill="#2270b2"/>
<circle cx="337.7" cy="218.2" r="1.05" fill="#2270b2"/>
<circle cx="337.7" cy="215.0" r="1.05" fill="#2270b2"/>
<circle cx="334.2" cy="209.0" r="1.05" fill="#2270b2"/>
<circle cx="325.5" cy="214.4" r="1.05" fill="#2270b2"/>
<circle cx="325.4" cy="213.2" r="1.05" fill="#2270b2"/>
<circle cx="325.6" cy="222.7" r="1.05" fill="#2270b2"/>
<circle cx="328.2" cy="214.9" r="1.05" fill="#2270b2"/>
<circle cx="335.3" cy="225.8" r="1.05" fill="#2270b2"/>
<circle cx="327.8" cy="218.0" r="1.05" fill="#2270b2"/>
<circle cx="325.4" cy="212.7" r="1.05" fill="#2270b2"/>
<circle cx="334.2" cy="215.7" r="1.05" fill="#2270b2"/>
<circle cx="329.1" cy="211.6" r="1.05" fill="#2270b2"/>
<circle cx="328.2" cy="217.8" r="1.05" fill="#2270b2"/>
<circle cx="327.4" cy="206.3" r="1.05" fill="#2270b2"/>
<circle cx="326.7" cy="221.3" r="1.05" fill="#2270b2"/>
<circle cx="326.1" cy="216.8" r="1.05" fill="#2270b2"/>
<circle cx="326.8" cy="219.3" r="1.05" fill="#2270b2"/>
<circle cx="343.5" cy="208.1" r="1.05" fill="#2270b2"/>
<circle cx="326.1" cy="226.2" r="1.05" fill="#2270b2"/>
<circle cx="347.4" cy="207.6" r="1.05" fill="#2270b2"/>
<circle cx="327.1" cy="210.0" r="1.05" fill="#2270b2"/>
<circle cx="333.9" cy="213.4" r="1.05" fill="#2270b2"/>
<circle cx="326.4" cy="217.3" r="1.05" fill="#2270b2"/>
<circle cx="326.5" cy="209.1" r="1.05" fill="#2270b2"/>
<circle cx="327.1" cy="215.0" r="1.05" fill="#2270b2"/>
<circle cx="329.7" cy="217.4" r="1.05" fill="#2270b2"/>
<circle cx="328.6" cy="210.9" r="1.05" fill="#2270b2"/>
<circle cx="345.0" cy="217.7" r="1.05" fill="#2270b2"/>
<circle cx="327.8" cy="214.7" r="1.05" fill="#2270b2"/>
<circle cx="332.5" cy="209.6" r="1.05" fill="#2270b2"/>
<circle cx="331.3" cy="212.1" r="1.05" fill="#2270b2"/>
<circle cx="335.6" cy="210.7" r="1.05" fill="#2270b2"/>
<circle cx="353.5" cy="212.2" r="1.05" fill="#2270b2"/>
<circle cx="330.6" cy="218.1" r="1.05" fill="#2270b2"/>
<circle cx="329.8" cy="215.3" r="1.05" fill="#2270b2"/>
<circle cx="327.8" cy="216.9" r="1.05" fill="#2270b2"/>
<circle cx="330.9" cy="215.1" r="1.05" fill="#2270b2"/>
<circle cx="338.8" cy="216.7" r="1.05" fill="#2270b2"/>
<circle cx="335.6" cy="219.6" r="1.05" fill="#2270b2"/>
<circle cx="326.7" cy="208.6" r="1.05" fill="#2270b2"/>
<circle cx="339.3" cy="214.8" r="1.05" fill="#2270b2"/>
<circle cx="347.4" cy="212.4" r="1.05" fill="#2270b2"/>
<circle cx="330.7" cy="221.9" r="1.05" fill="#2270b2"/>
<circle cx="341.4" cy="218.6" r="1.05" fill="#2270b2"/>
<circle cx="326.9" cy="209.8" r="1.05" fill="#2270b2"/>
<circle cx="334.1" cy="212.3" r="1.05" fill="#2270b2"/>
<circle cx="336.1" cy="206.4" r="1.05" fill="#2270b2"/>
<circle cx="325.7" cy="217.6" r="1.05" fill="#2270b2"/>
<circle cx="327.0" cy="216.8" r="1.05" fill="#2270b2"/>
<circle cx="336.9" cy="213.2" r="1.05" fill="#2270b2"/>
<circle cx="344.1" cy="206.2" r="1.05" fill="#2270b2"/>
<circle cx="332.6" cy="215.6" r="1.05" fill="#2270b2"/>
<circle cx="338.4" cy="217.2" r="1.05" fill="#2270b2"/>
<circle cx="330.8" cy="211.3" r="1.05" fill="#2270b2"/>
<circle cx="325.9" cy="225.1" r="1.05" fill="#2270b2"/>
<circle cx="325.0" cy="222.3" r="1.05" fill="#2270b2"/>
<circle cx="327.3" cy="222.0" r="1.05" fill="#2270b2"/>
<circle cx="332.3" cy="206.7" r="1.05" fill="#2270b2"/>
<circle cx="331.8" cy="219.7" r="1.05" fill="#2270b2"/>
<circle cx="330.3" cy="220.5" r="1.05" fill="#2270b2"/>
<circle cx="343.7" cy="210.3" r="1.05" fill="#2270b2"/>
<circle cx="342.5" cy="213.6" r="1.05" fill="#2270b2"/>
<circle cx="325.5" cy="213.7" r="1.05" fill="#2270b2"/>
<circle cx="335.9" cy="218.4" r="1.05" fill="#2270b2"/>
<circle cx="325.3" cy="226.0" r="1.05" fill="#2270b2"/>
<circle cx="331.6" cy="210.0" r="1.05" fill="#2270b2"/>
<circle cx="326.8" cy="209.9" r="1.05" fill="#2270b2"/>
<circle cx="326.4" cy="218.1" r="1.05" fill="#2270b2"/>
<circle cx="327.9" cy="210.9" r="1.05" fill="#2270b2"/>
<circle cx="334.5" cy="218.3" r="1.05" fill="#2270b2"/>
<circle cx="326.0" cy="214.2" r="1.05" fill="#2270b2"/>
<circle cx="330.2" cy="217.3" r="1.05" fill="#2270b2"/>
<circle cx="331.9" cy="219.2" r="1.05" fill="#2270b2"/>
<circle cx="329.1" cy="216.3" r="1.05" fill="#2270b2"/>
<circle cx="336.1" cy="219.1" r="1.05" fill="#2270b2"/>
<circle cx="327.8" cy="210.9" r="1.05" fill="#2270b2"/>
<circle cx="326.9" cy="210.5" r="1.05" fill="#2270b2"/>
<circle cx="328.5" cy="216.4" r="1.05" fill="#2270b2"/>
<circle cx="333.5" cy="209.9" r="1.05" fill="#2270b2"/>
<circle cx="327.3" cy="215.5" r="1.05" fill="#2270b2"/>
<circle cx="331.5" cy="217.6" r="1.05" fill="#2270b2"/>
<circle cx="337.3" cy="214.4" r="1.05" fill="#2270b2"/>
<circle cx="329.5" cy="217.2" r="1.05" fill="#2270b2"/>
<circle cx="327.5" cy="216.9" r="1.05" fill="#2270b2"/>
<circle cx="334.1" cy="203.7" r="1.05" fill="#2270b2"/>
<circle cx="325.4" cy="214.8" r="1.05" fill="#2270b2"/>
<circle cx="331.6" cy="212.9" r="1.05" fill="#2270b2"/>
<circle cx="340.6" cy="220.4" r="1.05" fill="#2270b2"/>
<circle cx="330.3" cy="221.1" r="1.05" fill="#2270b2"/>
<circle cx="325.2" cy="213.4" r="1.05" fill="#2270b2"/>
<circle cx="325.9" cy="220.0" r="1.05" fill="#2270b2"/>
<circle cx="340.7" cy="212.9" r="1.05" fill="#2270b2"/>
<circle cx="342.0" cy="216.8" r="1.05" fill="#2270b2"/>
<circle cx="332.9" cy="209.1" r="1.05" fill="#2270b2"/>
<circle cx="328.1" cy="218.7" r="1.05" fill="#2270b2"/>
<circle cx="335.4" cy="218.1" r="1.05" fill="#2270b2"/>
<circle cx="326.1" cy="209.2" r="1.05" fill="#2270b2"/>
<circle cx="329.8" cy="217.4" r="1.05" fill="#2270b2"/>
<circle cx="335.4" cy="220.9" r="1.05" fill="#2270b2"/>
<circle cx="332.3" cy="214.7" r="1.05" fill="#2270b2"/>
<circle cx="347.4" cy="218.6" r="1.05" fill="#2270b2"/>
<circle cx="327.0" cy="211.5" r="1.05" fill="#2270b2"/>
<circle cx="325.6" cy="211.1" r="1.05" fill="#2270b2"/>
<circle cx="325.2" cy="210.0" r="1.05" fill="#2270b2"/>
<circle cx="348.7" cy="217.2" r="1.05" fill="#2270b2"/>
<circle cx="329.1" cy="205.7" r="1.05" fill="#2270b2"/>
<circle cx="336.0" cy="217.9" r="1.05" fill="#2270b2"/>
<circle cx="330.9" cy="214.7" r="1.05" fill="#2270b2"/>
<circle cx="329.8" cy="216.5" r="1.05" fill="#2270b2"/>
<circle cx="327.5" cy="213.6" r="1.05" fill="#2270b2"/>
<circle cx="329.1" cy="218.6" r="1.05" fill="#2270b2"/>
<circle cx="350.2" cy="217.4" r="1.05" fill="#2270b2"/>
<circle cx="330.2" cy="220.6" r="1.05" fill="#2270b2"/>
<circle cx="335.2" cy="219.7" r="1.05" fill="#2270b2"/>
<circle cx="334.3" cy="218.5" r="1.05" fill="#2270b2"/>
<circle cx="327.9" cy="213.0" r="1.05" fill="#2270b2"/>
<circle cx="331.9" cy="214.3" r="1.05" fill="#2270b2"/>
<circle cx="326.5" cy="208.5" r="1.05" fill="#2270b2"/>
<circle cx="325.5" cy="214.7" r="1.05" fill="#2270b2"/>
<circle cx="326.6" cy="214.8" r="1.05" fill="#2270b2"/>
<circle cx="352.9" cy="218.7" r="1.05" fill="#2270b2"/>
<circle cx="327.5" cy="223.9" r="1.05" fill="#2270b2"/>
<circle cx="325.6" cy="210.6" r="1.05" fill="#2270b2"/>
<circle cx="328.8" cy="208.0" r="1.05" fill="#2270b2"/>
<circle cx="325.4" cy="212.7" r="1.05" fill="#2270b2"/>
<circle cx="328.2" cy="216.6" r="1.05" fill="#2270b2"/>
<circle cx="327.9" cy="223.8" r="1.05" fill="#2270b2"/>
<circle cx="325.8" cy="210.0" r="1.05" fill="#2270b2"/>
<circle cx="331.0" cy="209.2" r="1.05" fill="#2270b2"/>
<circle cx="325.8" cy="210.2" r="1.05" fill="#2270b2"/>
<circle cx="327.6" cy="221.4" r="1.05" fill="#2270b2"/>
<circle cx="325.5" cy="212.9" r="1.05" fill="#2270b2"/>
<circle cx="330.7" cy="213.8" r="1.05" fill="#2270b2"/>
<circle cx="327.1" cy="210.3" r="1.05" fill="#2270b2"/>
<circle cx="331.0" cy="217.7" r="1.05" fill="#2270b2"/>
<circle cx="352.3" cy="210.9" r="1.05" fill="#2270b2"/>
<circle cx="329.1" cy="215.3" r="1.05" fill="#2270b2"/>
<circle cx="337.2" cy="211.2" r="1.05" fill="#2270b2"/>
<circle cx="333.6" cy="212.2" r="1.05" fill="#2270b2"/>
<circle cx="328.0" cy="221.0" r="1.05" fill="#2270b2"/>
<circle cx="328.9" cy="212.8" r="1.05" fill="#2270b2"/>
<circle cx="345.1" cy="216.5" r="1.05" fill="#2270b2"/>
<circle cx="337.4" cy="212.4" r="1.05" fill="#2270b2"/>
<circle cx="332.6" cy="209.9" r="1.05" fill="#2270b2"/>
<circle cx="327.5" cy="217.0" r="1.05" fill="#2270b2"/>
<circle cx="337.2" cy="210.2" r="1.05" fill="#2270b2"/>
<circle cx="328.0" cy="215.8" r="1.05" fill="#2270b2"/>
<circle cx="328.7" cy="220.1" r="1.05" fill="#2270b2"/>
<circle cx="327.3" cy="214.3" r="1.05" fill="#2270b2"/>
<circle cx="345.5" cy="210.3" r="1.05" fill="#2270b2"/>
<circle cx="327.4" cy="220.6" r="1.05" fill="#2270b2"/>
<circle cx="328.7" cy="214.8" r="1.05" fill="#2270b2"/>
<circle cx="333.9" cy="211.5" r="1.05" fill="#2270b2"/>
<circle cx="331.8" cy="215.0" r="1.05" fill="#2270b2"/>
<circle cx="327.4" cy="218.8" r="1.05" fill="#2270b2"/>
<circle cx="330.3" cy="216.9" r="1.05" fill="#2270b2"/>
<circle cx="336.1" cy="216.9" r="1.05" fill="#2270b2"/>
<circle cx="339.8" cy="213.8" r="1.05" fill="#2270b2"/>
<circle cx="326.6" cy="210.3" r="1.05" fill="#2270b2"/>
<circle cx="330.6" cy="215.2" r="1.05" fill="#2270b2"/>
<circle cx="325.9" cy="207.7" r="1.05" fill="#2270b2"/>
<circle cx="328.9" cy="217.4" r="1.05" fill="#2270b2"/>
<circle cx="333.6" cy="210.2" r="1.05" fill="#2270b2"/>
<circle cx="325.7" cy="222.6" r="1.05" fill="#2270b2"/>
<circle cx="331.3" cy="216.0" r="1.05" fill="#2270b2"/>
<circle cx="329.3" cy="216.1" r="1.05" fill="#2270b2"/>
<circle cx="331.0" cy="213.5" r="1.05" fill="#2270b2"/>
<circle cx="333.7" cy="215.1" r="1.05" fill="#2270b2"/>
<circle cx="341.3" cy="210.7" r="1.05" fill="#2270b2"/>
<circle cx="350.3" cy="210.5" r="1.05" fill="#2270b2"/>
<circle cx="326.5" cy="215.7" r="1.05" fill="#2270b2"/>
<circle cx="327.9" cy="215.5" r="1.05" fill="#2270b2"/>
<circle cx="328.9" cy="203.0" r="1.05" fill="#2270b2"/>
<circle cx="325.1" cy="221.8" r="1.05" fill="#2270b2"/>
<circle cx="326.8" cy="212.4" r="1.05" fill="#2270b2"/>
<circle cx="332.7" cy="218.9" r="1.05" fill="#2270b2"/>
<circle cx="325.1" cy="221.2" r="1.05" fill="#2270b2"/>
<circle cx="348.9" cy="214.5" r="1.05" fill="#2270b2"/>
<circle cx="330.3" cy="213.0" r="1.05" fill="#2270b2"/>
<circle cx="326.8" cy="218.1" r="1.05" fill="#2270b2"/>
<circle cx="329.7" cy="213.3" r="1.05" fill="#2270b2"/>
<circle cx="329.8" cy="210.3" r="1.05" fill="#2270b2"/>
<circle cx="338.1" cy="202.5" r="1.05" fill="#2270b2"/>
<circle cx="330.5" cy="218.2" r="1.05" fill="#2270b2"/>
<circle cx="334.9" cy="215.1" r="1.05" fill="#2270b2"/>
<circle cx="316.5" cy="192.7" r="1.05" fill="#2270b2"/>
<circle cx="333.2" cy="183.9" r="1.05" fill="#2270b2"/>
<circle cx="346.1" cy="178.9" r="1.05" fill="#2270b2"/>
<circle cx="390.6" cy="179.6" r="1.05" fill="#2270b2"/>
<circle cx="330.1" cy="198.7" r="1.05" fill="#2270b2"/>
<circle cx="336.1" cy="197.5" r="1.05" fill="#2270b2"/>
<circle cx="338.5" cy="204.2" r="1.05" fill="#2270b2"/>
<circle cx="352.8" cy="198.7" r="1.05" fill="#2270b2"/>
<circle cx="355.2" cy="202.3" r="1.05" fill="#2270b2"/>
<circle cx="358.8" cy="201.8" r="1.05" fill="#2270b2"/>
<circle cx="362.4" cy="197.0" r="1.05" fill="#2270b2"/>
<circle cx="370.8" cy="199.9" r="1.05" fill="#2270b2"/>
<circle cx="369.6" cy="202.3" r="1.05" fill="#2270b2"/>
<circle cx="348.0" cy="217.9" r="1.05" fill="#2270b2"/>
<circle cx="349.3" cy="221.5" r="1.05" fill="#2270b2"/>
<circle cx="340.9" cy="221.5" r="1.05" fill="#2270b2"/>
<circle cx="352.8" cy="214.3" r="1.05" fill="#2270b2"/>
<circle cx="313.3" cy="229.0" r="1.05" fill="#2270b2"/>
<circle cx="316.2" cy="230.5" r="1.05" fill="#2270b2"/>
<circle cx="344.0" cy="210.0" r="1.05" fill="#2270b2"/>
<circle cx="347.0" cy="206.0" r="1.05" fill="#2270b2"/>
<circle cx="332.0" cy="201.0" r="1.05" fill="#2270b2"/>
<line x1="310" y1="222.5" x2="391.3" y2="196" stroke="#2270b2" stroke-width="0.6"/>
<text x="351.40" y="169.35" font-size="3.75" text-anchor="middle" fill="#1e1e1e" stroke="#1e1e1e" stroke-width="0.12" >Correlation between gene expression</text>
<text x="351.40" y="173.45" font-size="3.75" text-anchor="middle" fill="#1e1e1e" stroke="#1e1e1e" stroke-width="0.12" >in in-house pre-surgical cfRNAs and CRC tumor samples</text>
<text x="296.60" y="204.60" font-size="3.2" text-anchor="middle" fill="#2a2a2a" stroke="#2a2a2a" stroke-width="0.09" transform="rotate(-90 296.6 204.6)">Normalized expression</text>
<text x="299.90" y="204.60" font-size="3.2" text-anchor="middle" fill="#2a2a2a" stroke="#2a2a2a" stroke-width="0.09" transform="rotate(-90 299.9 204.6)">in pre-surgical cfRNAs</text>
<text x="346.30" y="240.80" font-size="3.1" text-anchor="middle" fill="#2a2a2a" stroke="#2a2a2a" stroke-width="0.1" >Normalized expression in CRC tumor samples</text>
<text x="369.70" y="225.70" font-size="3.0" text-anchor="start" fill="#444" stroke="#444" stroke-width="0.03" >R² = 0.35</text>
<text x="369.70" y="229.60" font-size="3.0" text-anchor="start" fill="#444" stroke="#444" stroke-width="0.03" textLength="22.5" lengthAdjust="spacing">p &lt; 9.87e-217</text>
</svg>
</body></html>
